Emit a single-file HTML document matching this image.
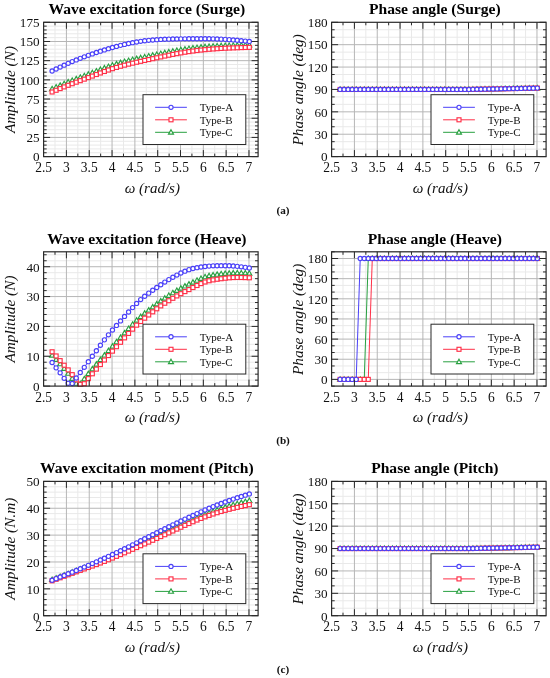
<!DOCTYPE html>
<html><head><meta charset="utf-8"><title>Wave excitation</title>
<style>html,body{margin:0;padding:0;background:#fff;}body{width:550px;height:678px;position:relative;overflow:hidden;}</style>
</head><body>
<svg width="550" height="678" viewBox="0 0 550 678" style="position:absolute;left:0;top:0">
<rect width="550" height="678" fill="#fff"/>
<line x1="55.01" y1="22.3" x2="55.01" y2="156.6" stroke="#e9e9e9" stroke-width="1"/>
<line x1="77.83" y1="22.3" x2="77.83" y2="156.6" stroke="#e9e9e9" stroke-width="1"/>
<line x1="100.65" y1="22.3" x2="100.65" y2="156.6" stroke="#e9e9e9" stroke-width="1"/>
<line x1="123.47" y1="22.3" x2="123.47" y2="156.6" stroke="#e9e9e9" stroke-width="1"/>
<line x1="146.29" y1="22.3" x2="146.29" y2="156.6" stroke="#e9e9e9" stroke-width="1"/>
<line x1="169.11" y1="22.3" x2="169.11" y2="156.6" stroke="#e9e9e9" stroke-width="1"/>
<line x1="191.92" y1="22.3" x2="191.92" y2="156.6" stroke="#e9e9e9" stroke-width="1"/>
<line x1="214.74" y1="22.3" x2="214.74" y2="156.6" stroke="#e9e9e9" stroke-width="1"/>
<line x1="237.56" y1="22.3" x2="237.56" y2="156.6" stroke="#e9e9e9" stroke-width="1"/>
<line x1="43.6" y1="152.76" x2="258.1" y2="152.76" stroke="#e9e9e9" stroke-width="1"/>
<line x1="43.6" y1="148.93" x2="258.1" y2="148.93" stroke="#e9e9e9" stroke-width="1"/>
<line x1="43.6" y1="145.09" x2="258.1" y2="145.09" stroke="#e9e9e9" stroke-width="1"/>
<line x1="43.6" y1="141.25" x2="258.1" y2="141.25" stroke="#e9e9e9" stroke-width="1"/>
<line x1="43.6" y1="133.58" x2="258.1" y2="133.58" stroke="#e9e9e9" stroke-width="1"/>
<line x1="43.6" y1="129.74" x2="258.1" y2="129.74" stroke="#e9e9e9" stroke-width="1"/>
<line x1="43.6" y1="125.9" x2="258.1" y2="125.9" stroke="#e9e9e9" stroke-width="1"/>
<line x1="43.6" y1="122.07" x2="258.1" y2="122.07" stroke="#e9e9e9" stroke-width="1"/>
<line x1="43.6" y1="114.39" x2="258.1" y2="114.39" stroke="#e9e9e9" stroke-width="1"/>
<line x1="43.6" y1="110.55" x2="258.1" y2="110.55" stroke="#e9e9e9" stroke-width="1"/>
<line x1="43.6" y1="106.72" x2="258.1" y2="106.72" stroke="#e9e9e9" stroke-width="1"/>
<line x1="43.6" y1="102.88" x2="258.1" y2="102.88" stroke="#e9e9e9" stroke-width="1"/>
<line x1="43.6" y1="95.21" x2="258.1" y2="95.21" stroke="#e9e9e9" stroke-width="1"/>
<line x1="43.6" y1="91.37" x2="258.1" y2="91.37" stroke="#e9e9e9" stroke-width="1"/>
<line x1="43.6" y1="87.53" x2="258.1" y2="87.53" stroke="#e9e9e9" stroke-width="1"/>
<line x1="43.6" y1="83.69" x2="258.1" y2="83.69" stroke="#e9e9e9" stroke-width="1"/>
<line x1="43.6" y1="76.02" x2="258.1" y2="76.02" stroke="#e9e9e9" stroke-width="1"/>
<line x1="43.6" y1="72.18" x2="258.1" y2="72.18" stroke="#e9e9e9" stroke-width="1"/>
<line x1="43.6" y1="68.35" x2="258.1" y2="68.35" stroke="#e9e9e9" stroke-width="1"/>
<line x1="43.6" y1="64.51" x2="258.1" y2="64.51" stroke="#e9e9e9" stroke-width="1"/>
<line x1="43.6" y1="56.83" x2="258.1" y2="56.83" stroke="#e9e9e9" stroke-width="1"/>
<line x1="43.6" y1="53" x2="258.1" y2="53" stroke="#e9e9e9" stroke-width="1"/>
<line x1="43.6" y1="49.16" x2="258.1" y2="49.16" stroke="#e9e9e9" stroke-width="1"/>
<line x1="43.6" y1="45.32" x2="258.1" y2="45.32" stroke="#e9e9e9" stroke-width="1"/>
<line x1="43.6" y1="37.65" x2="258.1" y2="37.65" stroke="#e9e9e9" stroke-width="1"/>
<line x1="43.6" y1="33.81" x2="258.1" y2="33.81" stroke="#e9e9e9" stroke-width="1"/>
<line x1="43.6" y1="29.97" x2="258.1" y2="29.97" stroke="#e9e9e9" stroke-width="1"/>
<line x1="43.6" y1="26.14" x2="258.1" y2="26.14" stroke="#e9e9e9" stroke-width="1"/>
<line x1="66.42" y1="22.3" x2="66.42" y2="156.6" stroke="#b6b6b6" stroke-width="1"/>
<line x1="89.24" y1="22.3" x2="89.24" y2="156.6" stroke="#b6b6b6" stroke-width="1"/>
<line x1="112.06" y1="22.3" x2="112.06" y2="156.6" stroke="#b6b6b6" stroke-width="1"/>
<line x1="134.88" y1="22.3" x2="134.88" y2="156.6" stroke="#b6b6b6" stroke-width="1"/>
<line x1="157.7" y1="22.3" x2="157.7" y2="156.6" stroke="#b6b6b6" stroke-width="1"/>
<line x1="180.51" y1="22.3" x2="180.51" y2="156.6" stroke="#b6b6b6" stroke-width="1"/>
<line x1="203.33" y1="22.3" x2="203.33" y2="156.6" stroke="#b6b6b6" stroke-width="1"/>
<line x1="226.15" y1="22.3" x2="226.15" y2="156.6" stroke="#b6b6b6" stroke-width="1"/>
<line x1="248.97" y1="22.3" x2="248.97" y2="156.6" stroke="#b6b6b6" stroke-width="1"/>
<line x1="43.6" y1="137.41" x2="258.1" y2="137.41" stroke="#b6b6b6" stroke-width="1"/>
<line x1="43.6" y1="118.23" x2="258.1" y2="118.23" stroke="#b6b6b6" stroke-width="1"/>
<line x1="43.6" y1="99.04" x2="258.1" y2="99.04" stroke="#b6b6b6" stroke-width="1"/>
<line x1="43.6" y1="79.86" x2="258.1" y2="79.86" stroke="#b6b6b6" stroke-width="1"/>
<line x1="43.6" y1="60.67" x2="258.1" y2="60.67" stroke="#b6b6b6" stroke-width="1"/>
<line x1="43.6" y1="41.49" x2="258.1" y2="41.49" stroke="#b6b6b6" stroke-width="1"/>
<polyline points="52.09,88.91 56.11,87.18 60.14,85.46 64.16,83.77 68.19,82.13 72.22,80.53 76.24,78.97 80.27,77.43 84.29,75.89 88.32,74.34 92.34,72.77 96.37,71.19 100.39,69.63 104.42,68.11 108.44,66.64 112.47,65.27 116.49,63.99 120.52,62.8 124.54,61.69 128.57,60.64 132.59,59.65 136.62,58.72 140.65,57.86 144.67,57.02 148.7,56.19 152.72,55.35 156.75,54.51 160.77,53.68 164.8,52.85 168.82,52.05 172.85,51.28 176.87,50.55 180.9,49.87 184.92,49.24 188.95,48.66 192.97,48.13 197,47.66 201.02,47.24 205.05,46.87 209.08,46.55 213.1,46.28 217.13,46.04 221.15,45.84 225.18,45.67 229.2,45.53 233.23,45.42 237.25,45.32 241.28,45.23 245.3,45.16 249.33,45.08" fill="none" stroke="#28a040" stroke-width="1"/>
<path d="M52.09 86.31L54.59 90.71L49.59 90.71Z" fill="#fff" stroke="#28a040" stroke-width="1.15" stroke-linejoin="miter"/>
<path d="M56.11 84.58L58.61 88.98L53.61 88.98Z" fill="#fff" stroke="#28a040" stroke-width="1.15" stroke-linejoin="miter"/>
<path d="M60.14 82.86L62.64 87.26L57.64 87.26Z" fill="#fff" stroke="#28a040" stroke-width="1.15" stroke-linejoin="miter"/>
<path d="M64.16 81.17L66.66 85.57L61.66 85.57Z" fill="#fff" stroke="#28a040" stroke-width="1.15" stroke-linejoin="miter"/>
<path d="M68.19 79.53L70.69 83.93L65.69 83.93Z" fill="#fff" stroke="#28a040" stroke-width="1.15" stroke-linejoin="miter"/>
<path d="M72.22 77.93L74.72 82.33L69.72 82.33Z" fill="#fff" stroke="#28a040" stroke-width="1.15" stroke-linejoin="miter"/>
<path d="M76.24 76.37L78.74 80.77L73.74 80.77Z" fill="#fff" stroke="#28a040" stroke-width="1.15" stroke-linejoin="miter"/>
<path d="M80.27 74.83L82.77 79.23L77.77 79.23Z" fill="#fff" stroke="#28a040" stroke-width="1.15" stroke-linejoin="miter"/>
<path d="M84.29 73.29L86.79 77.69L81.79 77.69Z" fill="#fff" stroke="#28a040" stroke-width="1.15" stroke-linejoin="miter"/>
<path d="M88.32 71.74L90.82 76.14L85.82 76.14Z" fill="#fff" stroke="#28a040" stroke-width="1.15" stroke-linejoin="miter"/>
<path d="M92.34 70.17L94.84 74.57L89.84 74.57Z" fill="#fff" stroke="#28a040" stroke-width="1.15" stroke-linejoin="miter"/>
<path d="M96.37 68.59L98.87 72.99L93.87 72.99Z" fill="#fff" stroke="#28a040" stroke-width="1.15" stroke-linejoin="miter"/>
<path d="M100.39 67.03L102.89 71.43L97.89 71.43Z" fill="#fff" stroke="#28a040" stroke-width="1.15" stroke-linejoin="miter"/>
<path d="M104.42 65.51L106.92 69.91L101.92 69.91Z" fill="#fff" stroke="#28a040" stroke-width="1.15" stroke-linejoin="miter"/>
<path d="M108.44 64.04L110.94 68.44L105.94 68.44Z" fill="#fff" stroke="#28a040" stroke-width="1.15" stroke-linejoin="miter"/>
<path d="M112.47 62.67L114.97 67.07L109.97 67.07Z" fill="#fff" stroke="#28a040" stroke-width="1.15" stroke-linejoin="miter"/>
<path d="M116.49 61.39L118.99 65.79L113.99 65.79Z" fill="#fff" stroke="#28a040" stroke-width="1.15" stroke-linejoin="miter"/>
<path d="M120.52 60.2L123.02 64.6L118.02 64.6Z" fill="#fff" stroke="#28a040" stroke-width="1.15" stroke-linejoin="miter"/>
<path d="M124.54 59.09L127.04 63.49L122.04 63.49Z" fill="#fff" stroke="#28a040" stroke-width="1.15" stroke-linejoin="miter"/>
<path d="M128.57 58.04L131.07 62.44L126.07 62.44Z" fill="#fff" stroke="#28a040" stroke-width="1.15" stroke-linejoin="miter"/>
<path d="M132.59 57.05L135.09 61.45L130.09 61.45Z" fill="#fff" stroke="#28a040" stroke-width="1.15" stroke-linejoin="miter"/>
<path d="M136.62 56.12L139.12 60.52L134.12 60.52Z" fill="#fff" stroke="#28a040" stroke-width="1.15" stroke-linejoin="miter"/>
<path d="M140.65 55.26L143.15 59.66L138.15 59.66Z" fill="#fff" stroke="#28a040" stroke-width="1.15" stroke-linejoin="miter"/>
<path d="M144.67 54.42L147.17 58.82L142.17 58.82Z" fill="#fff" stroke="#28a040" stroke-width="1.15" stroke-linejoin="miter"/>
<path d="M148.7 53.59L151.2 57.99L146.2 57.99Z" fill="#fff" stroke="#28a040" stroke-width="1.15" stroke-linejoin="miter"/>
<path d="M152.72 52.75L155.22 57.15L150.22 57.15Z" fill="#fff" stroke="#28a040" stroke-width="1.15" stroke-linejoin="miter"/>
<path d="M156.75 51.91L159.25 56.31L154.25 56.31Z" fill="#fff" stroke="#28a040" stroke-width="1.15" stroke-linejoin="miter"/>
<path d="M160.77 51.08L163.27 55.48L158.27 55.48Z" fill="#fff" stroke="#28a040" stroke-width="1.15" stroke-linejoin="miter"/>
<path d="M164.8 50.25L167.3 54.65L162.3 54.65Z" fill="#fff" stroke="#28a040" stroke-width="1.15" stroke-linejoin="miter"/>
<path d="M168.82 49.45L171.32 53.85L166.32 53.85Z" fill="#fff" stroke="#28a040" stroke-width="1.15" stroke-linejoin="miter"/>
<path d="M172.85 48.68L175.35 53.08L170.35 53.08Z" fill="#fff" stroke="#28a040" stroke-width="1.15" stroke-linejoin="miter"/>
<path d="M176.87 47.95L179.37 52.35L174.37 52.35Z" fill="#fff" stroke="#28a040" stroke-width="1.15" stroke-linejoin="miter"/>
<path d="M180.9 47.27L183.4 51.67L178.4 51.67Z" fill="#fff" stroke="#28a040" stroke-width="1.15" stroke-linejoin="miter"/>
<path d="M184.92 46.64L187.42 51.04L182.42 51.04Z" fill="#fff" stroke="#28a040" stroke-width="1.15" stroke-linejoin="miter"/>
<path d="M188.95 46.06L191.45 50.46L186.45 50.46Z" fill="#fff" stroke="#28a040" stroke-width="1.15" stroke-linejoin="miter"/>
<path d="M192.97 45.53L195.47 49.93L190.47 49.93Z" fill="#fff" stroke="#28a040" stroke-width="1.15" stroke-linejoin="miter"/>
<path d="M197 45.06L199.5 49.46L194.5 49.46Z" fill="#fff" stroke="#28a040" stroke-width="1.15" stroke-linejoin="miter"/>
<path d="M201.02 44.64L203.52 49.04L198.52 49.04Z" fill="#fff" stroke="#28a040" stroke-width="1.15" stroke-linejoin="miter"/>
<path d="M205.05 44.27L207.55 48.67L202.55 48.67Z" fill="#fff" stroke="#28a040" stroke-width="1.15" stroke-linejoin="miter"/>
<path d="M209.08 43.95L211.58 48.35L206.58 48.35Z" fill="#fff" stroke="#28a040" stroke-width="1.15" stroke-linejoin="miter"/>
<path d="M213.1 43.68L215.6 48.08L210.6 48.08Z" fill="#fff" stroke="#28a040" stroke-width="1.15" stroke-linejoin="miter"/>
<path d="M217.13 43.44L219.63 47.84L214.63 47.84Z" fill="#fff" stroke="#28a040" stroke-width="1.15" stroke-linejoin="miter"/>
<path d="M221.15 43.24L223.65 47.64L218.65 47.64Z" fill="#fff" stroke="#28a040" stroke-width="1.15" stroke-linejoin="miter"/>
<path d="M225.18 43.07L227.68 47.47L222.68 47.47Z" fill="#fff" stroke="#28a040" stroke-width="1.15" stroke-linejoin="miter"/>
<path d="M229.2 42.93L231.7 47.33L226.7 47.33Z" fill="#fff" stroke="#28a040" stroke-width="1.15" stroke-linejoin="miter"/>
<path d="M233.23 42.82L235.73 47.22L230.73 47.22Z" fill="#fff" stroke="#28a040" stroke-width="1.15" stroke-linejoin="miter"/>
<path d="M237.25 42.72L239.75 47.12L234.75 47.12Z" fill="#fff" stroke="#28a040" stroke-width="1.15" stroke-linejoin="miter"/>
<path d="M241.28 42.63L243.78 47.03L238.78 47.03Z" fill="#fff" stroke="#28a040" stroke-width="1.15" stroke-linejoin="miter"/>
<path d="M245.3 42.56L247.8 46.96L242.8 46.96Z" fill="#fff" stroke="#28a040" stroke-width="1.15" stroke-linejoin="miter"/>
<path d="M249.33 42.48L251.83 46.88L246.83 46.88Z" fill="#fff" stroke="#28a040" stroke-width="1.15" stroke-linejoin="miter"/>
<polyline points="52.09,91.98 56.11,90.27 60.14,88.58 64.16,86.91 68.19,85.29 72.22,83.72 76.24,82.17 80.27,80.65 84.29,79.13 88.32,77.61 92.34,76.06 96.37,74.51 100.39,72.97 104.42,71.47 108.44,70.03 112.47,68.67 116.49,67.42 120.52,66.25 124.54,65.16 128.57,64.14 132.59,63.16 136.62,62.23 140.65,61.33 144.67,60.44 148.7,59.57 152.72,58.69 156.75,57.81 160.77,56.93 164.8,56.06 168.82,55.21 172.85,54.4 176.87,53.63 180.9,52.9 184.92,52.23 188.95,51.61 192.97,51.04 197,50.52 201.02,50.06 205.05,49.65 209.08,49.29 213.1,48.97 217.13,48.69 221.15,48.44 225.18,48.23 229.2,48.05 233.23,47.89 237.25,47.75 241.28,47.62 245.3,47.5 249.33,47.38" fill="none" stroke="#ff3048" stroke-width="1"/>
<rect x="50.09" y="89.98" width="4" height="4" fill="#fff" stroke="#ff3048" stroke-width="1.15"/>
<rect x="54.11" y="88.27" width="4" height="4" fill="#fff" stroke="#ff3048" stroke-width="1.15"/>
<rect x="58.14" y="86.58" width="4" height="4" fill="#fff" stroke="#ff3048" stroke-width="1.15"/>
<rect x="62.16" y="84.91" width="4" height="4" fill="#fff" stroke="#ff3048" stroke-width="1.15"/>
<rect x="66.19" y="83.29" width="4" height="4" fill="#fff" stroke="#ff3048" stroke-width="1.15"/>
<rect x="70.22" y="81.72" width="4" height="4" fill="#fff" stroke="#ff3048" stroke-width="1.15"/>
<rect x="74.24" y="80.17" width="4" height="4" fill="#fff" stroke="#ff3048" stroke-width="1.15"/>
<rect x="78.27" y="78.65" width="4" height="4" fill="#fff" stroke="#ff3048" stroke-width="1.15"/>
<rect x="82.29" y="77.13" width="4" height="4" fill="#fff" stroke="#ff3048" stroke-width="1.15"/>
<rect x="86.32" y="75.61" width="4" height="4" fill="#fff" stroke="#ff3048" stroke-width="1.15"/>
<rect x="90.34" y="74.06" width="4" height="4" fill="#fff" stroke="#ff3048" stroke-width="1.15"/>
<rect x="94.37" y="72.51" width="4" height="4" fill="#fff" stroke="#ff3048" stroke-width="1.15"/>
<rect x="98.39" y="70.97" width="4" height="4" fill="#fff" stroke="#ff3048" stroke-width="1.15"/>
<rect x="102.42" y="69.47" width="4" height="4" fill="#fff" stroke="#ff3048" stroke-width="1.15"/>
<rect x="106.44" y="68.03" width="4" height="4" fill="#fff" stroke="#ff3048" stroke-width="1.15"/>
<rect x="110.47" y="66.67" width="4" height="4" fill="#fff" stroke="#ff3048" stroke-width="1.15"/>
<rect x="114.49" y="65.42" width="4" height="4" fill="#fff" stroke="#ff3048" stroke-width="1.15"/>
<rect x="118.52" y="64.25" width="4" height="4" fill="#fff" stroke="#ff3048" stroke-width="1.15"/>
<rect x="122.54" y="63.16" width="4" height="4" fill="#fff" stroke="#ff3048" stroke-width="1.15"/>
<rect x="126.57" y="62.14" width="4" height="4" fill="#fff" stroke="#ff3048" stroke-width="1.15"/>
<rect x="130.59" y="61.16" width="4" height="4" fill="#fff" stroke="#ff3048" stroke-width="1.15"/>
<rect x="134.62" y="60.23" width="4" height="4" fill="#fff" stroke="#ff3048" stroke-width="1.15"/>
<rect x="138.65" y="59.33" width="4" height="4" fill="#fff" stroke="#ff3048" stroke-width="1.15"/>
<rect x="142.67" y="58.44" width="4" height="4" fill="#fff" stroke="#ff3048" stroke-width="1.15"/>
<rect x="146.7" y="57.57" width="4" height="4" fill="#fff" stroke="#ff3048" stroke-width="1.15"/>
<rect x="150.72" y="56.69" width="4" height="4" fill="#fff" stroke="#ff3048" stroke-width="1.15"/>
<rect x="154.75" y="55.81" width="4" height="4" fill="#fff" stroke="#ff3048" stroke-width="1.15"/>
<rect x="158.77" y="54.93" width="4" height="4" fill="#fff" stroke="#ff3048" stroke-width="1.15"/>
<rect x="162.8" y="54.06" width="4" height="4" fill="#fff" stroke="#ff3048" stroke-width="1.15"/>
<rect x="166.82" y="53.21" width="4" height="4" fill="#fff" stroke="#ff3048" stroke-width="1.15"/>
<rect x="170.85" y="52.4" width="4" height="4" fill="#fff" stroke="#ff3048" stroke-width="1.15"/>
<rect x="174.87" y="51.63" width="4" height="4" fill="#fff" stroke="#ff3048" stroke-width="1.15"/>
<rect x="178.9" y="50.9" width="4" height="4" fill="#fff" stroke="#ff3048" stroke-width="1.15"/>
<rect x="182.92" y="50.23" width="4" height="4" fill="#fff" stroke="#ff3048" stroke-width="1.15"/>
<rect x="186.95" y="49.61" width="4" height="4" fill="#fff" stroke="#ff3048" stroke-width="1.15"/>
<rect x="190.97" y="49.04" width="4" height="4" fill="#fff" stroke="#ff3048" stroke-width="1.15"/>
<rect x="195" y="48.52" width="4" height="4" fill="#fff" stroke="#ff3048" stroke-width="1.15"/>
<rect x="199.02" y="48.06" width="4" height="4" fill="#fff" stroke="#ff3048" stroke-width="1.15"/>
<rect x="203.05" y="47.65" width="4" height="4" fill="#fff" stroke="#ff3048" stroke-width="1.15"/>
<rect x="207.08" y="47.29" width="4" height="4" fill="#fff" stroke="#ff3048" stroke-width="1.15"/>
<rect x="211.1" y="46.97" width="4" height="4" fill="#fff" stroke="#ff3048" stroke-width="1.15"/>
<rect x="215.13" y="46.69" width="4" height="4" fill="#fff" stroke="#ff3048" stroke-width="1.15"/>
<rect x="219.15" y="46.44" width="4" height="4" fill="#fff" stroke="#ff3048" stroke-width="1.15"/>
<rect x="223.18" y="46.23" width="4" height="4" fill="#fff" stroke="#ff3048" stroke-width="1.15"/>
<rect x="227.2" y="46.05" width="4" height="4" fill="#fff" stroke="#ff3048" stroke-width="1.15"/>
<rect x="231.23" y="45.89" width="4" height="4" fill="#fff" stroke="#ff3048" stroke-width="1.15"/>
<rect x="235.25" y="45.75" width="4" height="4" fill="#fff" stroke="#ff3048" stroke-width="1.15"/>
<rect x="239.28" y="45.62" width="4" height="4" fill="#fff" stroke="#ff3048" stroke-width="1.15"/>
<rect x="243.3" y="45.5" width="4" height="4" fill="#fff" stroke="#ff3048" stroke-width="1.15"/>
<rect x="247.33" y="45.38" width="4" height="4" fill="#fff" stroke="#ff3048" stroke-width="1.15"/>
<polyline points="52.09,71.03 56.11,69.04 60.14,67.08 64.16,65.16 68.19,63.33 72.22,61.58 76.24,59.92 80.27,58.33 84.29,56.8 88.32,55.32 92.34,53.9 96.37,52.52 100.39,51.19 104.42,49.91 108.44,48.68 112.47,47.51 116.49,46.4 120.52,45.35 124.54,44.38 128.57,43.48 132.59,42.67 136.62,41.95 140.65,41.33 144.67,40.79 148.7,40.34 152.72,39.97 156.75,39.68 160.77,39.44 164.8,39.26 168.82,39.13 172.85,39.02 176.87,38.94 180.9,38.87 184.92,38.81 188.95,38.77 192.97,38.74 197,38.73 201.02,38.72 205.05,38.74 209.08,38.78 213.1,38.86 217.13,38.97 221.15,39.14 225.18,39.36 229.2,39.63 233.23,39.94 237.25,40.29 241.28,40.66 245.3,41.05 249.33,41.44" fill="none" stroke="#4a40f8" stroke-width="1"/>
<circle cx="52.09" cy="71.03" r="2.1" fill="#fff" stroke="#4a40f8" stroke-width="1.15"/>
<circle cx="56.11" cy="69.04" r="2.1" fill="#fff" stroke="#4a40f8" stroke-width="1.15"/>
<circle cx="60.14" cy="67.08" r="2.1" fill="#fff" stroke="#4a40f8" stroke-width="1.15"/>
<circle cx="64.16" cy="65.16" r="2.1" fill="#fff" stroke="#4a40f8" stroke-width="1.15"/>
<circle cx="68.19" cy="63.33" r="2.1" fill="#fff" stroke="#4a40f8" stroke-width="1.15"/>
<circle cx="72.22" cy="61.58" r="2.1" fill="#fff" stroke="#4a40f8" stroke-width="1.15"/>
<circle cx="76.24" cy="59.92" r="2.1" fill="#fff" stroke="#4a40f8" stroke-width="1.15"/>
<circle cx="80.27" cy="58.33" r="2.1" fill="#fff" stroke="#4a40f8" stroke-width="1.15"/>
<circle cx="84.29" cy="56.8" r="2.1" fill="#fff" stroke="#4a40f8" stroke-width="1.15"/>
<circle cx="88.32" cy="55.32" r="2.1" fill="#fff" stroke="#4a40f8" stroke-width="1.15"/>
<circle cx="92.34" cy="53.9" r="2.1" fill="#fff" stroke="#4a40f8" stroke-width="1.15"/>
<circle cx="96.37" cy="52.52" r="2.1" fill="#fff" stroke="#4a40f8" stroke-width="1.15"/>
<circle cx="100.39" cy="51.19" r="2.1" fill="#fff" stroke="#4a40f8" stroke-width="1.15"/>
<circle cx="104.42" cy="49.91" r="2.1" fill="#fff" stroke="#4a40f8" stroke-width="1.15"/>
<circle cx="108.44" cy="48.68" r="2.1" fill="#fff" stroke="#4a40f8" stroke-width="1.15"/>
<circle cx="112.47" cy="47.51" r="2.1" fill="#fff" stroke="#4a40f8" stroke-width="1.15"/>
<circle cx="116.49" cy="46.4" r="2.1" fill="#fff" stroke="#4a40f8" stroke-width="1.15"/>
<circle cx="120.52" cy="45.35" r="2.1" fill="#fff" stroke="#4a40f8" stroke-width="1.15"/>
<circle cx="124.54" cy="44.38" r="2.1" fill="#fff" stroke="#4a40f8" stroke-width="1.15"/>
<circle cx="128.57" cy="43.48" r="2.1" fill="#fff" stroke="#4a40f8" stroke-width="1.15"/>
<circle cx="132.59" cy="42.67" r="2.1" fill="#fff" stroke="#4a40f8" stroke-width="1.15"/>
<circle cx="136.62" cy="41.95" r="2.1" fill="#fff" stroke="#4a40f8" stroke-width="1.15"/>
<circle cx="140.65" cy="41.33" r="2.1" fill="#fff" stroke="#4a40f8" stroke-width="1.15"/>
<circle cx="144.67" cy="40.79" r="2.1" fill="#fff" stroke="#4a40f8" stroke-width="1.15"/>
<circle cx="148.7" cy="40.34" r="2.1" fill="#fff" stroke="#4a40f8" stroke-width="1.15"/>
<circle cx="152.72" cy="39.97" r="2.1" fill="#fff" stroke="#4a40f8" stroke-width="1.15"/>
<circle cx="156.75" cy="39.68" r="2.1" fill="#fff" stroke="#4a40f8" stroke-width="1.15"/>
<circle cx="160.77" cy="39.44" r="2.1" fill="#fff" stroke="#4a40f8" stroke-width="1.15"/>
<circle cx="164.8" cy="39.26" r="2.1" fill="#fff" stroke="#4a40f8" stroke-width="1.15"/>
<circle cx="168.82" cy="39.13" r="2.1" fill="#fff" stroke="#4a40f8" stroke-width="1.15"/>
<circle cx="172.85" cy="39.02" r="2.1" fill="#fff" stroke="#4a40f8" stroke-width="1.15"/>
<circle cx="176.87" cy="38.94" r="2.1" fill="#fff" stroke="#4a40f8" stroke-width="1.15"/>
<circle cx="180.9" cy="38.87" r="2.1" fill="#fff" stroke="#4a40f8" stroke-width="1.15"/>
<circle cx="184.92" cy="38.81" r="2.1" fill="#fff" stroke="#4a40f8" stroke-width="1.15"/>
<circle cx="188.95" cy="38.77" r="2.1" fill="#fff" stroke="#4a40f8" stroke-width="1.15"/>
<circle cx="192.97" cy="38.74" r="2.1" fill="#fff" stroke="#4a40f8" stroke-width="1.15"/>
<circle cx="197" cy="38.73" r="2.1" fill="#fff" stroke="#4a40f8" stroke-width="1.15"/>
<circle cx="201.02" cy="38.72" r="2.1" fill="#fff" stroke="#4a40f8" stroke-width="1.15"/>
<circle cx="205.05" cy="38.74" r="2.1" fill="#fff" stroke="#4a40f8" stroke-width="1.15"/>
<circle cx="209.08" cy="38.78" r="2.1" fill="#fff" stroke="#4a40f8" stroke-width="1.15"/>
<circle cx="213.1" cy="38.86" r="2.1" fill="#fff" stroke="#4a40f8" stroke-width="1.15"/>
<circle cx="217.13" cy="38.97" r="2.1" fill="#fff" stroke="#4a40f8" stroke-width="1.15"/>
<circle cx="221.15" cy="39.14" r="2.1" fill="#fff" stroke="#4a40f8" stroke-width="1.15"/>
<circle cx="225.18" cy="39.36" r="2.1" fill="#fff" stroke="#4a40f8" stroke-width="1.15"/>
<circle cx="229.2" cy="39.63" r="2.1" fill="#fff" stroke="#4a40f8" stroke-width="1.15"/>
<circle cx="233.23" cy="39.94" r="2.1" fill="#fff" stroke="#4a40f8" stroke-width="1.15"/>
<circle cx="237.25" cy="40.29" r="2.1" fill="#fff" stroke="#4a40f8" stroke-width="1.15"/>
<circle cx="241.28" cy="40.66" r="2.1" fill="#fff" stroke="#4a40f8" stroke-width="1.15"/>
<circle cx="245.3" cy="41.05" r="2.1" fill="#fff" stroke="#4a40f8" stroke-width="1.15"/>
<circle cx="249.33" cy="41.44" r="2.1" fill="#fff" stroke="#4a40f8" stroke-width="1.15"/>
<rect x="143" y="94.7" width="102.8" height="49.8" fill="#fff" stroke="#2a2a2a" stroke-width="1"/>
<line x1="155.1" y1="107.3" x2="186.9" y2="107.3" stroke="#4a40f8" stroke-width="1"/>
<circle cx="171" cy="107.3" r="2.1" fill="#fff" stroke="#4a40f8" stroke-width="1.15"/>
<text x="199.7" y="111.3" font-family='"Liberation Serif", "Times New Roman", serif' font-size="11" fill="#111">Type-A</text>
<line x1="155.1" y1="119.8" x2="186.9" y2="119.8" stroke="#ff3048" stroke-width="1"/>
<rect x="169" y="117.8" width="4" height="4" fill="#fff" stroke="#ff3048" stroke-width="1.15"/>
<text x="199.7" y="123.8" font-family='"Liberation Serif", "Times New Roman", serif' font-size="11" fill="#111">Type-B</text>
<line x1="155.1" y1="132.3" x2="186.9" y2="132.3" stroke="#28a040" stroke-width="1"/>
<path d="M171 129.7L173.5 134.1L168.5 134.1Z" fill="#fff" stroke="#28a040" stroke-width="1.15" stroke-linejoin="miter"/>
<text x="199.7" y="136.3" font-family='"Liberation Serif", "Times New Roman", serif' font-size="11" fill="#111">Type-C</text>
<rect x="43.6" y="22.3" width="214.5" height="134.3" fill="none" stroke="#2a2a2a" stroke-width="1.2"/>
<path d="M55.01 156.6v-3.0M55.01 22.3v3.0M77.83 156.6v-3.0M77.83 22.3v3.0M100.65 156.6v-3.0M100.65 22.3v3.0M123.47 156.6v-3.0M123.47 22.3v3.0M146.29 156.6v-3.0M146.29 22.3v3.0M169.11 156.6v-3.0M169.11 22.3v3.0M191.92 156.6v-3.0M191.92 22.3v3.0M214.74 156.6v-3.0M214.74 22.3v3.0M237.56 156.6v-3.0M237.56 22.3v3.0M66.42 156.6v-6.5M66.42 22.3v6.5M89.24 156.6v-6.5M89.24 22.3v6.5M112.06 156.6v-6.5M112.06 22.3v6.5M134.88 156.6v-6.5M134.88 22.3v6.5M157.7 156.6v-6.5M157.7 22.3v6.5M180.51 156.6v-6.5M180.51 22.3v6.5M203.33 156.6v-6.5M203.33 22.3v6.5M226.15 156.6v-6.5M226.15 22.3v6.5M248.97 156.6v-6.5M248.97 22.3v6.5M43.6 152.76h3.1M258.1 152.76h-3.1M43.6 148.93h3.1M258.1 148.93h-3.1M43.6 145.09h3.1M258.1 145.09h-3.1M43.6 141.25h3.1M258.1 141.25h-3.1M43.6 133.58h3.1M258.1 133.58h-3.1M43.6 129.74h3.1M258.1 129.74h-3.1M43.6 125.9h3.1M258.1 125.9h-3.1M43.6 122.07h3.1M258.1 122.07h-3.1M43.6 114.39h3.1M258.1 114.39h-3.1M43.6 110.55h3.1M258.1 110.55h-3.1M43.6 106.72h3.1M258.1 106.72h-3.1M43.6 102.88h3.1M258.1 102.88h-3.1M43.6 95.21h3.1M258.1 95.21h-3.1M43.6 91.37h3.1M258.1 91.37h-3.1M43.6 87.53h3.1M258.1 87.53h-3.1M43.6 83.69h3.1M258.1 83.69h-3.1M43.6 76.02h3.1M258.1 76.02h-3.1M43.6 72.18h3.1M258.1 72.18h-3.1M43.6 68.35h3.1M258.1 68.35h-3.1M43.6 64.51h3.1M258.1 64.51h-3.1M43.6 56.83h3.1M258.1 56.83h-3.1M43.6 53h3.1M258.1 53h-3.1M43.6 49.16h3.1M258.1 49.16h-3.1M43.6 45.32h3.1M258.1 45.32h-3.1M43.6 37.65h3.1M258.1 37.65h-3.1M43.6 33.81h3.1M258.1 33.81h-3.1M43.6 29.97h3.1M258.1 29.97h-3.1M43.6 26.14h3.1M258.1 26.14h-3.1M43.6 156.6h6.5M258.1 156.6h-6.5M43.6 137.41h6.5M258.1 137.41h-6.5M43.6 118.23h6.5M258.1 118.23h-6.5M43.6 99.04h6.5M258.1 99.04h-6.5M43.6 79.86h6.5M258.1 79.86h-6.5M43.6 60.67h6.5M258.1 60.67h-6.5M43.6 41.49h6.5M258.1 41.49h-6.5M43.6 22.3h6.5M258.1 22.3h-6.5" stroke="#2a2a2a" stroke-width="1" fill="none"/>
<text transform="translate(43.6,172.3) scale(1,1.05)" text-anchor="middle" font-family='"Liberation Serif", "Times New Roman", serif' font-size="13.5" fill="#111">2.5</text>
<text transform="translate(66.42,172.3) scale(1,1.05)" text-anchor="middle" font-family='"Liberation Serif", "Times New Roman", serif' font-size="13.5" fill="#111">3</text>
<text transform="translate(89.24,172.3) scale(1,1.05)" text-anchor="middle" font-family='"Liberation Serif", "Times New Roman", serif' font-size="13.5" fill="#111">3.5</text>
<text transform="translate(112.06,172.3) scale(1,1.05)" text-anchor="middle" font-family='"Liberation Serif", "Times New Roman", serif' font-size="13.5" fill="#111">4</text>
<text transform="translate(134.88,172.3) scale(1,1.05)" text-anchor="middle" font-family='"Liberation Serif", "Times New Roman", serif' font-size="13.5" fill="#111">4.5</text>
<text transform="translate(157.7,172.3) scale(1,1.05)" text-anchor="middle" font-family='"Liberation Serif", "Times New Roman", serif' font-size="13.5" fill="#111">5</text>
<text transform="translate(180.51,172.3) scale(1,1.05)" text-anchor="middle" font-family='"Liberation Serif", "Times New Roman", serif' font-size="13.5" fill="#111">5.5</text>
<text transform="translate(203.33,172.3) scale(1,1.05)" text-anchor="middle" font-family='"Liberation Serif", "Times New Roman", serif' font-size="13.5" fill="#111">6</text>
<text transform="translate(226.15,172.3) scale(1,1.05)" text-anchor="middle" font-family='"Liberation Serif", "Times New Roman", serif' font-size="13.5" fill="#111">6.5</text>
<text transform="translate(248.97,172.3) scale(1,1.05)" text-anchor="middle" font-family='"Liberation Serif", "Times New Roman", serif' font-size="13.5" fill="#111">7</text>
<text transform="translate(39.6,161.4) scale(1,1.02)" text-anchor="end" font-family='"Liberation Serif", "Times New Roman", serif' font-size="13.2" fill="#111">0</text>
<text transform="translate(39.6,142.21) scale(1,1.02)" text-anchor="end" font-family='"Liberation Serif", "Times New Roman", serif' font-size="13.2" fill="#111">25</text>
<text transform="translate(39.6,123.03) scale(1,1.02)" text-anchor="end" font-family='"Liberation Serif", "Times New Roman", serif' font-size="13.2" fill="#111">50</text>
<text transform="translate(39.6,103.84) scale(1,1.02)" text-anchor="end" font-family='"Liberation Serif", "Times New Roman", serif' font-size="13.2" fill="#111">75</text>
<text transform="translate(39.6,84.66) scale(1,1.02)" text-anchor="end" font-family='"Liberation Serif", "Times New Roman", serif' font-size="13.2" fill="#111">100</text>
<text transform="translate(39.6,65.47) scale(1,1.02)" text-anchor="end" font-family='"Liberation Serif", "Times New Roman", serif' font-size="13.2" fill="#111">125</text>
<text transform="translate(39.6,46.29) scale(1,1.02)" text-anchor="end" font-family='"Liberation Serif", "Times New Roman", serif' font-size="13.2" fill="#111">150</text>
<text transform="translate(39.6,27.1) scale(1,1.02)" text-anchor="end" font-family='"Liberation Serif", "Times New Roman", serif' font-size="13.2" fill="#111">175</text>
<text x="146.85" y="14.1" text-anchor="middle" font-family='"Liberation Serif", "Times New Roman", serif' font-weight="bold" font-size="15.6" fill="#000">Wave excitation force (Surge)</text>
<text x="152.35" y="192.8" text-anchor="middle" font-family='"Liberation Serif", "Times New Roman", serif' font-style="italic" font-size="15" fill="#111">ω (rad/s)</text>
<text transform="translate(14.7,89.55) rotate(-90)" x="0" y="0" text-anchor="middle" font-family='"Liberation Serif", "Times New Roman", serif' font-style="italic" font-size="15.3" fill="#111">Amplitude (N)</text>
<line x1="343.01" y1="22.3" x2="343.01" y2="156.6" stroke="#e9e9e9" stroke-width="1"/>
<line x1="365.83" y1="22.3" x2="365.83" y2="156.6" stroke="#e9e9e9" stroke-width="1"/>
<line x1="388.65" y1="22.3" x2="388.65" y2="156.6" stroke="#e9e9e9" stroke-width="1"/>
<line x1="411.47" y1="22.3" x2="411.47" y2="156.6" stroke="#e9e9e9" stroke-width="1"/>
<line x1="434.29" y1="22.3" x2="434.29" y2="156.6" stroke="#e9e9e9" stroke-width="1"/>
<line x1="457.11" y1="22.3" x2="457.11" y2="156.6" stroke="#e9e9e9" stroke-width="1"/>
<line x1="479.92" y1="22.3" x2="479.92" y2="156.6" stroke="#e9e9e9" stroke-width="1"/>
<line x1="502.74" y1="22.3" x2="502.74" y2="156.6" stroke="#e9e9e9" stroke-width="1"/>
<line x1="525.56" y1="22.3" x2="525.56" y2="156.6" stroke="#e9e9e9" stroke-width="1"/>
<line x1="331.6" y1="149.14" x2="546.1" y2="149.14" stroke="#e9e9e9" stroke-width="1"/>
<line x1="331.6" y1="141.68" x2="546.1" y2="141.68" stroke="#e9e9e9" stroke-width="1"/>
<line x1="331.6" y1="126.76" x2="546.1" y2="126.76" stroke="#e9e9e9" stroke-width="1"/>
<line x1="331.6" y1="119.29" x2="546.1" y2="119.29" stroke="#e9e9e9" stroke-width="1"/>
<line x1="331.6" y1="104.37" x2="546.1" y2="104.37" stroke="#e9e9e9" stroke-width="1"/>
<line x1="331.6" y1="96.91" x2="546.1" y2="96.91" stroke="#e9e9e9" stroke-width="1"/>
<line x1="331.6" y1="81.99" x2="546.1" y2="81.99" stroke="#e9e9e9" stroke-width="1"/>
<line x1="331.6" y1="74.53" x2="546.1" y2="74.53" stroke="#e9e9e9" stroke-width="1"/>
<line x1="331.6" y1="59.61" x2="546.1" y2="59.61" stroke="#e9e9e9" stroke-width="1"/>
<line x1="331.6" y1="52.14" x2="546.1" y2="52.14" stroke="#e9e9e9" stroke-width="1"/>
<line x1="331.6" y1="37.22" x2="546.1" y2="37.22" stroke="#e9e9e9" stroke-width="1"/>
<line x1="331.6" y1="29.76" x2="546.1" y2="29.76" stroke="#e9e9e9" stroke-width="1"/>
<line x1="354.42" y1="22.3" x2="354.42" y2="156.6" stroke="#b6b6b6" stroke-width="1"/>
<line x1="377.24" y1="22.3" x2="377.24" y2="156.6" stroke="#b6b6b6" stroke-width="1"/>
<line x1="400.06" y1="22.3" x2="400.06" y2="156.6" stroke="#b6b6b6" stroke-width="1"/>
<line x1="422.88" y1="22.3" x2="422.88" y2="156.6" stroke="#b6b6b6" stroke-width="1"/>
<line x1="445.7" y1="22.3" x2="445.7" y2="156.6" stroke="#b6b6b6" stroke-width="1"/>
<line x1="468.51" y1="22.3" x2="468.51" y2="156.6" stroke="#b6b6b6" stroke-width="1"/>
<line x1="491.33" y1="22.3" x2="491.33" y2="156.6" stroke="#b6b6b6" stroke-width="1"/>
<line x1="514.15" y1="22.3" x2="514.15" y2="156.6" stroke="#b6b6b6" stroke-width="1"/>
<line x1="536.97" y1="22.3" x2="536.97" y2="156.6" stroke="#b6b6b6" stroke-width="1"/>
<line x1="331.6" y1="134.22" x2="546.1" y2="134.22" stroke="#b6b6b6" stroke-width="1"/>
<line x1="331.6" y1="111.83" x2="546.1" y2="111.83" stroke="#b6b6b6" stroke-width="1"/>
<line x1="331.6" y1="89.45" x2="546.1" y2="89.45" stroke="#b6b6b6" stroke-width="1"/>
<line x1="331.6" y1="67.07" x2="546.1" y2="67.07" stroke="#b6b6b6" stroke-width="1"/>
<line x1="331.6" y1="44.68" x2="546.1" y2="44.68" stroke="#b6b6b6" stroke-width="1"/>
<polyline points="340.09,89.45 344.11,89.45 348.14,89.45 352.16,89.45 356.19,89.45 360.22,89.45 364.24,89.45 368.27,89.45 372.29,89.45 376.32,89.45 380.34,89.45 384.37,89.45 388.39,89.45 392.42,89.45 396.44,89.45 400.47,89.45 404.49,89.45 408.52,89.45 412.54,89.45 416.57,89.45 420.59,89.45 424.62,89.45 428.65,89.45 432.67,89.45 436.7,89.45 440.72,89.45 444.75,89.45 448.77,89.45 452.8,89.45 456.82,89.45 460.85,89.45 464.87,89.45 468.9,89.44 472.92,89.36 476.95,89.28 480.97,89.21 485,89.13 489.02,89.05 493.05,88.97 497.08,88.89 501.1,88.81 505.13,88.73 509.15,88.65 513.18,88.57 517.2,88.49 521.23,88.42 525.25,88.34 529.28,88.26 533.3,88.18 537.33,88.1" fill="none" stroke="#28a040" stroke-width="1"/>
<path d="M340.09 86.85L342.59 91.25L337.59 91.25Z" fill="#fff" stroke="#28a040" stroke-width="1.15" stroke-linejoin="miter"/>
<path d="M344.11 86.85L346.61 91.25L341.61 91.25Z" fill="#fff" stroke="#28a040" stroke-width="1.15" stroke-linejoin="miter"/>
<path d="M348.14 86.85L350.64 91.25L345.64 91.25Z" fill="#fff" stroke="#28a040" stroke-width="1.15" stroke-linejoin="miter"/>
<path d="M352.16 86.85L354.66 91.25L349.66 91.25Z" fill="#fff" stroke="#28a040" stroke-width="1.15" stroke-linejoin="miter"/>
<path d="M356.19 86.85L358.69 91.25L353.69 91.25Z" fill="#fff" stroke="#28a040" stroke-width="1.15" stroke-linejoin="miter"/>
<path d="M360.22 86.85L362.72 91.25L357.72 91.25Z" fill="#fff" stroke="#28a040" stroke-width="1.15" stroke-linejoin="miter"/>
<path d="M364.24 86.85L366.74 91.25L361.74 91.25Z" fill="#fff" stroke="#28a040" stroke-width="1.15" stroke-linejoin="miter"/>
<path d="M368.27 86.85L370.77 91.25L365.77 91.25Z" fill="#fff" stroke="#28a040" stroke-width="1.15" stroke-linejoin="miter"/>
<path d="M372.29 86.85L374.79 91.25L369.79 91.25Z" fill="#fff" stroke="#28a040" stroke-width="1.15" stroke-linejoin="miter"/>
<path d="M376.32 86.85L378.82 91.25L373.82 91.25Z" fill="#fff" stroke="#28a040" stroke-width="1.15" stroke-linejoin="miter"/>
<path d="M380.34 86.85L382.84 91.25L377.84 91.25Z" fill="#fff" stroke="#28a040" stroke-width="1.15" stroke-linejoin="miter"/>
<path d="M384.37 86.85L386.87 91.25L381.87 91.25Z" fill="#fff" stroke="#28a040" stroke-width="1.15" stroke-linejoin="miter"/>
<path d="M388.39 86.85L390.89 91.25L385.89 91.25Z" fill="#fff" stroke="#28a040" stroke-width="1.15" stroke-linejoin="miter"/>
<path d="M392.42 86.85L394.92 91.25L389.92 91.25Z" fill="#fff" stroke="#28a040" stroke-width="1.15" stroke-linejoin="miter"/>
<path d="M396.44 86.85L398.94 91.25L393.94 91.25Z" fill="#fff" stroke="#28a040" stroke-width="1.15" stroke-linejoin="miter"/>
<path d="M400.47 86.85L402.97 91.25L397.97 91.25Z" fill="#fff" stroke="#28a040" stroke-width="1.15" stroke-linejoin="miter"/>
<path d="M404.49 86.85L406.99 91.25L401.99 91.25Z" fill="#fff" stroke="#28a040" stroke-width="1.15" stroke-linejoin="miter"/>
<path d="M408.52 86.85L411.02 91.25L406.02 91.25Z" fill="#fff" stroke="#28a040" stroke-width="1.15" stroke-linejoin="miter"/>
<path d="M412.54 86.85L415.04 91.25L410.04 91.25Z" fill="#fff" stroke="#28a040" stroke-width="1.15" stroke-linejoin="miter"/>
<path d="M416.57 86.85L419.07 91.25L414.07 91.25Z" fill="#fff" stroke="#28a040" stroke-width="1.15" stroke-linejoin="miter"/>
<path d="M420.59 86.85L423.09 91.25L418.09 91.25Z" fill="#fff" stroke="#28a040" stroke-width="1.15" stroke-linejoin="miter"/>
<path d="M424.62 86.85L427.12 91.25L422.12 91.25Z" fill="#fff" stroke="#28a040" stroke-width="1.15" stroke-linejoin="miter"/>
<path d="M428.65 86.85L431.15 91.25L426.15 91.25Z" fill="#fff" stroke="#28a040" stroke-width="1.15" stroke-linejoin="miter"/>
<path d="M432.67 86.85L435.17 91.25L430.17 91.25Z" fill="#fff" stroke="#28a040" stroke-width="1.15" stroke-linejoin="miter"/>
<path d="M436.7 86.85L439.2 91.25L434.2 91.25Z" fill="#fff" stroke="#28a040" stroke-width="1.15" stroke-linejoin="miter"/>
<path d="M440.72 86.85L443.22 91.25L438.22 91.25Z" fill="#fff" stroke="#28a040" stroke-width="1.15" stroke-linejoin="miter"/>
<path d="M444.75 86.85L447.25 91.25L442.25 91.25Z" fill="#fff" stroke="#28a040" stroke-width="1.15" stroke-linejoin="miter"/>
<path d="M448.77 86.85L451.27 91.25L446.27 91.25Z" fill="#fff" stroke="#28a040" stroke-width="1.15" stroke-linejoin="miter"/>
<path d="M452.8 86.85L455.3 91.25L450.3 91.25Z" fill="#fff" stroke="#28a040" stroke-width="1.15" stroke-linejoin="miter"/>
<path d="M456.82 86.85L459.32 91.25L454.32 91.25Z" fill="#fff" stroke="#28a040" stroke-width="1.15" stroke-linejoin="miter"/>
<path d="M460.85 86.85L463.35 91.25L458.35 91.25Z" fill="#fff" stroke="#28a040" stroke-width="1.15" stroke-linejoin="miter"/>
<path d="M464.87 86.85L467.37 91.25L462.37 91.25Z" fill="#fff" stroke="#28a040" stroke-width="1.15" stroke-linejoin="miter"/>
<path d="M468.9 86.84L471.4 91.24L466.4 91.24Z" fill="#fff" stroke="#28a040" stroke-width="1.15" stroke-linejoin="miter"/>
<path d="M472.92 86.76L475.42 91.16L470.42 91.16Z" fill="#fff" stroke="#28a040" stroke-width="1.15" stroke-linejoin="miter"/>
<path d="M476.95 86.68L479.45 91.08L474.45 91.08Z" fill="#fff" stroke="#28a040" stroke-width="1.15" stroke-linejoin="miter"/>
<path d="M480.97 86.61L483.47 91.01L478.47 91.01Z" fill="#fff" stroke="#28a040" stroke-width="1.15" stroke-linejoin="miter"/>
<path d="M485 86.53L487.5 90.93L482.5 90.93Z" fill="#fff" stroke="#28a040" stroke-width="1.15" stroke-linejoin="miter"/>
<path d="M489.02 86.45L491.52 90.85L486.52 90.85Z" fill="#fff" stroke="#28a040" stroke-width="1.15" stroke-linejoin="miter"/>
<path d="M493.05 86.37L495.55 90.77L490.55 90.77Z" fill="#fff" stroke="#28a040" stroke-width="1.15" stroke-linejoin="miter"/>
<path d="M497.08 86.29L499.58 90.69L494.58 90.69Z" fill="#fff" stroke="#28a040" stroke-width="1.15" stroke-linejoin="miter"/>
<path d="M501.1 86.21L503.6 90.61L498.6 90.61Z" fill="#fff" stroke="#28a040" stroke-width="1.15" stroke-linejoin="miter"/>
<path d="M505.13 86.13L507.63 90.53L502.63 90.53Z" fill="#fff" stroke="#28a040" stroke-width="1.15" stroke-linejoin="miter"/>
<path d="M509.15 86.05L511.65 90.45L506.65 90.45Z" fill="#fff" stroke="#28a040" stroke-width="1.15" stroke-linejoin="miter"/>
<path d="M513.18 85.97L515.68 90.37L510.68 90.37Z" fill="#fff" stroke="#28a040" stroke-width="1.15" stroke-linejoin="miter"/>
<path d="M517.2 85.89L519.7 90.29L514.7 90.29Z" fill="#fff" stroke="#28a040" stroke-width="1.15" stroke-linejoin="miter"/>
<path d="M521.23 85.82L523.73 90.22L518.73 90.22Z" fill="#fff" stroke="#28a040" stroke-width="1.15" stroke-linejoin="miter"/>
<path d="M525.25 85.74L527.75 90.14L522.75 90.14Z" fill="#fff" stroke="#28a040" stroke-width="1.15" stroke-linejoin="miter"/>
<path d="M529.28 85.66L531.78 90.06L526.78 90.06Z" fill="#fff" stroke="#28a040" stroke-width="1.15" stroke-linejoin="miter"/>
<path d="M533.3 85.58L535.8 89.98L530.8 89.98Z" fill="#fff" stroke="#28a040" stroke-width="1.15" stroke-linejoin="miter"/>
<path d="M537.33 85.5L539.83 89.9L534.83 89.9Z" fill="#fff" stroke="#28a040" stroke-width="1.15" stroke-linejoin="miter"/>
<polyline points="340.09,89.45 344.11,89.45 348.14,89.45 352.16,89.45 356.19,89.45 360.22,89.45 364.24,89.45 368.27,89.45 372.29,89.45 376.32,89.45 380.34,89.45 384.37,89.45 388.39,89.45 392.42,89.45 396.44,89.45 400.47,89.45 404.49,89.45 408.52,89.45 412.54,89.45 416.57,89.45 420.59,89.45 424.62,89.45 428.65,89.45 432.67,89.45 436.7,89.45 440.72,89.45 444.75,89.45 448.77,89.45 452.8,89.45 456.82,89.45 460.85,89.45 464.87,89.45 468.9,89.44 472.92,89.36 476.95,89.28 480.97,89.21 485,89.13 489.02,89.05 493.05,88.97 497.08,88.89 501.1,88.81 505.13,88.73 509.15,88.65 513.18,88.57 517.2,88.49 521.23,88.42 525.25,88.34 529.28,88.26 533.3,88.18 537.33,88.1" fill="none" stroke="#ff3048" stroke-width="1"/>
<rect x="338.09" y="87.45" width="4" height="4" fill="#fff" stroke="#ff3048" stroke-width="1.15"/>
<rect x="342.11" y="87.45" width="4" height="4" fill="#fff" stroke="#ff3048" stroke-width="1.15"/>
<rect x="346.14" y="87.45" width="4" height="4" fill="#fff" stroke="#ff3048" stroke-width="1.15"/>
<rect x="350.16" y="87.45" width="4" height="4" fill="#fff" stroke="#ff3048" stroke-width="1.15"/>
<rect x="354.19" y="87.45" width="4" height="4" fill="#fff" stroke="#ff3048" stroke-width="1.15"/>
<rect x="358.22" y="87.45" width="4" height="4" fill="#fff" stroke="#ff3048" stroke-width="1.15"/>
<rect x="362.24" y="87.45" width="4" height="4" fill="#fff" stroke="#ff3048" stroke-width="1.15"/>
<rect x="366.27" y="87.45" width="4" height="4" fill="#fff" stroke="#ff3048" stroke-width="1.15"/>
<rect x="370.29" y="87.45" width="4" height="4" fill="#fff" stroke="#ff3048" stroke-width="1.15"/>
<rect x="374.32" y="87.45" width="4" height="4" fill="#fff" stroke="#ff3048" stroke-width="1.15"/>
<rect x="378.34" y="87.45" width="4" height="4" fill="#fff" stroke="#ff3048" stroke-width="1.15"/>
<rect x="382.37" y="87.45" width="4" height="4" fill="#fff" stroke="#ff3048" stroke-width="1.15"/>
<rect x="386.39" y="87.45" width="4" height="4" fill="#fff" stroke="#ff3048" stroke-width="1.15"/>
<rect x="390.42" y="87.45" width="4" height="4" fill="#fff" stroke="#ff3048" stroke-width="1.15"/>
<rect x="394.44" y="87.45" width="4" height="4" fill="#fff" stroke="#ff3048" stroke-width="1.15"/>
<rect x="398.47" y="87.45" width="4" height="4" fill="#fff" stroke="#ff3048" stroke-width="1.15"/>
<rect x="402.49" y="87.45" width="4" height="4" fill="#fff" stroke="#ff3048" stroke-width="1.15"/>
<rect x="406.52" y="87.45" width="4" height="4" fill="#fff" stroke="#ff3048" stroke-width="1.15"/>
<rect x="410.54" y="87.45" width="4" height="4" fill="#fff" stroke="#ff3048" stroke-width="1.15"/>
<rect x="414.57" y="87.45" width="4" height="4" fill="#fff" stroke="#ff3048" stroke-width="1.15"/>
<rect x="418.59" y="87.45" width="4" height="4" fill="#fff" stroke="#ff3048" stroke-width="1.15"/>
<rect x="422.62" y="87.45" width="4" height="4" fill="#fff" stroke="#ff3048" stroke-width="1.15"/>
<rect x="426.65" y="87.45" width="4" height="4" fill="#fff" stroke="#ff3048" stroke-width="1.15"/>
<rect x="430.67" y="87.45" width="4" height="4" fill="#fff" stroke="#ff3048" stroke-width="1.15"/>
<rect x="434.7" y="87.45" width="4" height="4" fill="#fff" stroke="#ff3048" stroke-width="1.15"/>
<rect x="438.72" y="87.45" width="4" height="4" fill="#fff" stroke="#ff3048" stroke-width="1.15"/>
<rect x="442.75" y="87.45" width="4" height="4" fill="#fff" stroke="#ff3048" stroke-width="1.15"/>
<rect x="446.77" y="87.45" width="4" height="4" fill="#fff" stroke="#ff3048" stroke-width="1.15"/>
<rect x="450.8" y="87.45" width="4" height="4" fill="#fff" stroke="#ff3048" stroke-width="1.15"/>
<rect x="454.82" y="87.45" width="4" height="4" fill="#fff" stroke="#ff3048" stroke-width="1.15"/>
<rect x="458.85" y="87.45" width="4" height="4" fill="#fff" stroke="#ff3048" stroke-width="1.15"/>
<rect x="462.87" y="87.45" width="4" height="4" fill="#fff" stroke="#ff3048" stroke-width="1.15"/>
<rect x="466.9" y="87.44" width="4" height="4" fill="#fff" stroke="#ff3048" stroke-width="1.15"/>
<rect x="470.92" y="87.36" width="4" height="4" fill="#fff" stroke="#ff3048" stroke-width="1.15"/>
<rect x="474.95" y="87.28" width="4" height="4" fill="#fff" stroke="#ff3048" stroke-width="1.15"/>
<rect x="478.97" y="87.21" width="4" height="4" fill="#fff" stroke="#ff3048" stroke-width="1.15"/>
<rect x="483" y="87.13" width="4" height="4" fill="#fff" stroke="#ff3048" stroke-width="1.15"/>
<rect x="487.02" y="87.05" width="4" height="4" fill="#fff" stroke="#ff3048" stroke-width="1.15"/>
<rect x="491.05" y="86.97" width="4" height="4" fill="#fff" stroke="#ff3048" stroke-width="1.15"/>
<rect x="495.08" y="86.89" width="4" height="4" fill="#fff" stroke="#ff3048" stroke-width="1.15"/>
<rect x="499.1" y="86.81" width="4" height="4" fill="#fff" stroke="#ff3048" stroke-width="1.15"/>
<rect x="503.13" y="86.73" width="4" height="4" fill="#fff" stroke="#ff3048" stroke-width="1.15"/>
<rect x="507.15" y="86.65" width="4" height="4" fill="#fff" stroke="#ff3048" stroke-width="1.15"/>
<rect x="511.18" y="86.57" width="4" height="4" fill="#fff" stroke="#ff3048" stroke-width="1.15"/>
<rect x="515.2" y="86.49" width="4" height="4" fill="#fff" stroke="#ff3048" stroke-width="1.15"/>
<rect x="519.23" y="86.42" width="4" height="4" fill="#fff" stroke="#ff3048" stroke-width="1.15"/>
<rect x="523.25" y="86.34" width="4" height="4" fill="#fff" stroke="#ff3048" stroke-width="1.15"/>
<rect x="527.28" y="86.26" width="4" height="4" fill="#fff" stroke="#ff3048" stroke-width="1.15"/>
<rect x="531.3" y="86.18" width="4" height="4" fill="#fff" stroke="#ff3048" stroke-width="1.15"/>
<rect x="535.33" y="86.1" width="4" height="4" fill="#fff" stroke="#ff3048" stroke-width="1.15"/>
<polyline points="340.09,89.45 344.11,89.45 348.14,89.45 352.16,89.45 356.19,89.45 360.22,89.45 364.24,89.45 368.27,89.45 372.29,89.45 376.32,89.45 380.34,89.45 384.37,89.45 388.39,89.45 392.42,89.45 396.44,89.45 400.47,89.45 404.49,89.45 408.52,89.45 412.54,89.45 416.57,89.45 420.59,89.45 424.62,89.45 428.65,89.45 432.67,89.45 436.7,89.45 440.72,89.45 444.75,89.45 448.77,89.45 452.8,89.45 456.82,89.45 460.85,89.45 464.87,89.45 468.9,89.44 472.92,89.36 476.95,89.28 480.97,89.21 485,89.13 489.02,89.05 493.05,88.97 497.08,88.89 501.1,88.81 505.13,88.73 509.15,88.65 513.18,88.57 517.2,88.49 521.23,88.42 525.25,88.34 529.28,88.26 533.3,88.18 537.33,88.1" fill="none" stroke="#4a40f8" stroke-width="1"/>
<circle cx="340.09" cy="89.45" r="2.1" fill="#fff" stroke="#4a40f8" stroke-width="1.15"/>
<circle cx="344.11" cy="89.45" r="2.1" fill="#fff" stroke="#4a40f8" stroke-width="1.15"/>
<circle cx="348.14" cy="89.45" r="2.1" fill="#fff" stroke="#4a40f8" stroke-width="1.15"/>
<circle cx="352.16" cy="89.45" r="2.1" fill="#fff" stroke="#4a40f8" stroke-width="1.15"/>
<circle cx="356.19" cy="89.45" r="2.1" fill="#fff" stroke="#4a40f8" stroke-width="1.15"/>
<circle cx="360.22" cy="89.45" r="2.1" fill="#fff" stroke="#4a40f8" stroke-width="1.15"/>
<circle cx="364.24" cy="89.45" r="2.1" fill="#fff" stroke="#4a40f8" stroke-width="1.15"/>
<circle cx="368.27" cy="89.45" r="2.1" fill="#fff" stroke="#4a40f8" stroke-width="1.15"/>
<circle cx="372.29" cy="89.45" r="2.1" fill="#fff" stroke="#4a40f8" stroke-width="1.15"/>
<circle cx="376.32" cy="89.45" r="2.1" fill="#fff" stroke="#4a40f8" stroke-width="1.15"/>
<circle cx="380.34" cy="89.45" r="2.1" fill="#fff" stroke="#4a40f8" stroke-width="1.15"/>
<circle cx="384.37" cy="89.45" r="2.1" fill="#fff" stroke="#4a40f8" stroke-width="1.15"/>
<circle cx="388.39" cy="89.45" r="2.1" fill="#fff" stroke="#4a40f8" stroke-width="1.15"/>
<circle cx="392.42" cy="89.45" r="2.1" fill="#fff" stroke="#4a40f8" stroke-width="1.15"/>
<circle cx="396.44" cy="89.45" r="2.1" fill="#fff" stroke="#4a40f8" stroke-width="1.15"/>
<circle cx="400.47" cy="89.45" r="2.1" fill="#fff" stroke="#4a40f8" stroke-width="1.15"/>
<circle cx="404.49" cy="89.45" r="2.1" fill="#fff" stroke="#4a40f8" stroke-width="1.15"/>
<circle cx="408.52" cy="89.45" r="2.1" fill="#fff" stroke="#4a40f8" stroke-width="1.15"/>
<circle cx="412.54" cy="89.45" r="2.1" fill="#fff" stroke="#4a40f8" stroke-width="1.15"/>
<circle cx="416.57" cy="89.45" r="2.1" fill="#fff" stroke="#4a40f8" stroke-width="1.15"/>
<circle cx="420.59" cy="89.45" r="2.1" fill="#fff" stroke="#4a40f8" stroke-width="1.15"/>
<circle cx="424.62" cy="89.45" r="2.1" fill="#fff" stroke="#4a40f8" stroke-width="1.15"/>
<circle cx="428.65" cy="89.45" r="2.1" fill="#fff" stroke="#4a40f8" stroke-width="1.15"/>
<circle cx="432.67" cy="89.45" r="2.1" fill="#fff" stroke="#4a40f8" stroke-width="1.15"/>
<circle cx="436.7" cy="89.45" r="2.1" fill="#fff" stroke="#4a40f8" stroke-width="1.15"/>
<circle cx="440.72" cy="89.45" r="2.1" fill="#fff" stroke="#4a40f8" stroke-width="1.15"/>
<circle cx="444.75" cy="89.45" r="2.1" fill="#fff" stroke="#4a40f8" stroke-width="1.15"/>
<circle cx="448.77" cy="89.45" r="2.1" fill="#fff" stroke="#4a40f8" stroke-width="1.15"/>
<circle cx="452.8" cy="89.45" r="2.1" fill="#fff" stroke="#4a40f8" stroke-width="1.15"/>
<circle cx="456.82" cy="89.45" r="2.1" fill="#fff" stroke="#4a40f8" stroke-width="1.15"/>
<circle cx="460.85" cy="89.45" r="2.1" fill="#fff" stroke="#4a40f8" stroke-width="1.15"/>
<circle cx="464.87" cy="89.45" r="2.1" fill="#fff" stroke="#4a40f8" stroke-width="1.15"/>
<circle cx="468.9" cy="89.44" r="2.1" fill="#fff" stroke="#4a40f8" stroke-width="1.15"/>
<circle cx="472.92" cy="89.36" r="2.1" fill="#fff" stroke="#4a40f8" stroke-width="1.15"/>
<circle cx="476.95" cy="89.28" r="2.1" fill="#fff" stroke="#4a40f8" stroke-width="1.15"/>
<circle cx="480.97" cy="89.21" r="2.1" fill="#fff" stroke="#4a40f8" stroke-width="1.15"/>
<circle cx="485" cy="89.13" r="2.1" fill="#fff" stroke="#4a40f8" stroke-width="1.15"/>
<circle cx="489.02" cy="89.05" r="2.1" fill="#fff" stroke="#4a40f8" stroke-width="1.15"/>
<circle cx="493.05" cy="88.97" r="2.1" fill="#fff" stroke="#4a40f8" stroke-width="1.15"/>
<circle cx="497.08" cy="88.89" r="2.1" fill="#fff" stroke="#4a40f8" stroke-width="1.15"/>
<circle cx="501.1" cy="88.81" r="2.1" fill="#fff" stroke="#4a40f8" stroke-width="1.15"/>
<circle cx="505.13" cy="88.73" r="2.1" fill="#fff" stroke="#4a40f8" stroke-width="1.15"/>
<circle cx="509.15" cy="88.65" r="2.1" fill="#fff" stroke="#4a40f8" stroke-width="1.15"/>
<circle cx="513.18" cy="88.57" r="2.1" fill="#fff" stroke="#4a40f8" stroke-width="1.15"/>
<circle cx="517.2" cy="88.49" r="2.1" fill="#fff" stroke="#4a40f8" stroke-width="1.15"/>
<circle cx="521.23" cy="88.42" r="2.1" fill="#fff" stroke="#4a40f8" stroke-width="1.15"/>
<circle cx="525.25" cy="88.34" r="2.1" fill="#fff" stroke="#4a40f8" stroke-width="1.15"/>
<circle cx="529.28" cy="88.26" r="2.1" fill="#fff" stroke="#4a40f8" stroke-width="1.15"/>
<circle cx="533.3" cy="88.18" r="2.1" fill="#fff" stroke="#4a40f8" stroke-width="1.15"/>
<circle cx="537.33" cy="88.1" r="2.1" fill="#fff" stroke="#4a40f8" stroke-width="1.15"/>
<rect x="431" y="94.7" width="102.8" height="49.8" fill="#fff" stroke="#2a2a2a" stroke-width="1"/>
<line x1="443.1" y1="107.3" x2="474.9" y2="107.3" stroke="#4a40f8" stroke-width="1"/>
<circle cx="459" cy="107.3" r="2.1" fill="#fff" stroke="#4a40f8" stroke-width="1.15"/>
<text x="487.7" y="111.3" font-family='"Liberation Serif", "Times New Roman", serif' font-size="11" fill="#111">Type-A</text>
<line x1="443.1" y1="119.8" x2="474.9" y2="119.8" stroke="#ff3048" stroke-width="1"/>
<rect x="457" y="117.8" width="4" height="4" fill="#fff" stroke="#ff3048" stroke-width="1.15"/>
<text x="487.7" y="123.8" font-family='"Liberation Serif", "Times New Roman", serif' font-size="11" fill="#111">Type-B</text>
<line x1="443.1" y1="132.3" x2="474.9" y2="132.3" stroke="#28a040" stroke-width="1"/>
<path d="M459 129.7L461.5 134.1L456.5 134.1Z" fill="#fff" stroke="#28a040" stroke-width="1.15" stroke-linejoin="miter"/>
<text x="487.7" y="136.3" font-family='"Liberation Serif", "Times New Roman", serif' font-size="11" fill="#111">Type-C</text>
<rect x="331.6" y="22.3" width="214.5" height="134.3" fill="none" stroke="#2a2a2a" stroke-width="1.2"/>
<path d="M343.01 156.6v-3.0M343.01 22.3v3.0M365.83 156.6v-3.0M365.83 22.3v3.0M388.65 156.6v-3.0M388.65 22.3v3.0M411.47 156.6v-3.0M411.47 22.3v3.0M434.29 156.6v-3.0M434.29 22.3v3.0M457.11 156.6v-3.0M457.11 22.3v3.0M479.92 156.6v-3.0M479.92 22.3v3.0M502.74 156.6v-3.0M502.74 22.3v3.0M525.56 156.6v-3.0M525.56 22.3v3.0M354.42 156.6v-6.5M354.42 22.3v6.5M377.24 156.6v-6.5M377.24 22.3v6.5M400.06 156.6v-6.5M400.06 22.3v6.5M422.88 156.6v-6.5M422.88 22.3v6.5M445.7 156.6v-6.5M445.7 22.3v6.5M468.51 156.6v-6.5M468.51 22.3v6.5M491.33 156.6v-6.5M491.33 22.3v6.5M514.15 156.6v-6.5M514.15 22.3v6.5M536.97 156.6v-6.5M536.97 22.3v6.5M331.6 149.14h3.1M546.1 149.14h-3.1M331.6 141.68h3.1M546.1 141.68h-3.1M331.6 126.76h3.1M546.1 126.76h-3.1M331.6 119.29h3.1M546.1 119.29h-3.1M331.6 104.37h3.1M546.1 104.37h-3.1M331.6 96.91h3.1M546.1 96.91h-3.1M331.6 81.99h3.1M546.1 81.99h-3.1M331.6 74.53h3.1M546.1 74.53h-3.1M331.6 59.61h3.1M546.1 59.61h-3.1M331.6 52.14h3.1M546.1 52.14h-3.1M331.6 37.22h3.1M546.1 37.22h-3.1M331.6 29.76h3.1M546.1 29.76h-3.1M331.6 156.6h6.5M546.1 156.6h-6.5M331.6 134.22h6.5M546.1 134.22h-6.5M331.6 111.83h6.5M546.1 111.83h-6.5M331.6 89.45h6.5M546.1 89.45h-6.5M331.6 67.07h6.5M546.1 67.07h-6.5M331.6 44.68h6.5M546.1 44.68h-6.5M331.6 22.3h6.5M546.1 22.3h-6.5" stroke="#2a2a2a" stroke-width="1" fill="none"/>
<text transform="translate(331.6,172.3) scale(1,1.05)" text-anchor="middle" font-family='"Liberation Serif", "Times New Roman", serif' font-size="13.5" fill="#111">2.5</text>
<text transform="translate(354.42,172.3) scale(1,1.05)" text-anchor="middle" font-family='"Liberation Serif", "Times New Roman", serif' font-size="13.5" fill="#111">3</text>
<text transform="translate(377.24,172.3) scale(1,1.05)" text-anchor="middle" font-family='"Liberation Serif", "Times New Roman", serif' font-size="13.5" fill="#111">3.5</text>
<text transform="translate(400.06,172.3) scale(1,1.05)" text-anchor="middle" font-family='"Liberation Serif", "Times New Roman", serif' font-size="13.5" fill="#111">4</text>
<text transform="translate(422.88,172.3) scale(1,1.05)" text-anchor="middle" font-family='"Liberation Serif", "Times New Roman", serif' font-size="13.5" fill="#111">4.5</text>
<text transform="translate(445.7,172.3) scale(1,1.05)" text-anchor="middle" font-family='"Liberation Serif", "Times New Roman", serif' font-size="13.5" fill="#111">5</text>
<text transform="translate(468.51,172.3) scale(1,1.05)" text-anchor="middle" font-family='"Liberation Serif", "Times New Roman", serif' font-size="13.5" fill="#111">5.5</text>
<text transform="translate(491.33,172.3) scale(1,1.05)" text-anchor="middle" font-family='"Liberation Serif", "Times New Roman", serif' font-size="13.5" fill="#111">6</text>
<text transform="translate(514.15,172.3) scale(1,1.05)" text-anchor="middle" font-family='"Liberation Serif", "Times New Roman", serif' font-size="13.5" fill="#111">6.5</text>
<text transform="translate(536.97,172.3) scale(1,1.05)" text-anchor="middle" font-family='"Liberation Serif", "Times New Roman", serif' font-size="13.5" fill="#111">7</text>
<text transform="translate(327.6,161.4) scale(1,1.02)" text-anchor="end" font-family='"Liberation Serif", "Times New Roman", serif' font-size="13.2" fill="#111">0</text>
<text transform="translate(327.6,139.02) scale(1,1.02)" text-anchor="end" font-family='"Liberation Serif", "Times New Roman", serif' font-size="13.2" fill="#111">30</text>
<text transform="translate(327.6,116.63) scale(1,1.02)" text-anchor="end" font-family='"Liberation Serif", "Times New Roman", serif' font-size="13.2" fill="#111">60</text>
<text transform="translate(327.6,94.25) scale(1,1.02)" text-anchor="end" font-family='"Liberation Serif", "Times New Roman", serif' font-size="13.2" fill="#111">90</text>
<text transform="translate(327.6,71.87) scale(1,1.02)" text-anchor="end" font-family='"Liberation Serif", "Times New Roman", serif' font-size="13.2" fill="#111">120</text>
<text transform="translate(327.6,49.48) scale(1,1.02)" text-anchor="end" font-family='"Liberation Serif", "Times New Roman", serif' font-size="13.2" fill="#111">150</text>
<text transform="translate(327.6,27.1) scale(1,1.02)" text-anchor="end" font-family='"Liberation Serif", "Times New Roman", serif' font-size="13.2" fill="#111">180</text>
<text x="434.85" y="14.1" text-anchor="middle" font-family='"Liberation Serif", "Times New Roman", serif' font-weight="bold" font-size="15.6" fill="#000">Phase angle (Surge)</text>
<text x="440.35" y="192.8" text-anchor="middle" font-family='"Liberation Serif", "Times New Roman", serif' font-style="italic" font-size="15" fill="#111">ω (rad/s)</text>
<text transform="translate(302.7,89.85) rotate(-90)" x="0" y="0" text-anchor="middle" font-family='"Liberation Serif", "Times New Roman", serif' font-style="italic" font-size="15.3" fill="#111">Phase angle (deg)</text>
<line x1="55.01" y1="251.8" x2="55.01" y2="386.1" stroke="#e9e9e9" stroke-width="1"/>
<line x1="77.83" y1="251.8" x2="77.83" y2="386.1" stroke="#e9e9e9" stroke-width="1"/>
<line x1="100.65" y1="251.8" x2="100.65" y2="386.1" stroke="#e9e9e9" stroke-width="1"/>
<line x1="123.47" y1="251.8" x2="123.47" y2="386.1" stroke="#e9e9e9" stroke-width="1"/>
<line x1="146.29" y1="251.8" x2="146.29" y2="386.1" stroke="#e9e9e9" stroke-width="1"/>
<line x1="169.11" y1="251.8" x2="169.11" y2="386.1" stroke="#e9e9e9" stroke-width="1"/>
<line x1="191.92" y1="251.8" x2="191.92" y2="386.1" stroke="#e9e9e9" stroke-width="1"/>
<line x1="214.74" y1="251.8" x2="214.74" y2="386.1" stroke="#e9e9e9" stroke-width="1"/>
<line x1="237.56" y1="251.8" x2="237.56" y2="386.1" stroke="#e9e9e9" stroke-width="1"/>
<line x1="43.6" y1="380.13" x2="258.1" y2="380.13" stroke="#e9e9e9" stroke-width="1"/>
<line x1="43.6" y1="374.16" x2="258.1" y2="374.16" stroke="#e9e9e9" stroke-width="1"/>
<line x1="43.6" y1="368.19" x2="258.1" y2="368.19" stroke="#e9e9e9" stroke-width="1"/>
<line x1="43.6" y1="362.22" x2="258.1" y2="362.22" stroke="#e9e9e9" stroke-width="1"/>
<line x1="43.6" y1="350.29" x2="258.1" y2="350.29" stroke="#e9e9e9" stroke-width="1"/>
<line x1="43.6" y1="344.32" x2="258.1" y2="344.32" stroke="#e9e9e9" stroke-width="1"/>
<line x1="43.6" y1="338.35" x2="258.1" y2="338.35" stroke="#e9e9e9" stroke-width="1"/>
<line x1="43.6" y1="332.38" x2="258.1" y2="332.38" stroke="#e9e9e9" stroke-width="1"/>
<line x1="43.6" y1="320.44" x2="258.1" y2="320.44" stroke="#e9e9e9" stroke-width="1"/>
<line x1="43.6" y1="314.47" x2="258.1" y2="314.47" stroke="#e9e9e9" stroke-width="1"/>
<line x1="43.6" y1="308.5" x2="258.1" y2="308.5" stroke="#e9e9e9" stroke-width="1"/>
<line x1="43.6" y1="302.54" x2="258.1" y2="302.54" stroke="#e9e9e9" stroke-width="1"/>
<line x1="43.6" y1="290.6" x2="258.1" y2="290.6" stroke="#e9e9e9" stroke-width="1"/>
<line x1="43.6" y1="284.63" x2="258.1" y2="284.63" stroke="#e9e9e9" stroke-width="1"/>
<line x1="43.6" y1="278.66" x2="258.1" y2="278.66" stroke="#e9e9e9" stroke-width="1"/>
<line x1="43.6" y1="272.69" x2="258.1" y2="272.69" stroke="#e9e9e9" stroke-width="1"/>
<line x1="43.6" y1="260.75" x2="258.1" y2="260.75" stroke="#e9e9e9" stroke-width="1"/>
<line x1="43.6" y1="254.78" x2="258.1" y2="254.78" stroke="#e9e9e9" stroke-width="1"/>
<line x1="66.42" y1="251.8" x2="66.42" y2="386.1" stroke="#b6b6b6" stroke-width="1"/>
<line x1="89.24" y1="251.8" x2="89.24" y2="386.1" stroke="#b6b6b6" stroke-width="1"/>
<line x1="112.06" y1="251.8" x2="112.06" y2="386.1" stroke="#b6b6b6" stroke-width="1"/>
<line x1="134.88" y1="251.8" x2="134.88" y2="386.1" stroke="#b6b6b6" stroke-width="1"/>
<line x1="157.7" y1="251.8" x2="157.7" y2="386.1" stroke="#b6b6b6" stroke-width="1"/>
<line x1="180.51" y1="251.8" x2="180.51" y2="386.1" stroke="#b6b6b6" stroke-width="1"/>
<line x1="203.33" y1="251.8" x2="203.33" y2="386.1" stroke="#b6b6b6" stroke-width="1"/>
<line x1="226.15" y1="251.8" x2="226.15" y2="386.1" stroke="#b6b6b6" stroke-width="1"/>
<line x1="248.97" y1="251.8" x2="248.97" y2="386.1" stroke="#b6b6b6" stroke-width="1"/>
<line x1="43.6" y1="356.26" x2="258.1" y2="356.26" stroke="#b6b6b6" stroke-width="1"/>
<line x1="43.6" y1="326.41" x2="258.1" y2="326.41" stroke="#b6b6b6" stroke-width="1"/>
<line x1="43.6" y1="296.57" x2="258.1" y2="296.57" stroke="#b6b6b6" stroke-width="1"/>
<line x1="43.6" y1="266.72" x2="258.1" y2="266.72" stroke="#b6b6b6" stroke-width="1"/>
<polyline points="52.09,355.36 56.11,359.56 60.14,363.93 64.16,368.5 68.19,373.45 72.22,378.54 76.24,383.44 80.27,383.78 84.29,378.94 88.32,373.86 92.34,369 96.37,364.32 100.39,359.73 104.42,355.21 108.44,350.75 112.47,346.32 116.49,341.91 120.52,337.51 124.54,333.09 128.57,328.68 132.59,324.4 136.62,320.38 140.65,316.74 144.67,313.38 148.7,310.2 152.72,307.1 156.75,304.08 160.77,301.13 164.8,298.26 168.82,295.52 172.85,292.93 176.87,290.53 180.9,288.3 184.92,286.21 188.95,284.23 192.97,282.32 197,280.42 201.02,278.52 205.05,276.91 209.08,275.84 213.1,275.12 217.13,274.48 221.15,273.93 225.18,273.56 229.2,273.32 233.23,273.12 237.25,273 241.28,273.01 245.3,273.13 249.33,273.3" fill="none" stroke="#28a040" stroke-width="1"/>
<path d="M52.09 352.76L54.59 357.16L49.59 357.16Z" fill="#fff" stroke="#28a040" stroke-width="1.15" stroke-linejoin="miter"/>
<path d="M56.11 356.96L58.61 361.36L53.61 361.36Z" fill="#fff" stroke="#28a040" stroke-width="1.15" stroke-linejoin="miter"/>
<path d="M60.14 361.33L62.64 365.73L57.64 365.73Z" fill="#fff" stroke="#28a040" stroke-width="1.15" stroke-linejoin="miter"/>
<path d="M64.16 365.9L66.66 370.3L61.66 370.3Z" fill="#fff" stroke="#28a040" stroke-width="1.15" stroke-linejoin="miter"/>
<path d="M68.19 370.85L70.69 375.25L65.69 375.25Z" fill="#fff" stroke="#28a040" stroke-width="1.15" stroke-linejoin="miter"/>
<path d="M72.22 375.94L74.72 380.34L69.72 380.34Z" fill="#fff" stroke="#28a040" stroke-width="1.15" stroke-linejoin="miter"/>
<path d="M76.24 380.84L78.74 385.24L73.74 385.24Z" fill="#fff" stroke="#28a040" stroke-width="1.15" stroke-linejoin="miter"/>
<path d="M80.27 381.18L82.77 385.58L77.77 385.58Z" fill="#fff" stroke="#28a040" stroke-width="1.15" stroke-linejoin="miter"/>
<path d="M84.29 376.34L86.79 380.74L81.79 380.74Z" fill="#fff" stroke="#28a040" stroke-width="1.15" stroke-linejoin="miter"/>
<path d="M88.32 371.26L90.82 375.66L85.82 375.66Z" fill="#fff" stroke="#28a040" stroke-width="1.15" stroke-linejoin="miter"/>
<path d="M92.34 366.4L94.84 370.8L89.84 370.8Z" fill="#fff" stroke="#28a040" stroke-width="1.15" stroke-linejoin="miter"/>
<path d="M96.37 361.72L98.87 366.12L93.87 366.12Z" fill="#fff" stroke="#28a040" stroke-width="1.15" stroke-linejoin="miter"/>
<path d="M100.39 357.13L102.89 361.53L97.89 361.53Z" fill="#fff" stroke="#28a040" stroke-width="1.15" stroke-linejoin="miter"/>
<path d="M104.42 352.61L106.92 357.01L101.92 357.01Z" fill="#fff" stroke="#28a040" stroke-width="1.15" stroke-linejoin="miter"/>
<path d="M108.44 348.15L110.94 352.55L105.94 352.55Z" fill="#fff" stroke="#28a040" stroke-width="1.15" stroke-linejoin="miter"/>
<path d="M112.47 343.72L114.97 348.12L109.97 348.12Z" fill="#fff" stroke="#28a040" stroke-width="1.15" stroke-linejoin="miter"/>
<path d="M116.49 339.31L118.99 343.71L113.99 343.71Z" fill="#fff" stroke="#28a040" stroke-width="1.15" stroke-linejoin="miter"/>
<path d="M120.52 334.91L123.02 339.31L118.02 339.31Z" fill="#fff" stroke="#28a040" stroke-width="1.15" stroke-linejoin="miter"/>
<path d="M124.54 330.49L127.04 334.89L122.04 334.89Z" fill="#fff" stroke="#28a040" stroke-width="1.15" stroke-linejoin="miter"/>
<path d="M128.57 326.08L131.07 330.48L126.07 330.48Z" fill="#fff" stroke="#28a040" stroke-width="1.15" stroke-linejoin="miter"/>
<path d="M132.59 321.8L135.09 326.2L130.09 326.2Z" fill="#fff" stroke="#28a040" stroke-width="1.15" stroke-linejoin="miter"/>
<path d="M136.62 317.78L139.12 322.18L134.12 322.18Z" fill="#fff" stroke="#28a040" stroke-width="1.15" stroke-linejoin="miter"/>
<path d="M140.65 314.14L143.15 318.54L138.15 318.54Z" fill="#fff" stroke="#28a040" stroke-width="1.15" stroke-linejoin="miter"/>
<path d="M144.67 310.78L147.17 315.18L142.17 315.18Z" fill="#fff" stroke="#28a040" stroke-width="1.15" stroke-linejoin="miter"/>
<path d="M148.7 307.6L151.2 312L146.2 312Z" fill="#fff" stroke="#28a040" stroke-width="1.15" stroke-linejoin="miter"/>
<path d="M152.72 304.5L155.22 308.9L150.22 308.9Z" fill="#fff" stroke="#28a040" stroke-width="1.15" stroke-linejoin="miter"/>
<path d="M156.75 301.48L159.25 305.88L154.25 305.88Z" fill="#fff" stroke="#28a040" stroke-width="1.15" stroke-linejoin="miter"/>
<path d="M160.77 298.53L163.27 302.93L158.27 302.93Z" fill="#fff" stroke="#28a040" stroke-width="1.15" stroke-linejoin="miter"/>
<path d="M164.8 295.66L167.3 300.06L162.3 300.06Z" fill="#fff" stroke="#28a040" stroke-width="1.15" stroke-linejoin="miter"/>
<path d="M168.82 292.92L171.32 297.32L166.32 297.32Z" fill="#fff" stroke="#28a040" stroke-width="1.15" stroke-linejoin="miter"/>
<path d="M172.85 290.33L175.35 294.73L170.35 294.73Z" fill="#fff" stroke="#28a040" stroke-width="1.15" stroke-linejoin="miter"/>
<path d="M176.87 287.93L179.37 292.33L174.37 292.33Z" fill="#fff" stroke="#28a040" stroke-width="1.15" stroke-linejoin="miter"/>
<path d="M180.9 285.7L183.4 290.1L178.4 290.1Z" fill="#fff" stroke="#28a040" stroke-width="1.15" stroke-linejoin="miter"/>
<path d="M184.92 283.61L187.42 288.01L182.42 288.01Z" fill="#fff" stroke="#28a040" stroke-width="1.15" stroke-linejoin="miter"/>
<path d="M188.95 281.63L191.45 286.03L186.45 286.03Z" fill="#fff" stroke="#28a040" stroke-width="1.15" stroke-linejoin="miter"/>
<path d="M192.97 279.72L195.47 284.12L190.47 284.12Z" fill="#fff" stroke="#28a040" stroke-width="1.15" stroke-linejoin="miter"/>
<path d="M197 277.82L199.5 282.22L194.5 282.22Z" fill="#fff" stroke="#28a040" stroke-width="1.15" stroke-linejoin="miter"/>
<path d="M201.02 275.92L203.52 280.32L198.52 280.32Z" fill="#fff" stroke="#28a040" stroke-width="1.15" stroke-linejoin="miter"/>
<path d="M205.05 274.31L207.55 278.71L202.55 278.71Z" fill="#fff" stroke="#28a040" stroke-width="1.15" stroke-linejoin="miter"/>
<path d="M209.08 273.24L211.58 277.64L206.58 277.64Z" fill="#fff" stroke="#28a040" stroke-width="1.15" stroke-linejoin="miter"/>
<path d="M213.1 272.52L215.6 276.92L210.6 276.92Z" fill="#fff" stroke="#28a040" stroke-width="1.15" stroke-linejoin="miter"/>
<path d="M217.13 271.88L219.63 276.28L214.63 276.28Z" fill="#fff" stroke="#28a040" stroke-width="1.15" stroke-linejoin="miter"/>
<path d="M221.15 271.33L223.65 275.73L218.65 275.73Z" fill="#fff" stroke="#28a040" stroke-width="1.15" stroke-linejoin="miter"/>
<path d="M225.18 270.96L227.68 275.36L222.68 275.36Z" fill="#fff" stroke="#28a040" stroke-width="1.15" stroke-linejoin="miter"/>
<path d="M229.2 270.72L231.7 275.12L226.7 275.12Z" fill="#fff" stroke="#28a040" stroke-width="1.15" stroke-linejoin="miter"/>
<path d="M233.23 270.52L235.73 274.92L230.73 274.92Z" fill="#fff" stroke="#28a040" stroke-width="1.15" stroke-linejoin="miter"/>
<path d="M237.25 270.4L239.75 274.8L234.75 274.8Z" fill="#fff" stroke="#28a040" stroke-width="1.15" stroke-linejoin="miter"/>
<path d="M241.28 270.41L243.78 274.81L238.78 274.81Z" fill="#fff" stroke="#28a040" stroke-width="1.15" stroke-linejoin="miter"/>
<path d="M245.3 270.53L247.8 274.93L242.8 274.93Z" fill="#fff" stroke="#28a040" stroke-width="1.15" stroke-linejoin="miter"/>
<path d="M249.33 270.7L251.83 275.1L246.83 275.1Z" fill="#fff" stroke="#28a040" stroke-width="1.15" stroke-linejoin="miter"/>
<polyline points="52.09,351.78 56.11,355.96 60.14,360.63 64.16,365.23 68.19,369.9 72.22,374.66 76.24,379.86 80.27,384.3 84.29,383.7 88.32,378.64 92.34,373.78 96.37,369.13 100.39,364.55 104.42,360.03 108.44,355.56 112.47,351.13 116.49,346.71 120.52,342.29 124.54,337.87 128.57,333.45 132.59,329.16 136.62,325.16 140.65,321.53 144.67,318.17 148.7,314.97 152.72,311.83 156.75,308.78 160.77,305.9 164.8,303.23 168.82,300.72 172.85,298.3 176.87,295.93 180.9,293.67 184.92,291.6 188.95,289.59 192.97,287.53 197,285.5 201.02,283.6 205.05,281.98 209.08,280.77 213.1,279.9 217.13,279.25 221.15,278.72 225.18,278.22 229.2,277.81 233.23,277.56 237.25,277.47 241.28,277.5 245.3,277.62 249.33,277.78" fill="none" stroke="#ff3048" stroke-width="1"/>
<rect x="50.09" y="349.78" width="4" height="4" fill="#fff" stroke="#ff3048" stroke-width="1.15"/>
<rect x="54.11" y="353.96" width="4" height="4" fill="#fff" stroke="#ff3048" stroke-width="1.15"/>
<rect x="58.14" y="358.63" width="4" height="4" fill="#fff" stroke="#ff3048" stroke-width="1.15"/>
<rect x="62.16" y="363.23" width="4" height="4" fill="#fff" stroke="#ff3048" stroke-width="1.15"/>
<rect x="66.19" y="367.9" width="4" height="4" fill="#fff" stroke="#ff3048" stroke-width="1.15"/>
<rect x="70.22" y="372.66" width="4" height="4" fill="#fff" stroke="#ff3048" stroke-width="1.15"/>
<rect x="74.24" y="377.86" width="4" height="4" fill="#fff" stroke="#ff3048" stroke-width="1.15"/>
<rect x="78.27" y="382.3" width="4" height="4" fill="#fff" stroke="#ff3048" stroke-width="1.15"/>
<rect x="82.29" y="381.7" width="4" height="4" fill="#fff" stroke="#ff3048" stroke-width="1.15"/>
<rect x="86.32" y="376.64" width="4" height="4" fill="#fff" stroke="#ff3048" stroke-width="1.15"/>
<rect x="90.34" y="371.78" width="4" height="4" fill="#fff" stroke="#ff3048" stroke-width="1.15"/>
<rect x="94.37" y="367.13" width="4" height="4" fill="#fff" stroke="#ff3048" stroke-width="1.15"/>
<rect x="98.39" y="362.55" width="4" height="4" fill="#fff" stroke="#ff3048" stroke-width="1.15"/>
<rect x="102.42" y="358.03" width="4" height="4" fill="#fff" stroke="#ff3048" stroke-width="1.15"/>
<rect x="106.44" y="353.56" width="4" height="4" fill="#fff" stroke="#ff3048" stroke-width="1.15"/>
<rect x="110.47" y="349.13" width="4" height="4" fill="#fff" stroke="#ff3048" stroke-width="1.15"/>
<rect x="114.49" y="344.71" width="4" height="4" fill="#fff" stroke="#ff3048" stroke-width="1.15"/>
<rect x="118.52" y="340.29" width="4" height="4" fill="#fff" stroke="#ff3048" stroke-width="1.15"/>
<rect x="122.54" y="335.87" width="4" height="4" fill="#fff" stroke="#ff3048" stroke-width="1.15"/>
<rect x="126.57" y="331.45" width="4" height="4" fill="#fff" stroke="#ff3048" stroke-width="1.15"/>
<rect x="130.59" y="327.16" width="4" height="4" fill="#fff" stroke="#ff3048" stroke-width="1.15"/>
<rect x="134.62" y="323.16" width="4" height="4" fill="#fff" stroke="#ff3048" stroke-width="1.15"/>
<rect x="138.65" y="319.53" width="4" height="4" fill="#fff" stroke="#ff3048" stroke-width="1.15"/>
<rect x="142.67" y="316.17" width="4" height="4" fill="#fff" stroke="#ff3048" stroke-width="1.15"/>
<rect x="146.7" y="312.97" width="4" height="4" fill="#fff" stroke="#ff3048" stroke-width="1.15"/>
<rect x="150.72" y="309.83" width="4" height="4" fill="#fff" stroke="#ff3048" stroke-width="1.15"/>
<rect x="154.75" y="306.78" width="4" height="4" fill="#fff" stroke="#ff3048" stroke-width="1.15"/>
<rect x="158.77" y="303.9" width="4" height="4" fill="#fff" stroke="#ff3048" stroke-width="1.15"/>
<rect x="162.8" y="301.23" width="4" height="4" fill="#fff" stroke="#ff3048" stroke-width="1.15"/>
<rect x="166.82" y="298.72" width="4" height="4" fill="#fff" stroke="#ff3048" stroke-width="1.15"/>
<rect x="170.85" y="296.3" width="4" height="4" fill="#fff" stroke="#ff3048" stroke-width="1.15"/>
<rect x="174.87" y="293.93" width="4" height="4" fill="#fff" stroke="#ff3048" stroke-width="1.15"/>
<rect x="178.9" y="291.67" width="4" height="4" fill="#fff" stroke="#ff3048" stroke-width="1.15"/>
<rect x="182.92" y="289.6" width="4" height="4" fill="#fff" stroke="#ff3048" stroke-width="1.15"/>
<rect x="186.95" y="287.59" width="4" height="4" fill="#fff" stroke="#ff3048" stroke-width="1.15"/>
<rect x="190.97" y="285.53" width="4" height="4" fill="#fff" stroke="#ff3048" stroke-width="1.15"/>
<rect x="195" y="283.5" width="4" height="4" fill="#fff" stroke="#ff3048" stroke-width="1.15"/>
<rect x="199.02" y="281.6" width="4" height="4" fill="#fff" stroke="#ff3048" stroke-width="1.15"/>
<rect x="203.05" y="279.98" width="4" height="4" fill="#fff" stroke="#ff3048" stroke-width="1.15"/>
<rect x="207.08" y="278.77" width="4" height="4" fill="#fff" stroke="#ff3048" stroke-width="1.15"/>
<rect x="211.1" y="277.9" width="4" height="4" fill="#fff" stroke="#ff3048" stroke-width="1.15"/>
<rect x="215.13" y="277.25" width="4" height="4" fill="#fff" stroke="#ff3048" stroke-width="1.15"/>
<rect x="219.15" y="276.72" width="4" height="4" fill="#fff" stroke="#ff3048" stroke-width="1.15"/>
<rect x="223.18" y="276.22" width="4" height="4" fill="#fff" stroke="#ff3048" stroke-width="1.15"/>
<rect x="227.2" y="275.81" width="4" height="4" fill="#fff" stroke="#ff3048" stroke-width="1.15"/>
<rect x="231.23" y="275.56" width="4" height="4" fill="#fff" stroke="#ff3048" stroke-width="1.15"/>
<rect x="235.25" y="275.47" width="4" height="4" fill="#fff" stroke="#ff3048" stroke-width="1.15"/>
<rect x="239.28" y="275.5" width="4" height="4" fill="#fff" stroke="#ff3048" stroke-width="1.15"/>
<rect x="243.3" y="275.62" width="4" height="4" fill="#fff" stroke="#ff3048" stroke-width="1.15"/>
<rect x="247.33" y="275.78" width="4" height="4" fill="#fff" stroke="#ff3048" stroke-width="1.15"/>
<polyline points="52.09,362.52 56.11,367.86 60.14,372.82 64.16,378.31 68.19,383.3 72.22,383.55 76.24,378.05 80.27,372.47 84.29,367.33 88.32,361.66 92.34,356.2 96.37,350.73 100.39,345.21 104.42,339.86 108.44,334.83 112.47,330.05 116.49,325.44 120.52,320.91 124.54,316.43 128.57,312 132.59,307.61 136.62,303.42 140.65,299.59 144.67,296.2 148.7,293.14 152.72,290.27 156.75,287.45 160.77,284.7 164.8,282.07 168.82,279.6 172.85,277.27 176.87,275.07 180.9,273.01 184.92,271.16 188.95,269.63 192.97,268.49 197,267.66 201.02,267.02 205.05,266.51 209.08,266.11 213.1,265.84 217.13,265.71 221.15,265.68 225.18,265.7 229.2,265.8 233.23,266.01 237.25,266.35 241.28,266.81 245.3,267.37 249.33,267.97" fill="none" stroke="#4a40f8" stroke-width="1"/>
<circle cx="52.09" cy="362.52" r="2.1" fill="#fff" stroke="#4a40f8" stroke-width="1.15"/>
<circle cx="56.11" cy="367.86" r="2.1" fill="#fff" stroke="#4a40f8" stroke-width="1.15"/>
<circle cx="60.14" cy="372.82" r="2.1" fill="#fff" stroke="#4a40f8" stroke-width="1.15"/>
<circle cx="64.16" cy="378.31" r="2.1" fill="#fff" stroke="#4a40f8" stroke-width="1.15"/>
<circle cx="68.19" cy="383.3" r="2.1" fill="#fff" stroke="#4a40f8" stroke-width="1.15"/>
<circle cx="72.22" cy="383.55" r="2.1" fill="#fff" stroke="#4a40f8" stroke-width="1.15"/>
<circle cx="76.24" cy="378.05" r="2.1" fill="#fff" stroke="#4a40f8" stroke-width="1.15"/>
<circle cx="80.27" cy="372.47" r="2.1" fill="#fff" stroke="#4a40f8" stroke-width="1.15"/>
<circle cx="84.29" cy="367.33" r="2.1" fill="#fff" stroke="#4a40f8" stroke-width="1.15"/>
<circle cx="88.32" cy="361.66" r="2.1" fill="#fff" stroke="#4a40f8" stroke-width="1.15"/>
<circle cx="92.34" cy="356.2" r="2.1" fill="#fff" stroke="#4a40f8" stroke-width="1.15"/>
<circle cx="96.37" cy="350.73" r="2.1" fill="#fff" stroke="#4a40f8" stroke-width="1.15"/>
<circle cx="100.39" cy="345.21" r="2.1" fill="#fff" stroke="#4a40f8" stroke-width="1.15"/>
<circle cx="104.42" cy="339.86" r="2.1" fill="#fff" stroke="#4a40f8" stroke-width="1.15"/>
<circle cx="108.44" cy="334.83" r="2.1" fill="#fff" stroke="#4a40f8" stroke-width="1.15"/>
<circle cx="112.47" cy="330.05" r="2.1" fill="#fff" stroke="#4a40f8" stroke-width="1.15"/>
<circle cx="116.49" cy="325.44" r="2.1" fill="#fff" stroke="#4a40f8" stroke-width="1.15"/>
<circle cx="120.52" cy="320.91" r="2.1" fill="#fff" stroke="#4a40f8" stroke-width="1.15"/>
<circle cx="124.54" cy="316.43" r="2.1" fill="#fff" stroke="#4a40f8" stroke-width="1.15"/>
<circle cx="128.57" cy="312" r="2.1" fill="#fff" stroke="#4a40f8" stroke-width="1.15"/>
<circle cx="132.59" cy="307.61" r="2.1" fill="#fff" stroke="#4a40f8" stroke-width="1.15"/>
<circle cx="136.62" cy="303.42" r="2.1" fill="#fff" stroke="#4a40f8" stroke-width="1.15"/>
<circle cx="140.65" cy="299.59" r="2.1" fill="#fff" stroke="#4a40f8" stroke-width="1.15"/>
<circle cx="144.67" cy="296.2" r="2.1" fill="#fff" stroke="#4a40f8" stroke-width="1.15"/>
<circle cx="148.7" cy="293.14" r="2.1" fill="#fff" stroke="#4a40f8" stroke-width="1.15"/>
<circle cx="152.72" cy="290.27" r="2.1" fill="#fff" stroke="#4a40f8" stroke-width="1.15"/>
<circle cx="156.75" cy="287.45" r="2.1" fill="#fff" stroke="#4a40f8" stroke-width="1.15"/>
<circle cx="160.77" cy="284.7" r="2.1" fill="#fff" stroke="#4a40f8" stroke-width="1.15"/>
<circle cx="164.8" cy="282.07" r="2.1" fill="#fff" stroke="#4a40f8" stroke-width="1.15"/>
<circle cx="168.82" cy="279.6" r="2.1" fill="#fff" stroke="#4a40f8" stroke-width="1.15"/>
<circle cx="172.85" cy="277.27" r="2.1" fill="#fff" stroke="#4a40f8" stroke-width="1.15"/>
<circle cx="176.87" cy="275.07" r="2.1" fill="#fff" stroke="#4a40f8" stroke-width="1.15"/>
<circle cx="180.9" cy="273.01" r="2.1" fill="#fff" stroke="#4a40f8" stroke-width="1.15"/>
<circle cx="184.92" cy="271.16" r="2.1" fill="#fff" stroke="#4a40f8" stroke-width="1.15"/>
<circle cx="188.95" cy="269.63" r="2.1" fill="#fff" stroke="#4a40f8" stroke-width="1.15"/>
<circle cx="192.97" cy="268.49" r="2.1" fill="#fff" stroke="#4a40f8" stroke-width="1.15"/>
<circle cx="197" cy="267.66" r="2.1" fill="#fff" stroke="#4a40f8" stroke-width="1.15"/>
<circle cx="201.02" cy="267.02" r="2.1" fill="#fff" stroke="#4a40f8" stroke-width="1.15"/>
<circle cx="205.05" cy="266.51" r="2.1" fill="#fff" stroke="#4a40f8" stroke-width="1.15"/>
<circle cx="209.08" cy="266.11" r="2.1" fill="#fff" stroke="#4a40f8" stroke-width="1.15"/>
<circle cx="213.1" cy="265.84" r="2.1" fill="#fff" stroke="#4a40f8" stroke-width="1.15"/>
<circle cx="217.13" cy="265.71" r="2.1" fill="#fff" stroke="#4a40f8" stroke-width="1.15"/>
<circle cx="221.15" cy="265.68" r="2.1" fill="#fff" stroke="#4a40f8" stroke-width="1.15"/>
<circle cx="225.18" cy="265.7" r="2.1" fill="#fff" stroke="#4a40f8" stroke-width="1.15"/>
<circle cx="229.2" cy="265.8" r="2.1" fill="#fff" stroke="#4a40f8" stroke-width="1.15"/>
<circle cx="233.23" cy="266.01" r="2.1" fill="#fff" stroke="#4a40f8" stroke-width="1.15"/>
<circle cx="237.25" cy="266.35" r="2.1" fill="#fff" stroke="#4a40f8" stroke-width="1.15"/>
<circle cx="241.28" cy="266.81" r="2.1" fill="#fff" stroke="#4a40f8" stroke-width="1.15"/>
<circle cx="245.3" cy="267.37" r="2.1" fill="#fff" stroke="#4a40f8" stroke-width="1.15"/>
<circle cx="249.33" cy="267.97" r="2.1" fill="#fff" stroke="#4a40f8" stroke-width="1.15"/>
<rect x="143" y="324.2" width="102.8" height="49.8" fill="#fff" stroke="#2a2a2a" stroke-width="1"/>
<line x1="155.1" y1="336.8" x2="186.9" y2="336.8" stroke="#4a40f8" stroke-width="1"/>
<circle cx="171" cy="336.8" r="2.1" fill="#fff" stroke="#4a40f8" stroke-width="1.15"/>
<text x="199.7" y="340.8" font-family='"Liberation Serif", "Times New Roman", serif' font-size="11" fill="#111">Type-A</text>
<line x1="155.1" y1="349.3" x2="186.9" y2="349.3" stroke="#ff3048" stroke-width="1"/>
<rect x="169" y="347.3" width="4" height="4" fill="#fff" stroke="#ff3048" stroke-width="1.15"/>
<text x="199.7" y="353.3" font-family='"Liberation Serif", "Times New Roman", serif' font-size="11" fill="#111">Type-B</text>
<line x1="155.1" y1="361.8" x2="186.9" y2="361.8" stroke="#28a040" stroke-width="1"/>
<path d="M171 359.2L173.5 363.6L168.5 363.6Z" fill="#fff" stroke="#28a040" stroke-width="1.15" stroke-linejoin="miter"/>
<text x="199.7" y="365.8" font-family='"Liberation Serif", "Times New Roman", serif' font-size="11" fill="#111">Type-C</text>
<rect x="43.6" y="251.8" width="214.5" height="134.3" fill="none" stroke="#2a2a2a" stroke-width="1.2"/>
<path d="M55.01 386.1v-3.0M55.01 251.8v3.0M77.83 386.1v-3.0M77.83 251.8v3.0M100.65 386.1v-3.0M100.65 251.8v3.0M123.47 386.1v-3.0M123.47 251.8v3.0M146.29 386.1v-3.0M146.29 251.8v3.0M169.11 386.1v-3.0M169.11 251.8v3.0M191.92 386.1v-3.0M191.92 251.8v3.0M214.74 386.1v-3.0M214.74 251.8v3.0M237.56 386.1v-3.0M237.56 251.8v3.0M66.42 386.1v-6.5M66.42 251.8v6.5M89.24 386.1v-6.5M89.24 251.8v6.5M112.06 386.1v-6.5M112.06 251.8v6.5M134.88 386.1v-6.5M134.88 251.8v6.5M157.7 386.1v-6.5M157.7 251.8v6.5M180.51 386.1v-6.5M180.51 251.8v6.5M203.33 386.1v-6.5M203.33 251.8v6.5M226.15 386.1v-6.5M226.15 251.8v6.5M248.97 386.1v-6.5M248.97 251.8v6.5M43.6 380.13h3.1M258.1 380.13h-3.1M43.6 374.16h3.1M258.1 374.16h-3.1M43.6 368.19h3.1M258.1 368.19h-3.1M43.6 362.22h3.1M258.1 362.22h-3.1M43.6 350.29h3.1M258.1 350.29h-3.1M43.6 344.32h3.1M258.1 344.32h-3.1M43.6 338.35h3.1M258.1 338.35h-3.1M43.6 332.38h3.1M258.1 332.38h-3.1M43.6 320.44h3.1M258.1 320.44h-3.1M43.6 314.47h3.1M258.1 314.47h-3.1M43.6 308.5h3.1M258.1 308.5h-3.1M43.6 302.54h3.1M258.1 302.54h-3.1M43.6 290.6h3.1M258.1 290.6h-3.1M43.6 284.63h3.1M258.1 284.63h-3.1M43.6 278.66h3.1M258.1 278.66h-3.1M43.6 272.69h3.1M258.1 272.69h-3.1M43.6 260.75h3.1M258.1 260.75h-3.1M43.6 254.78h3.1M258.1 254.78h-3.1M43.6 386.1h6.5M258.1 386.1h-6.5M43.6 356.26h6.5M258.1 356.26h-6.5M43.6 326.41h6.5M258.1 326.41h-6.5M43.6 296.57h6.5M258.1 296.57h-6.5M43.6 266.72h6.5M258.1 266.72h-6.5" stroke="#2a2a2a" stroke-width="1" fill="none"/>
<text transform="translate(43.6,401.8) scale(1,1.05)" text-anchor="middle" font-family='"Liberation Serif", "Times New Roman", serif' font-size="13.5" fill="#111">2.5</text>
<text transform="translate(66.42,401.8) scale(1,1.05)" text-anchor="middle" font-family='"Liberation Serif", "Times New Roman", serif' font-size="13.5" fill="#111">3</text>
<text transform="translate(89.24,401.8) scale(1,1.05)" text-anchor="middle" font-family='"Liberation Serif", "Times New Roman", serif' font-size="13.5" fill="#111">3.5</text>
<text transform="translate(112.06,401.8) scale(1,1.05)" text-anchor="middle" font-family='"Liberation Serif", "Times New Roman", serif' font-size="13.5" fill="#111">4</text>
<text transform="translate(134.88,401.8) scale(1,1.05)" text-anchor="middle" font-family='"Liberation Serif", "Times New Roman", serif' font-size="13.5" fill="#111">4.5</text>
<text transform="translate(157.7,401.8) scale(1,1.05)" text-anchor="middle" font-family='"Liberation Serif", "Times New Roman", serif' font-size="13.5" fill="#111">5</text>
<text transform="translate(180.51,401.8) scale(1,1.05)" text-anchor="middle" font-family='"Liberation Serif", "Times New Roman", serif' font-size="13.5" fill="#111">5.5</text>
<text transform="translate(203.33,401.8) scale(1,1.05)" text-anchor="middle" font-family='"Liberation Serif", "Times New Roman", serif' font-size="13.5" fill="#111">6</text>
<text transform="translate(226.15,401.8) scale(1,1.05)" text-anchor="middle" font-family='"Liberation Serif", "Times New Roman", serif' font-size="13.5" fill="#111">6.5</text>
<text transform="translate(248.97,401.8) scale(1,1.05)" text-anchor="middle" font-family='"Liberation Serif", "Times New Roman", serif' font-size="13.5" fill="#111">7</text>
<text transform="translate(39.6,390.9) scale(1,1.02)" text-anchor="end" font-family='"Liberation Serif", "Times New Roman", serif' font-size="13.2" fill="#111">0</text>
<text transform="translate(39.6,361.06) scale(1,1.02)" text-anchor="end" font-family='"Liberation Serif", "Times New Roman", serif' font-size="13.2" fill="#111">10</text>
<text transform="translate(39.6,331.21) scale(1,1.02)" text-anchor="end" font-family='"Liberation Serif", "Times New Roman", serif' font-size="13.2" fill="#111">20</text>
<text transform="translate(39.6,301.37) scale(1,1.02)" text-anchor="end" font-family='"Liberation Serif", "Times New Roman", serif' font-size="13.2" fill="#111">30</text>
<text transform="translate(39.6,271.52) scale(1,1.02)" text-anchor="end" font-family='"Liberation Serif", "Times New Roman", serif' font-size="13.2" fill="#111">40</text>
<text x="146.85" y="243.6" text-anchor="middle" font-family='"Liberation Serif", "Times New Roman", serif' font-weight="bold" font-size="15.6" fill="#000">Wave excitation force (Heave)</text>
<text x="152.35" y="422.3" text-anchor="middle" font-family='"Liberation Serif", "Times New Roman", serif' font-style="italic" font-size="15" fill="#111">ω (rad/s)</text>
<text transform="translate(14.7,319.05) rotate(-90)" x="0" y="0" text-anchor="middle" font-family='"Liberation Serif", "Times New Roman", serif' font-style="italic" font-size="15.3" fill="#111">Amplitude (N)</text>
<line x1="343.01" y1="251.8" x2="343.01" y2="386.1" stroke="#e9e9e9" stroke-width="1"/>
<line x1="365.83" y1="251.8" x2="365.83" y2="386.1" stroke="#e9e9e9" stroke-width="1"/>
<line x1="388.65" y1="251.8" x2="388.65" y2="386.1" stroke="#e9e9e9" stroke-width="1"/>
<line x1="411.47" y1="251.8" x2="411.47" y2="386.1" stroke="#e9e9e9" stroke-width="1"/>
<line x1="434.29" y1="251.8" x2="434.29" y2="386.1" stroke="#e9e9e9" stroke-width="1"/>
<line x1="457.11" y1="251.8" x2="457.11" y2="386.1" stroke="#e9e9e9" stroke-width="1"/>
<line x1="479.92" y1="251.8" x2="479.92" y2="386.1" stroke="#e9e9e9" stroke-width="1"/>
<line x1="502.74" y1="251.8" x2="502.74" y2="386.1" stroke="#e9e9e9" stroke-width="1"/>
<line x1="525.56" y1="251.8" x2="525.56" y2="386.1" stroke="#e9e9e9" stroke-width="1"/>
<line x1="331.6" y1="386.1" x2="546.1" y2="386.1" stroke="#e9e9e9" stroke-width="1"/>
<line x1="331.6" y1="372.67" x2="546.1" y2="372.67" stroke="#e9e9e9" stroke-width="1"/>
<line x1="331.6" y1="365.96" x2="546.1" y2="365.96" stroke="#e9e9e9" stroke-width="1"/>
<line x1="331.6" y1="352.53" x2="546.1" y2="352.53" stroke="#e9e9e9" stroke-width="1"/>
<line x1="331.6" y1="345.81" x2="546.1" y2="345.81" stroke="#e9e9e9" stroke-width="1"/>
<line x1="331.6" y1="332.38" x2="546.1" y2="332.38" stroke="#e9e9e9" stroke-width="1"/>
<line x1="331.6" y1="325.67" x2="546.1" y2="325.67" stroke="#e9e9e9" stroke-width="1"/>
<line x1="331.6" y1="312.24" x2="546.1" y2="312.24" stroke="#e9e9e9" stroke-width="1"/>
<line x1="331.6" y1="305.52" x2="546.1" y2="305.52" stroke="#e9e9e9" stroke-width="1"/>
<line x1="331.6" y1="292.09" x2="546.1" y2="292.09" stroke="#e9e9e9" stroke-width="1"/>
<line x1="331.6" y1="285.38" x2="546.1" y2="285.38" stroke="#e9e9e9" stroke-width="1"/>
<line x1="331.6" y1="271.95" x2="546.1" y2="271.95" stroke="#e9e9e9" stroke-width="1"/>
<line x1="331.6" y1="265.23" x2="546.1" y2="265.23" stroke="#e9e9e9" stroke-width="1"/>
<line x1="331.6" y1="251.8" x2="546.1" y2="251.8" stroke="#e9e9e9" stroke-width="1"/>
<line x1="354.42" y1="251.8" x2="354.42" y2="386.1" stroke="#b6b6b6" stroke-width="1"/>
<line x1="377.24" y1="251.8" x2="377.24" y2="386.1" stroke="#b6b6b6" stroke-width="1"/>
<line x1="400.06" y1="251.8" x2="400.06" y2="386.1" stroke="#b6b6b6" stroke-width="1"/>
<line x1="422.88" y1="251.8" x2="422.88" y2="386.1" stroke="#b6b6b6" stroke-width="1"/>
<line x1="445.7" y1="251.8" x2="445.7" y2="386.1" stroke="#b6b6b6" stroke-width="1"/>
<line x1="468.51" y1="251.8" x2="468.51" y2="386.1" stroke="#b6b6b6" stroke-width="1"/>
<line x1="491.33" y1="251.8" x2="491.33" y2="386.1" stroke="#b6b6b6" stroke-width="1"/>
<line x1="514.15" y1="251.8" x2="514.15" y2="386.1" stroke="#b6b6b6" stroke-width="1"/>
<line x1="536.97" y1="251.8" x2="536.97" y2="386.1" stroke="#b6b6b6" stroke-width="1"/>
<line x1="331.6" y1="379.39" x2="546.1" y2="379.39" stroke="#b6b6b6" stroke-width="1"/>
<line x1="331.6" y1="359.24" x2="546.1" y2="359.24" stroke="#b6b6b6" stroke-width="1"/>
<line x1="331.6" y1="339.1" x2="546.1" y2="339.1" stroke="#b6b6b6" stroke-width="1"/>
<line x1="331.6" y1="318.95" x2="546.1" y2="318.95" stroke="#b6b6b6" stroke-width="1"/>
<line x1="331.6" y1="298.81" x2="546.1" y2="298.81" stroke="#b6b6b6" stroke-width="1"/>
<line x1="331.6" y1="278.66" x2="546.1" y2="278.66" stroke="#b6b6b6" stroke-width="1"/>
<line x1="331.6" y1="258.51" x2="546.1" y2="258.51" stroke="#b6b6b6" stroke-width="1"/>
<polyline points="340.09,379.39 344.11,379.39 348.14,379.39 352.16,379.39 356.19,379.39 360.22,379.39 364.24,379.39 368.27,258.51 372.29,258.51 376.32,258.51 380.34,258.51 384.37,258.51 388.39,258.51 392.42,258.51 396.44,258.51 400.47,258.51 404.49,258.51 408.52,258.51 412.54,258.51 416.57,258.51 420.59,258.51 424.62,258.51 428.65,258.51 432.67,258.51 436.7,258.51 440.72,258.51 444.75,258.51 448.77,258.51 452.8,258.51 456.82,258.51 460.85,258.51 464.87,258.51 468.9,258.51 472.92,258.51 476.95,258.51 480.97,258.51 485,258.51 489.02,258.51 493.05,258.51 497.08,258.51 501.1,258.51 505.13,258.51 509.15,258.51 513.18,258.51 517.2,258.51 521.23,258.51 525.25,258.51 529.28,258.51 533.3,258.51 537.33,258.51" fill="none" stroke="#28a040" stroke-width="1"/>
<path d="M340.09 376.79L342.59 381.19L337.59 381.19Z" fill="#fff" stroke="#28a040" stroke-width="1.15" stroke-linejoin="miter"/>
<path d="M344.11 376.79L346.61 381.19L341.61 381.19Z" fill="#fff" stroke="#28a040" stroke-width="1.15" stroke-linejoin="miter"/>
<path d="M348.14 376.79L350.64 381.19L345.64 381.19Z" fill="#fff" stroke="#28a040" stroke-width="1.15" stroke-linejoin="miter"/>
<path d="M352.16 376.79L354.66 381.19L349.66 381.19Z" fill="#fff" stroke="#28a040" stroke-width="1.15" stroke-linejoin="miter"/>
<path d="M356.19 376.79L358.69 381.19L353.69 381.19Z" fill="#fff" stroke="#28a040" stroke-width="1.15" stroke-linejoin="miter"/>
<path d="M360.22 376.79L362.72 381.19L357.72 381.19Z" fill="#fff" stroke="#28a040" stroke-width="1.15" stroke-linejoin="miter"/>
<path d="M364.24 376.79L366.74 381.19L361.74 381.19Z" fill="#fff" stroke="#28a040" stroke-width="1.15" stroke-linejoin="miter"/>
<path d="M368.27 255.91L370.77 260.31L365.77 260.31Z" fill="#fff" stroke="#28a040" stroke-width="1.15" stroke-linejoin="miter"/>
<path d="M372.29 255.91L374.79 260.31L369.79 260.31Z" fill="#fff" stroke="#28a040" stroke-width="1.15" stroke-linejoin="miter"/>
<path d="M376.32 255.91L378.82 260.31L373.82 260.31Z" fill="#fff" stroke="#28a040" stroke-width="1.15" stroke-linejoin="miter"/>
<path d="M380.34 255.91L382.84 260.31L377.84 260.31Z" fill="#fff" stroke="#28a040" stroke-width="1.15" stroke-linejoin="miter"/>
<path d="M384.37 255.91L386.87 260.31L381.87 260.31Z" fill="#fff" stroke="#28a040" stroke-width="1.15" stroke-linejoin="miter"/>
<path d="M388.39 255.91L390.89 260.31L385.89 260.31Z" fill="#fff" stroke="#28a040" stroke-width="1.15" stroke-linejoin="miter"/>
<path d="M392.42 255.91L394.92 260.31L389.92 260.31Z" fill="#fff" stroke="#28a040" stroke-width="1.15" stroke-linejoin="miter"/>
<path d="M396.44 255.91L398.94 260.31L393.94 260.31Z" fill="#fff" stroke="#28a040" stroke-width="1.15" stroke-linejoin="miter"/>
<path d="M400.47 255.91L402.97 260.31L397.97 260.31Z" fill="#fff" stroke="#28a040" stroke-width="1.15" stroke-linejoin="miter"/>
<path d="M404.49 255.91L406.99 260.31L401.99 260.31Z" fill="#fff" stroke="#28a040" stroke-width="1.15" stroke-linejoin="miter"/>
<path d="M408.52 255.91L411.02 260.31L406.02 260.31Z" fill="#fff" stroke="#28a040" stroke-width="1.15" stroke-linejoin="miter"/>
<path d="M412.54 255.91L415.04 260.31L410.04 260.31Z" fill="#fff" stroke="#28a040" stroke-width="1.15" stroke-linejoin="miter"/>
<path d="M416.57 255.91L419.07 260.31L414.07 260.31Z" fill="#fff" stroke="#28a040" stroke-width="1.15" stroke-linejoin="miter"/>
<path d="M420.59 255.91L423.09 260.31L418.09 260.31Z" fill="#fff" stroke="#28a040" stroke-width="1.15" stroke-linejoin="miter"/>
<path d="M424.62 255.91L427.12 260.31L422.12 260.31Z" fill="#fff" stroke="#28a040" stroke-width="1.15" stroke-linejoin="miter"/>
<path d="M428.65 255.91L431.15 260.31L426.15 260.31Z" fill="#fff" stroke="#28a040" stroke-width="1.15" stroke-linejoin="miter"/>
<path d="M432.67 255.91L435.17 260.31L430.17 260.31Z" fill="#fff" stroke="#28a040" stroke-width="1.15" stroke-linejoin="miter"/>
<path d="M436.7 255.91L439.2 260.31L434.2 260.31Z" fill="#fff" stroke="#28a040" stroke-width="1.15" stroke-linejoin="miter"/>
<path d="M440.72 255.91L443.22 260.31L438.22 260.31Z" fill="#fff" stroke="#28a040" stroke-width="1.15" stroke-linejoin="miter"/>
<path d="M444.75 255.91L447.25 260.31L442.25 260.31Z" fill="#fff" stroke="#28a040" stroke-width="1.15" stroke-linejoin="miter"/>
<path d="M448.77 255.91L451.27 260.31L446.27 260.31Z" fill="#fff" stroke="#28a040" stroke-width="1.15" stroke-linejoin="miter"/>
<path d="M452.8 255.91L455.3 260.31L450.3 260.31Z" fill="#fff" stroke="#28a040" stroke-width="1.15" stroke-linejoin="miter"/>
<path d="M456.82 255.91L459.32 260.31L454.32 260.31Z" fill="#fff" stroke="#28a040" stroke-width="1.15" stroke-linejoin="miter"/>
<path d="M460.85 255.91L463.35 260.31L458.35 260.31Z" fill="#fff" stroke="#28a040" stroke-width="1.15" stroke-linejoin="miter"/>
<path d="M464.87 255.91L467.37 260.31L462.37 260.31Z" fill="#fff" stroke="#28a040" stroke-width="1.15" stroke-linejoin="miter"/>
<path d="M468.9 255.91L471.4 260.31L466.4 260.31Z" fill="#fff" stroke="#28a040" stroke-width="1.15" stroke-linejoin="miter"/>
<path d="M472.92 255.91L475.42 260.31L470.42 260.31Z" fill="#fff" stroke="#28a040" stroke-width="1.15" stroke-linejoin="miter"/>
<path d="M476.95 255.91L479.45 260.31L474.45 260.31Z" fill="#fff" stroke="#28a040" stroke-width="1.15" stroke-linejoin="miter"/>
<path d="M480.97 255.91L483.47 260.31L478.47 260.31Z" fill="#fff" stroke="#28a040" stroke-width="1.15" stroke-linejoin="miter"/>
<path d="M485 255.91L487.5 260.31L482.5 260.31Z" fill="#fff" stroke="#28a040" stroke-width="1.15" stroke-linejoin="miter"/>
<path d="M489.02 255.91L491.52 260.31L486.52 260.31Z" fill="#fff" stroke="#28a040" stroke-width="1.15" stroke-linejoin="miter"/>
<path d="M493.05 255.91L495.55 260.31L490.55 260.31Z" fill="#fff" stroke="#28a040" stroke-width="1.15" stroke-linejoin="miter"/>
<path d="M497.08 255.91L499.58 260.31L494.58 260.31Z" fill="#fff" stroke="#28a040" stroke-width="1.15" stroke-linejoin="miter"/>
<path d="M501.1 255.91L503.6 260.31L498.6 260.31Z" fill="#fff" stroke="#28a040" stroke-width="1.15" stroke-linejoin="miter"/>
<path d="M505.13 255.91L507.63 260.31L502.63 260.31Z" fill="#fff" stroke="#28a040" stroke-width="1.15" stroke-linejoin="miter"/>
<path d="M509.15 255.91L511.65 260.31L506.65 260.31Z" fill="#fff" stroke="#28a040" stroke-width="1.15" stroke-linejoin="miter"/>
<path d="M513.18 255.91L515.68 260.31L510.68 260.31Z" fill="#fff" stroke="#28a040" stroke-width="1.15" stroke-linejoin="miter"/>
<path d="M517.2 255.91L519.7 260.31L514.7 260.31Z" fill="#fff" stroke="#28a040" stroke-width="1.15" stroke-linejoin="miter"/>
<path d="M521.23 255.91L523.73 260.31L518.73 260.31Z" fill="#fff" stroke="#28a040" stroke-width="1.15" stroke-linejoin="miter"/>
<path d="M525.25 255.91L527.75 260.31L522.75 260.31Z" fill="#fff" stroke="#28a040" stroke-width="1.15" stroke-linejoin="miter"/>
<path d="M529.28 255.91L531.78 260.31L526.78 260.31Z" fill="#fff" stroke="#28a040" stroke-width="1.15" stroke-linejoin="miter"/>
<path d="M533.3 255.91L535.8 260.31L530.8 260.31Z" fill="#fff" stroke="#28a040" stroke-width="1.15" stroke-linejoin="miter"/>
<path d="M537.33 255.91L539.83 260.31L534.83 260.31Z" fill="#fff" stroke="#28a040" stroke-width="1.15" stroke-linejoin="miter"/>
<polyline points="340.09,379.39 344.11,379.39 348.14,379.39 352.16,379.39 356.19,379.39 360.22,379.39 364.24,379.39 368.27,379.39 372.29,258.51 376.32,258.51 380.34,258.51 384.37,258.51 388.39,258.51 392.42,258.51 396.44,258.51 400.47,258.51 404.49,258.51 408.52,258.51 412.54,258.51 416.57,258.51 420.59,258.51 424.62,258.51 428.65,258.51 432.67,258.51 436.7,258.51 440.72,258.51 444.75,258.51 448.77,258.51 452.8,258.51 456.82,258.51 460.85,258.51 464.87,258.51 468.9,258.51 472.92,258.51 476.95,258.51 480.97,258.51 485,258.51 489.02,258.51 493.05,258.51 497.08,258.51 501.1,258.51 505.13,258.51 509.15,258.51 513.18,258.51 517.2,258.51 521.23,258.51 525.25,258.51 529.28,258.51 533.3,258.51 537.33,258.51" fill="none" stroke="#ff3048" stroke-width="1"/>
<rect x="338.09" y="377.39" width="4" height="4" fill="#fff" stroke="#ff3048" stroke-width="1.15"/>
<rect x="342.11" y="377.39" width="4" height="4" fill="#fff" stroke="#ff3048" stroke-width="1.15"/>
<rect x="346.14" y="377.39" width="4" height="4" fill="#fff" stroke="#ff3048" stroke-width="1.15"/>
<rect x="350.16" y="377.39" width="4" height="4" fill="#fff" stroke="#ff3048" stroke-width="1.15"/>
<rect x="354.19" y="377.39" width="4" height="4" fill="#fff" stroke="#ff3048" stroke-width="1.15"/>
<rect x="358.22" y="377.39" width="4" height="4" fill="#fff" stroke="#ff3048" stroke-width="1.15"/>
<rect x="362.24" y="377.39" width="4" height="4" fill="#fff" stroke="#ff3048" stroke-width="1.15"/>
<rect x="366.27" y="377.39" width="4" height="4" fill="#fff" stroke="#ff3048" stroke-width="1.15"/>
<rect x="370.29" y="256.51" width="4" height="4" fill="#fff" stroke="#ff3048" stroke-width="1.15"/>
<rect x="374.32" y="256.51" width="4" height="4" fill="#fff" stroke="#ff3048" stroke-width="1.15"/>
<rect x="378.34" y="256.51" width="4" height="4" fill="#fff" stroke="#ff3048" stroke-width="1.15"/>
<rect x="382.37" y="256.51" width="4" height="4" fill="#fff" stroke="#ff3048" stroke-width="1.15"/>
<rect x="386.39" y="256.51" width="4" height="4" fill="#fff" stroke="#ff3048" stroke-width="1.15"/>
<rect x="390.42" y="256.51" width="4" height="4" fill="#fff" stroke="#ff3048" stroke-width="1.15"/>
<rect x="394.44" y="256.51" width="4" height="4" fill="#fff" stroke="#ff3048" stroke-width="1.15"/>
<rect x="398.47" y="256.51" width="4" height="4" fill="#fff" stroke="#ff3048" stroke-width="1.15"/>
<rect x="402.49" y="256.51" width="4" height="4" fill="#fff" stroke="#ff3048" stroke-width="1.15"/>
<rect x="406.52" y="256.51" width="4" height="4" fill="#fff" stroke="#ff3048" stroke-width="1.15"/>
<rect x="410.54" y="256.51" width="4" height="4" fill="#fff" stroke="#ff3048" stroke-width="1.15"/>
<rect x="414.57" y="256.51" width="4" height="4" fill="#fff" stroke="#ff3048" stroke-width="1.15"/>
<rect x="418.59" y="256.51" width="4" height="4" fill="#fff" stroke="#ff3048" stroke-width="1.15"/>
<rect x="422.62" y="256.51" width="4" height="4" fill="#fff" stroke="#ff3048" stroke-width="1.15"/>
<rect x="426.65" y="256.51" width="4" height="4" fill="#fff" stroke="#ff3048" stroke-width="1.15"/>
<rect x="430.67" y="256.51" width="4" height="4" fill="#fff" stroke="#ff3048" stroke-width="1.15"/>
<rect x="434.7" y="256.51" width="4" height="4" fill="#fff" stroke="#ff3048" stroke-width="1.15"/>
<rect x="438.72" y="256.51" width="4" height="4" fill="#fff" stroke="#ff3048" stroke-width="1.15"/>
<rect x="442.75" y="256.51" width="4" height="4" fill="#fff" stroke="#ff3048" stroke-width="1.15"/>
<rect x="446.77" y="256.51" width="4" height="4" fill="#fff" stroke="#ff3048" stroke-width="1.15"/>
<rect x="450.8" y="256.51" width="4" height="4" fill="#fff" stroke="#ff3048" stroke-width="1.15"/>
<rect x="454.82" y="256.51" width="4" height="4" fill="#fff" stroke="#ff3048" stroke-width="1.15"/>
<rect x="458.85" y="256.51" width="4" height="4" fill="#fff" stroke="#ff3048" stroke-width="1.15"/>
<rect x="462.87" y="256.51" width="4" height="4" fill="#fff" stroke="#ff3048" stroke-width="1.15"/>
<rect x="466.9" y="256.51" width="4" height="4" fill="#fff" stroke="#ff3048" stroke-width="1.15"/>
<rect x="470.92" y="256.51" width="4" height="4" fill="#fff" stroke="#ff3048" stroke-width="1.15"/>
<rect x="474.95" y="256.51" width="4" height="4" fill="#fff" stroke="#ff3048" stroke-width="1.15"/>
<rect x="478.97" y="256.51" width="4" height="4" fill="#fff" stroke="#ff3048" stroke-width="1.15"/>
<rect x="483" y="256.51" width="4" height="4" fill="#fff" stroke="#ff3048" stroke-width="1.15"/>
<rect x="487.02" y="256.51" width="4" height="4" fill="#fff" stroke="#ff3048" stroke-width="1.15"/>
<rect x="491.05" y="256.51" width="4" height="4" fill="#fff" stroke="#ff3048" stroke-width="1.15"/>
<rect x="495.08" y="256.51" width="4" height="4" fill="#fff" stroke="#ff3048" stroke-width="1.15"/>
<rect x="499.1" y="256.51" width="4" height="4" fill="#fff" stroke="#ff3048" stroke-width="1.15"/>
<rect x="503.13" y="256.51" width="4" height="4" fill="#fff" stroke="#ff3048" stroke-width="1.15"/>
<rect x="507.15" y="256.51" width="4" height="4" fill="#fff" stroke="#ff3048" stroke-width="1.15"/>
<rect x="511.18" y="256.51" width="4" height="4" fill="#fff" stroke="#ff3048" stroke-width="1.15"/>
<rect x="515.2" y="256.51" width="4" height="4" fill="#fff" stroke="#ff3048" stroke-width="1.15"/>
<rect x="519.23" y="256.51" width="4" height="4" fill="#fff" stroke="#ff3048" stroke-width="1.15"/>
<rect x="523.25" y="256.51" width="4" height="4" fill="#fff" stroke="#ff3048" stroke-width="1.15"/>
<rect x="527.28" y="256.51" width="4" height="4" fill="#fff" stroke="#ff3048" stroke-width="1.15"/>
<rect x="531.3" y="256.51" width="4" height="4" fill="#fff" stroke="#ff3048" stroke-width="1.15"/>
<rect x="535.33" y="256.51" width="4" height="4" fill="#fff" stroke="#ff3048" stroke-width="1.15"/>
<polyline points="340.09,379.39 344.11,379.39 348.14,379.39 352.16,379.39 356.19,379.39 360.22,258.51 364.24,258.51 368.27,258.51 372.29,258.51 376.32,258.51 380.34,258.51 384.37,258.51 388.39,258.51 392.42,258.51 396.44,258.51 400.47,258.51 404.49,258.51 408.52,258.51 412.54,258.51 416.57,258.51 420.59,258.51 424.62,258.51 428.65,258.51 432.67,258.51 436.7,258.51 440.72,258.51 444.75,258.51 448.77,258.51 452.8,258.51 456.82,258.51 460.85,258.51 464.87,258.51 468.9,258.51 472.92,258.51 476.95,258.51 480.97,258.51 485,258.51 489.02,258.51 493.05,258.51 497.08,258.51 501.1,258.51 505.13,258.51 509.15,258.51 513.18,258.51 517.2,258.51 521.23,258.51 525.25,258.51 529.28,258.51 533.3,258.51 537.33,258.51" fill="none" stroke="#4a40f8" stroke-width="1"/>
<circle cx="340.09" cy="379.39" r="2.1" fill="#fff" stroke="#4a40f8" stroke-width="1.15"/>
<circle cx="344.11" cy="379.39" r="2.1" fill="#fff" stroke="#4a40f8" stroke-width="1.15"/>
<circle cx="348.14" cy="379.39" r="2.1" fill="#fff" stroke="#4a40f8" stroke-width="1.15"/>
<circle cx="352.16" cy="379.39" r="2.1" fill="#fff" stroke="#4a40f8" stroke-width="1.15"/>
<circle cx="356.19" cy="379.39" r="2.1" fill="#fff" stroke="#4a40f8" stroke-width="1.15"/>
<circle cx="360.22" cy="258.51" r="2.1" fill="#fff" stroke="#4a40f8" stroke-width="1.15"/>
<circle cx="364.24" cy="258.51" r="2.1" fill="#fff" stroke="#4a40f8" stroke-width="1.15"/>
<circle cx="368.27" cy="258.51" r="2.1" fill="#fff" stroke="#4a40f8" stroke-width="1.15"/>
<circle cx="372.29" cy="258.51" r="2.1" fill="#fff" stroke="#4a40f8" stroke-width="1.15"/>
<circle cx="376.32" cy="258.51" r="2.1" fill="#fff" stroke="#4a40f8" stroke-width="1.15"/>
<circle cx="380.34" cy="258.51" r="2.1" fill="#fff" stroke="#4a40f8" stroke-width="1.15"/>
<circle cx="384.37" cy="258.51" r="2.1" fill="#fff" stroke="#4a40f8" stroke-width="1.15"/>
<circle cx="388.39" cy="258.51" r="2.1" fill="#fff" stroke="#4a40f8" stroke-width="1.15"/>
<circle cx="392.42" cy="258.51" r="2.1" fill="#fff" stroke="#4a40f8" stroke-width="1.15"/>
<circle cx="396.44" cy="258.51" r="2.1" fill="#fff" stroke="#4a40f8" stroke-width="1.15"/>
<circle cx="400.47" cy="258.51" r="2.1" fill="#fff" stroke="#4a40f8" stroke-width="1.15"/>
<circle cx="404.49" cy="258.51" r="2.1" fill="#fff" stroke="#4a40f8" stroke-width="1.15"/>
<circle cx="408.52" cy="258.51" r="2.1" fill="#fff" stroke="#4a40f8" stroke-width="1.15"/>
<circle cx="412.54" cy="258.51" r="2.1" fill="#fff" stroke="#4a40f8" stroke-width="1.15"/>
<circle cx="416.57" cy="258.51" r="2.1" fill="#fff" stroke="#4a40f8" stroke-width="1.15"/>
<circle cx="420.59" cy="258.51" r="2.1" fill="#fff" stroke="#4a40f8" stroke-width="1.15"/>
<circle cx="424.62" cy="258.51" r="2.1" fill="#fff" stroke="#4a40f8" stroke-width="1.15"/>
<circle cx="428.65" cy="258.51" r="2.1" fill="#fff" stroke="#4a40f8" stroke-width="1.15"/>
<circle cx="432.67" cy="258.51" r="2.1" fill="#fff" stroke="#4a40f8" stroke-width="1.15"/>
<circle cx="436.7" cy="258.51" r="2.1" fill="#fff" stroke="#4a40f8" stroke-width="1.15"/>
<circle cx="440.72" cy="258.51" r="2.1" fill="#fff" stroke="#4a40f8" stroke-width="1.15"/>
<circle cx="444.75" cy="258.51" r="2.1" fill="#fff" stroke="#4a40f8" stroke-width="1.15"/>
<circle cx="448.77" cy="258.51" r="2.1" fill="#fff" stroke="#4a40f8" stroke-width="1.15"/>
<circle cx="452.8" cy="258.51" r="2.1" fill="#fff" stroke="#4a40f8" stroke-width="1.15"/>
<circle cx="456.82" cy="258.51" r="2.1" fill="#fff" stroke="#4a40f8" stroke-width="1.15"/>
<circle cx="460.85" cy="258.51" r="2.1" fill="#fff" stroke="#4a40f8" stroke-width="1.15"/>
<circle cx="464.87" cy="258.51" r="2.1" fill="#fff" stroke="#4a40f8" stroke-width="1.15"/>
<circle cx="468.9" cy="258.51" r="2.1" fill="#fff" stroke="#4a40f8" stroke-width="1.15"/>
<circle cx="472.92" cy="258.51" r="2.1" fill="#fff" stroke="#4a40f8" stroke-width="1.15"/>
<circle cx="476.95" cy="258.51" r="2.1" fill="#fff" stroke="#4a40f8" stroke-width="1.15"/>
<circle cx="480.97" cy="258.51" r="2.1" fill="#fff" stroke="#4a40f8" stroke-width="1.15"/>
<circle cx="485" cy="258.51" r="2.1" fill="#fff" stroke="#4a40f8" stroke-width="1.15"/>
<circle cx="489.02" cy="258.51" r="2.1" fill="#fff" stroke="#4a40f8" stroke-width="1.15"/>
<circle cx="493.05" cy="258.51" r="2.1" fill="#fff" stroke="#4a40f8" stroke-width="1.15"/>
<circle cx="497.08" cy="258.51" r="2.1" fill="#fff" stroke="#4a40f8" stroke-width="1.15"/>
<circle cx="501.1" cy="258.51" r="2.1" fill="#fff" stroke="#4a40f8" stroke-width="1.15"/>
<circle cx="505.13" cy="258.51" r="2.1" fill="#fff" stroke="#4a40f8" stroke-width="1.15"/>
<circle cx="509.15" cy="258.51" r="2.1" fill="#fff" stroke="#4a40f8" stroke-width="1.15"/>
<circle cx="513.18" cy="258.51" r="2.1" fill="#fff" stroke="#4a40f8" stroke-width="1.15"/>
<circle cx="517.2" cy="258.51" r="2.1" fill="#fff" stroke="#4a40f8" stroke-width="1.15"/>
<circle cx="521.23" cy="258.51" r="2.1" fill="#fff" stroke="#4a40f8" stroke-width="1.15"/>
<circle cx="525.25" cy="258.51" r="2.1" fill="#fff" stroke="#4a40f8" stroke-width="1.15"/>
<circle cx="529.28" cy="258.51" r="2.1" fill="#fff" stroke="#4a40f8" stroke-width="1.15"/>
<circle cx="533.3" cy="258.51" r="2.1" fill="#fff" stroke="#4a40f8" stroke-width="1.15"/>
<circle cx="537.33" cy="258.51" r="2.1" fill="#fff" stroke="#4a40f8" stroke-width="1.15"/>
<rect x="431" y="324.2" width="102.8" height="49.8" fill="#fff" stroke="#2a2a2a" stroke-width="1"/>
<line x1="443.1" y1="336.8" x2="474.9" y2="336.8" stroke="#4a40f8" stroke-width="1"/>
<circle cx="459" cy="336.8" r="2.1" fill="#fff" stroke="#4a40f8" stroke-width="1.15"/>
<text x="487.7" y="340.8" font-family='"Liberation Serif", "Times New Roman", serif' font-size="11" fill="#111">Type-A</text>
<line x1="443.1" y1="349.3" x2="474.9" y2="349.3" stroke="#ff3048" stroke-width="1"/>
<rect x="457" y="347.3" width="4" height="4" fill="#fff" stroke="#ff3048" stroke-width="1.15"/>
<text x="487.7" y="353.3" font-family='"Liberation Serif", "Times New Roman", serif' font-size="11" fill="#111">Type-B</text>
<line x1="443.1" y1="361.8" x2="474.9" y2="361.8" stroke="#28a040" stroke-width="1"/>
<path d="M459 359.2L461.5 363.6L456.5 363.6Z" fill="#fff" stroke="#28a040" stroke-width="1.15" stroke-linejoin="miter"/>
<text x="487.7" y="365.8" font-family='"Liberation Serif", "Times New Roman", serif' font-size="11" fill="#111">Type-C</text>
<rect x="331.6" y="251.8" width="214.5" height="134.3" fill="none" stroke="#2a2a2a" stroke-width="1.2"/>
<path d="M343.01 386.1v-3.0M343.01 251.8v3.0M365.83 386.1v-3.0M365.83 251.8v3.0M388.65 386.1v-3.0M388.65 251.8v3.0M411.47 386.1v-3.0M411.47 251.8v3.0M434.29 386.1v-3.0M434.29 251.8v3.0M457.11 386.1v-3.0M457.11 251.8v3.0M479.92 386.1v-3.0M479.92 251.8v3.0M502.74 386.1v-3.0M502.74 251.8v3.0M525.56 386.1v-3.0M525.56 251.8v3.0M354.42 386.1v-6.5M354.42 251.8v6.5M377.24 386.1v-6.5M377.24 251.8v6.5M400.06 386.1v-6.5M400.06 251.8v6.5M422.88 386.1v-6.5M422.88 251.8v6.5M445.7 386.1v-6.5M445.7 251.8v6.5M468.51 386.1v-6.5M468.51 251.8v6.5M491.33 386.1v-6.5M491.33 251.8v6.5M514.15 386.1v-6.5M514.15 251.8v6.5M536.97 386.1v-6.5M536.97 251.8v6.5M331.6 386.1h3.1M546.1 386.1h-3.1M331.6 372.67h3.1M546.1 372.67h-3.1M331.6 365.96h3.1M546.1 365.96h-3.1M331.6 352.53h3.1M546.1 352.53h-3.1M331.6 345.81h3.1M546.1 345.81h-3.1M331.6 332.38h3.1M546.1 332.38h-3.1M331.6 325.67h3.1M546.1 325.67h-3.1M331.6 312.24h3.1M546.1 312.24h-3.1M331.6 305.52h3.1M546.1 305.52h-3.1M331.6 292.09h3.1M546.1 292.09h-3.1M331.6 285.38h3.1M546.1 285.38h-3.1M331.6 271.95h3.1M546.1 271.95h-3.1M331.6 265.23h3.1M546.1 265.23h-3.1M331.6 251.8h3.1M546.1 251.8h-3.1M331.6 379.39h6.5M546.1 379.39h-6.5M331.6 359.24h6.5M546.1 359.24h-6.5M331.6 339.1h6.5M546.1 339.1h-6.5M331.6 318.95h6.5M546.1 318.95h-6.5M331.6 298.81h6.5M546.1 298.81h-6.5M331.6 278.66h6.5M546.1 278.66h-6.5M331.6 258.51h6.5M546.1 258.51h-6.5" stroke="#2a2a2a" stroke-width="1" fill="none"/>
<text transform="translate(331.6,401.8) scale(1,1.05)" text-anchor="middle" font-family='"Liberation Serif", "Times New Roman", serif' font-size="13.5" fill="#111">2.5</text>
<text transform="translate(354.42,401.8) scale(1,1.05)" text-anchor="middle" font-family='"Liberation Serif", "Times New Roman", serif' font-size="13.5" fill="#111">3</text>
<text transform="translate(377.24,401.8) scale(1,1.05)" text-anchor="middle" font-family='"Liberation Serif", "Times New Roman", serif' font-size="13.5" fill="#111">3.5</text>
<text transform="translate(400.06,401.8) scale(1,1.05)" text-anchor="middle" font-family='"Liberation Serif", "Times New Roman", serif' font-size="13.5" fill="#111">4</text>
<text transform="translate(422.88,401.8) scale(1,1.05)" text-anchor="middle" font-family='"Liberation Serif", "Times New Roman", serif' font-size="13.5" fill="#111">4.5</text>
<text transform="translate(445.7,401.8) scale(1,1.05)" text-anchor="middle" font-family='"Liberation Serif", "Times New Roman", serif' font-size="13.5" fill="#111">5</text>
<text transform="translate(468.51,401.8) scale(1,1.05)" text-anchor="middle" font-family='"Liberation Serif", "Times New Roman", serif' font-size="13.5" fill="#111">5.5</text>
<text transform="translate(491.33,401.8) scale(1,1.05)" text-anchor="middle" font-family='"Liberation Serif", "Times New Roman", serif' font-size="13.5" fill="#111">6</text>
<text transform="translate(514.15,401.8) scale(1,1.05)" text-anchor="middle" font-family='"Liberation Serif", "Times New Roman", serif' font-size="13.5" fill="#111">6.5</text>
<text transform="translate(536.97,401.8) scale(1,1.05)" text-anchor="middle" font-family='"Liberation Serif", "Times New Roman", serif' font-size="13.5" fill="#111">7</text>
<text transform="translate(327.6,384.19) scale(1,1.02)" text-anchor="end" font-family='"Liberation Serif", "Times New Roman", serif' font-size="13.2" fill="#111">0</text>
<text transform="translate(327.6,364.04) scale(1,1.02)" text-anchor="end" font-family='"Liberation Serif", "Times New Roman", serif' font-size="13.2" fill="#111">30</text>
<text transform="translate(327.6,343.9) scale(1,1.02)" text-anchor="end" font-family='"Liberation Serif", "Times New Roman", serif' font-size="13.2" fill="#111">60</text>
<text transform="translate(327.6,323.75) scale(1,1.02)" text-anchor="end" font-family='"Liberation Serif", "Times New Roman", serif' font-size="13.2" fill="#111">90</text>
<text transform="translate(327.6,303.61) scale(1,1.02)" text-anchor="end" font-family='"Liberation Serif", "Times New Roman", serif' font-size="13.2" fill="#111">120</text>
<text transform="translate(327.6,283.46) scale(1,1.02)" text-anchor="end" font-family='"Liberation Serif", "Times New Roman", serif' font-size="13.2" fill="#111">150</text>
<text transform="translate(327.6,263.31) scale(1,1.02)" text-anchor="end" font-family='"Liberation Serif", "Times New Roman", serif' font-size="13.2" fill="#111">180</text>
<text x="434.85" y="243.6" text-anchor="middle" font-family='"Liberation Serif", "Times New Roman", serif' font-weight="bold" font-size="15.6" fill="#000">Phase angle (Heave)</text>
<text x="440.35" y="422.3" text-anchor="middle" font-family='"Liberation Serif", "Times New Roman", serif' font-style="italic" font-size="15" fill="#111">ω (rad/s)</text>
<text transform="translate(302.7,319.35) rotate(-90)" x="0" y="0" text-anchor="middle" font-family='"Liberation Serif", "Times New Roman", serif' font-style="italic" font-size="15.3" fill="#111">Phase angle (deg)</text>
<line x1="55.01" y1="481.4" x2="55.01" y2="615.7" stroke="#e9e9e9" stroke-width="1"/>
<line x1="77.83" y1="481.4" x2="77.83" y2="615.7" stroke="#e9e9e9" stroke-width="1"/>
<line x1="100.65" y1="481.4" x2="100.65" y2="615.7" stroke="#e9e9e9" stroke-width="1"/>
<line x1="123.47" y1="481.4" x2="123.47" y2="615.7" stroke="#e9e9e9" stroke-width="1"/>
<line x1="146.29" y1="481.4" x2="146.29" y2="615.7" stroke="#e9e9e9" stroke-width="1"/>
<line x1="169.11" y1="481.4" x2="169.11" y2="615.7" stroke="#e9e9e9" stroke-width="1"/>
<line x1="191.92" y1="481.4" x2="191.92" y2="615.7" stroke="#e9e9e9" stroke-width="1"/>
<line x1="214.74" y1="481.4" x2="214.74" y2="615.7" stroke="#e9e9e9" stroke-width="1"/>
<line x1="237.56" y1="481.4" x2="237.56" y2="615.7" stroke="#e9e9e9" stroke-width="1"/>
<line x1="43.6" y1="610.33" x2="258.1" y2="610.33" stroke="#e9e9e9" stroke-width="1"/>
<line x1="43.6" y1="604.96" x2="258.1" y2="604.96" stroke="#e9e9e9" stroke-width="1"/>
<line x1="43.6" y1="599.58" x2="258.1" y2="599.58" stroke="#e9e9e9" stroke-width="1"/>
<line x1="43.6" y1="594.21" x2="258.1" y2="594.21" stroke="#e9e9e9" stroke-width="1"/>
<line x1="43.6" y1="583.47" x2="258.1" y2="583.47" stroke="#e9e9e9" stroke-width="1"/>
<line x1="43.6" y1="578.1" x2="258.1" y2="578.1" stroke="#e9e9e9" stroke-width="1"/>
<line x1="43.6" y1="572.72" x2="258.1" y2="572.72" stroke="#e9e9e9" stroke-width="1"/>
<line x1="43.6" y1="567.35" x2="258.1" y2="567.35" stroke="#e9e9e9" stroke-width="1"/>
<line x1="43.6" y1="556.61" x2="258.1" y2="556.61" stroke="#e9e9e9" stroke-width="1"/>
<line x1="43.6" y1="551.24" x2="258.1" y2="551.24" stroke="#e9e9e9" stroke-width="1"/>
<line x1="43.6" y1="545.86" x2="258.1" y2="545.86" stroke="#e9e9e9" stroke-width="1"/>
<line x1="43.6" y1="540.49" x2="258.1" y2="540.49" stroke="#e9e9e9" stroke-width="1"/>
<line x1="43.6" y1="529.75" x2="258.1" y2="529.75" stroke="#e9e9e9" stroke-width="1"/>
<line x1="43.6" y1="524.38" x2="258.1" y2="524.38" stroke="#e9e9e9" stroke-width="1"/>
<line x1="43.6" y1="519" x2="258.1" y2="519" stroke="#e9e9e9" stroke-width="1"/>
<line x1="43.6" y1="513.63" x2="258.1" y2="513.63" stroke="#e9e9e9" stroke-width="1"/>
<line x1="43.6" y1="502.89" x2="258.1" y2="502.89" stroke="#e9e9e9" stroke-width="1"/>
<line x1="43.6" y1="497.52" x2="258.1" y2="497.52" stroke="#e9e9e9" stroke-width="1"/>
<line x1="43.6" y1="492.14" x2="258.1" y2="492.14" stroke="#e9e9e9" stroke-width="1"/>
<line x1="43.6" y1="486.77" x2="258.1" y2="486.77" stroke="#e9e9e9" stroke-width="1"/>
<line x1="66.42" y1="481.4" x2="66.42" y2="615.7" stroke="#b6b6b6" stroke-width="1"/>
<line x1="89.24" y1="481.4" x2="89.24" y2="615.7" stroke="#b6b6b6" stroke-width="1"/>
<line x1="112.06" y1="481.4" x2="112.06" y2="615.7" stroke="#b6b6b6" stroke-width="1"/>
<line x1="134.88" y1="481.4" x2="134.88" y2="615.7" stroke="#b6b6b6" stroke-width="1"/>
<line x1="157.7" y1="481.4" x2="157.7" y2="615.7" stroke="#b6b6b6" stroke-width="1"/>
<line x1="180.51" y1="481.4" x2="180.51" y2="615.7" stroke="#b6b6b6" stroke-width="1"/>
<line x1="203.33" y1="481.4" x2="203.33" y2="615.7" stroke="#b6b6b6" stroke-width="1"/>
<line x1="226.15" y1="481.4" x2="226.15" y2="615.7" stroke="#b6b6b6" stroke-width="1"/>
<line x1="248.97" y1="481.4" x2="248.97" y2="615.7" stroke="#b6b6b6" stroke-width="1"/>
<line x1="43.6" y1="588.84" x2="258.1" y2="588.84" stroke="#b6b6b6" stroke-width="1"/>
<line x1="43.6" y1="561.98" x2="258.1" y2="561.98" stroke="#b6b6b6" stroke-width="1"/>
<line x1="43.6" y1="535.12" x2="258.1" y2="535.12" stroke="#b6b6b6" stroke-width="1"/>
<line x1="43.6" y1="508.26" x2="258.1" y2="508.26" stroke="#b6b6b6" stroke-width="1"/>
<polyline points="52.09,579.71 56.11,578.22 60.14,576.74 64.16,575.25 68.19,573.76 72.22,572.26 76.24,570.75 80.27,569.24 84.29,567.71 88.32,566.17 92.34,564.6 96.37,563 100.39,561.36 104.42,559.69 108.44,557.98 112.47,556.25 116.49,554.5 120.52,552.73 124.54,550.96 128.57,549.19 132.59,547.41 136.62,545.63 140.65,543.84 144.67,542.04 148.7,540.23 152.72,538.41 156.75,536.58 160.77,534.73 164.8,532.87 168.82,531 172.85,529.11 176.87,527.21 180.9,525.31 184.92,523.42 188.95,521.54 192.97,519.7 197,517.91 201.02,516.17 205.05,514.49 209.08,512.88 213.1,511.35 217.13,509.9 221.15,508.52 225.18,507.24 229.2,506.02 233.23,504.87 237.25,503.77 241.28,502.71 245.3,501.67 249.33,500.65" fill="none" stroke="#28a040" stroke-width="1"/>
<path d="M52.09 577.11L54.59 581.51L49.59 581.51Z" fill="#fff" stroke="#28a040" stroke-width="1.15" stroke-linejoin="miter"/>
<path d="M56.11 575.62L58.61 580.02L53.61 580.02Z" fill="#fff" stroke="#28a040" stroke-width="1.15" stroke-linejoin="miter"/>
<path d="M60.14 574.14L62.64 578.54L57.64 578.54Z" fill="#fff" stroke="#28a040" stroke-width="1.15" stroke-linejoin="miter"/>
<path d="M64.16 572.65L66.66 577.05L61.66 577.05Z" fill="#fff" stroke="#28a040" stroke-width="1.15" stroke-linejoin="miter"/>
<path d="M68.19 571.16L70.69 575.56L65.69 575.56Z" fill="#fff" stroke="#28a040" stroke-width="1.15" stroke-linejoin="miter"/>
<path d="M72.22 569.66L74.72 574.06L69.72 574.06Z" fill="#fff" stroke="#28a040" stroke-width="1.15" stroke-linejoin="miter"/>
<path d="M76.24 568.15L78.74 572.55L73.74 572.55Z" fill="#fff" stroke="#28a040" stroke-width="1.15" stroke-linejoin="miter"/>
<path d="M80.27 566.64L82.77 571.04L77.77 571.04Z" fill="#fff" stroke="#28a040" stroke-width="1.15" stroke-linejoin="miter"/>
<path d="M84.29 565.11L86.79 569.51L81.79 569.51Z" fill="#fff" stroke="#28a040" stroke-width="1.15" stroke-linejoin="miter"/>
<path d="M88.32 563.57L90.82 567.97L85.82 567.97Z" fill="#fff" stroke="#28a040" stroke-width="1.15" stroke-linejoin="miter"/>
<path d="M92.34 562L94.84 566.4L89.84 566.4Z" fill="#fff" stroke="#28a040" stroke-width="1.15" stroke-linejoin="miter"/>
<path d="M96.37 560.4L98.87 564.8L93.87 564.8Z" fill="#fff" stroke="#28a040" stroke-width="1.15" stroke-linejoin="miter"/>
<path d="M100.39 558.76L102.89 563.16L97.89 563.16Z" fill="#fff" stroke="#28a040" stroke-width="1.15" stroke-linejoin="miter"/>
<path d="M104.42 557.09L106.92 561.49L101.92 561.49Z" fill="#fff" stroke="#28a040" stroke-width="1.15" stroke-linejoin="miter"/>
<path d="M108.44 555.38L110.94 559.78L105.94 559.78Z" fill="#fff" stroke="#28a040" stroke-width="1.15" stroke-linejoin="miter"/>
<path d="M112.47 553.65L114.97 558.05L109.97 558.05Z" fill="#fff" stroke="#28a040" stroke-width="1.15" stroke-linejoin="miter"/>
<path d="M116.49 551.9L118.99 556.3L113.99 556.3Z" fill="#fff" stroke="#28a040" stroke-width="1.15" stroke-linejoin="miter"/>
<path d="M120.52 550.13L123.02 554.53L118.02 554.53Z" fill="#fff" stroke="#28a040" stroke-width="1.15" stroke-linejoin="miter"/>
<path d="M124.54 548.36L127.04 552.76L122.04 552.76Z" fill="#fff" stroke="#28a040" stroke-width="1.15" stroke-linejoin="miter"/>
<path d="M128.57 546.59L131.07 550.99L126.07 550.99Z" fill="#fff" stroke="#28a040" stroke-width="1.15" stroke-linejoin="miter"/>
<path d="M132.59 544.81L135.09 549.21L130.09 549.21Z" fill="#fff" stroke="#28a040" stroke-width="1.15" stroke-linejoin="miter"/>
<path d="M136.62 543.03L139.12 547.43L134.12 547.43Z" fill="#fff" stroke="#28a040" stroke-width="1.15" stroke-linejoin="miter"/>
<path d="M140.65 541.24L143.15 545.64L138.15 545.64Z" fill="#fff" stroke="#28a040" stroke-width="1.15" stroke-linejoin="miter"/>
<path d="M144.67 539.44L147.17 543.84L142.17 543.84Z" fill="#fff" stroke="#28a040" stroke-width="1.15" stroke-linejoin="miter"/>
<path d="M148.7 537.63L151.2 542.03L146.2 542.03Z" fill="#fff" stroke="#28a040" stroke-width="1.15" stroke-linejoin="miter"/>
<path d="M152.72 535.81L155.22 540.21L150.22 540.21Z" fill="#fff" stroke="#28a040" stroke-width="1.15" stroke-linejoin="miter"/>
<path d="M156.75 533.98L159.25 538.38L154.25 538.38Z" fill="#fff" stroke="#28a040" stroke-width="1.15" stroke-linejoin="miter"/>
<path d="M160.77 532.13L163.27 536.53L158.27 536.53Z" fill="#fff" stroke="#28a040" stroke-width="1.15" stroke-linejoin="miter"/>
<path d="M164.8 530.27L167.3 534.67L162.3 534.67Z" fill="#fff" stroke="#28a040" stroke-width="1.15" stroke-linejoin="miter"/>
<path d="M168.82 528.4L171.32 532.8L166.32 532.8Z" fill="#fff" stroke="#28a040" stroke-width="1.15" stroke-linejoin="miter"/>
<path d="M172.85 526.51L175.35 530.91L170.35 530.91Z" fill="#fff" stroke="#28a040" stroke-width="1.15" stroke-linejoin="miter"/>
<path d="M176.87 524.61L179.37 529.01L174.37 529.01Z" fill="#fff" stroke="#28a040" stroke-width="1.15" stroke-linejoin="miter"/>
<path d="M180.9 522.71L183.4 527.11L178.4 527.11Z" fill="#fff" stroke="#28a040" stroke-width="1.15" stroke-linejoin="miter"/>
<path d="M184.92 520.82L187.42 525.22L182.42 525.22Z" fill="#fff" stroke="#28a040" stroke-width="1.15" stroke-linejoin="miter"/>
<path d="M188.95 518.94L191.45 523.34L186.45 523.34Z" fill="#fff" stroke="#28a040" stroke-width="1.15" stroke-linejoin="miter"/>
<path d="M192.97 517.1L195.47 521.5L190.47 521.5Z" fill="#fff" stroke="#28a040" stroke-width="1.15" stroke-linejoin="miter"/>
<path d="M197 515.31L199.5 519.71L194.5 519.71Z" fill="#fff" stroke="#28a040" stroke-width="1.15" stroke-linejoin="miter"/>
<path d="M201.02 513.57L203.52 517.97L198.52 517.97Z" fill="#fff" stroke="#28a040" stroke-width="1.15" stroke-linejoin="miter"/>
<path d="M205.05 511.89L207.55 516.29L202.55 516.29Z" fill="#fff" stroke="#28a040" stroke-width="1.15" stroke-linejoin="miter"/>
<path d="M209.08 510.28L211.58 514.68L206.58 514.68Z" fill="#fff" stroke="#28a040" stroke-width="1.15" stroke-linejoin="miter"/>
<path d="M213.1 508.75L215.6 513.15L210.6 513.15Z" fill="#fff" stroke="#28a040" stroke-width="1.15" stroke-linejoin="miter"/>
<path d="M217.13 507.3L219.63 511.7L214.63 511.7Z" fill="#fff" stroke="#28a040" stroke-width="1.15" stroke-linejoin="miter"/>
<path d="M221.15 505.92L223.65 510.32L218.65 510.32Z" fill="#fff" stroke="#28a040" stroke-width="1.15" stroke-linejoin="miter"/>
<path d="M225.18 504.64L227.68 509.04L222.68 509.04Z" fill="#fff" stroke="#28a040" stroke-width="1.15" stroke-linejoin="miter"/>
<path d="M229.2 503.42L231.7 507.82L226.7 507.82Z" fill="#fff" stroke="#28a040" stroke-width="1.15" stroke-linejoin="miter"/>
<path d="M233.23 502.27L235.73 506.67L230.73 506.67Z" fill="#fff" stroke="#28a040" stroke-width="1.15" stroke-linejoin="miter"/>
<path d="M237.25 501.17L239.75 505.57L234.75 505.57Z" fill="#fff" stroke="#28a040" stroke-width="1.15" stroke-linejoin="miter"/>
<path d="M241.28 500.11L243.78 504.51L238.78 504.51Z" fill="#fff" stroke="#28a040" stroke-width="1.15" stroke-linejoin="miter"/>
<path d="M245.3 499.07L247.8 503.47L242.8 503.47Z" fill="#fff" stroke="#28a040" stroke-width="1.15" stroke-linejoin="miter"/>
<path d="M249.33 498.05L251.83 502.45L246.83 502.45Z" fill="#fff" stroke="#28a040" stroke-width="1.15" stroke-linejoin="miter"/>
<polyline points="52.09,580.78 56.11,579.27 60.14,577.77 64.16,576.27 68.19,574.77 72.22,573.3 76.24,571.83 80.27,570.38 84.29,568.94 88.32,567.49 92.34,566.02 96.37,564.52 100.39,562.98 104.42,561.38 108.44,559.74 112.47,558.05 116.49,556.34 120.52,554.6 124.54,552.84 128.57,551.08 132.59,549.31 136.62,547.52 140.65,545.73 144.67,543.92 148.7,542.11 152.72,540.28 156.75,538.44 160.77,536.6 164.8,534.74 168.82,532.87 172.85,530.99 176.87,529.11 180.9,527.23 184.92,525.37 188.95,523.54 192.97,521.77 197,520.06 201.02,518.42 205.05,516.86 209.08,515.39 213.1,514 217.13,512.7 221.15,511.48 225.18,510.35 229.2,509.29 233.23,508.3 237.25,507.35 241.28,506.44 245.3,505.56 249.33,504.69" fill="none" stroke="#ff3048" stroke-width="1"/>
<rect x="50.09" y="578.78" width="4" height="4" fill="#fff" stroke="#ff3048" stroke-width="1.15"/>
<rect x="54.11" y="577.27" width="4" height="4" fill="#fff" stroke="#ff3048" stroke-width="1.15"/>
<rect x="58.14" y="575.77" width="4" height="4" fill="#fff" stroke="#ff3048" stroke-width="1.15"/>
<rect x="62.16" y="574.27" width="4" height="4" fill="#fff" stroke="#ff3048" stroke-width="1.15"/>
<rect x="66.19" y="572.77" width="4" height="4" fill="#fff" stroke="#ff3048" stroke-width="1.15"/>
<rect x="70.22" y="571.3" width="4" height="4" fill="#fff" stroke="#ff3048" stroke-width="1.15"/>
<rect x="74.24" y="569.83" width="4" height="4" fill="#fff" stroke="#ff3048" stroke-width="1.15"/>
<rect x="78.27" y="568.38" width="4" height="4" fill="#fff" stroke="#ff3048" stroke-width="1.15"/>
<rect x="82.29" y="566.94" width="4" height="4" fill="#fff" stroke="#ff3048" stroke-width="1.15"/>
<rect x="86.32" y="565.49" width="4" height="4" fill="#fff" stroke="#ff3048" stroke-width="1.15"/>
<rect x="90.34" y="564.02" width="4" height="4" fill="#fff" stroke="#ff3048" stroke-width="1.15"/>
<rect x="94.37" y="562.52" width="4" height="4" fill="#fff" stroke="#ff3048" stroke-width="1.15"/>
<rect x="98.39" y="560.98" width="4" height="4" fill="#fff" stroke="#ff3048" stroke-width="1.15"/>
<rect x="102.42" y="559.38" width="4" height="4" fill="#fff" stroke="#ff3048" stroke-width="1.15"/>
<rect x="106.44" y="557.74" width="4" height="4" fill="#fff" stroke="#ff3048" stroke-width="1.15"/>
<rect x="110.47" y="556.05" width="4" height="4" fill="#fff" stroke="#ff3048" stroke-width="1.15"/>
<rect x="114.49" y="554.34" width="4" height="4" fill="#fff" stroke="#ff3048" stroke-width="1.15"/>
<rect x="118.52" y="552.6" width="4" height="4" fill="#fff" stroke="#ff3048" stroke-width="1.15"/>
<rect x="122.54" y="550.84" width="4" height="4" fill="#fff" stroke="#ff3048" stroke-width="1.15"/>
<rect x="126.57" y="549.08" width="4" height="4" fill="#fff" stroke="#ff3048" stroke-width="1.15"/>
<rect x="130.59" y="547.31" width="4" height="4" fill="#fff" stroke="#ff3048" stroke-width="1.15"/>
<rect x="134.62" y="545.52" width="4" height="4" fill="#fff" stroke="#ff3048" stroke-width="1.15"/>
<rect x="138.65" y="543.73" width="4" height="4" fill="#fff" stroke="#ff3048" stroke-width="1.15"/>
<rect x="142.67" y="541.92" width="4" height="4" fill="#fff" stroke="#ff3048" stroke-width="1.15"/>
<rect x="146.7" y="540.11" width="4" height="4" fill="#fff" stroke="#ff3048" stroke-width="1.15"/>
<rect x="150.72" y="538.28" width="4" height="4" fill="#fff" stroke="#ff3048" stroke-width="1.15"/>
<rect x="154.75" y="536.44" width="4" height="4" fill="#fff" stroke="#ff3048" stroke-width="1.15"/>
<rect x="158.77" y="534.6" width="4" height="4" fill="#fff" stroke="#ff3048" stroke-width="1.15"/>
<rect x="162.8" y="532.74" width="4" height="4" fill="#fff" stroke="#ff3048" stroke-width="1.15"/>
<rect x="166.82" y="530.87" width="4" height="4" fill="#fff" stroke="#ff3048" stroke-width="1.15"/>
<rect x="170.85" y="528.99" width="4" height="4" fill="#fff" stroke="#ff3048" stroke-width="1.15"/>
<rect x="174.87" y="527.11" width="4" height="4" fill="#fff" stroke="#ff3048" stroke-width="1.15"/>
<rect x="178.9" y="525.23" width="4" height="4" fill="#fff" stroke="#ff3048" stroke-width="1.15"/>
<rect x="182.92" y="523.37" width="4" height="4" fill="#fff" stroke="#ff3048" stroke-width="1.15"/>
<rect x="186.95" y="521.54" width="4" height="4" fill="#fff" stroke="#ff3048" stroke-width="1.15"/>
<rect x="190.97" y="519.77" width="4" height="4" fill="#fff" stroke="#ff3048" stroke-width="1.15"/>
<rect x="195" y="518.06" width="4" height="4" fill="#fff" stroke="#ff3048" stroke-width="1.15"/>
<rect x="199.02" y="516.42" width="4" height="4" fill="#fff" stroke="#ff3048" stroke-width="1.15"/>
<rect x="203.05" y="514.86" width="4" height="4" fill="#fff" stroke="#ff3048" stroke-width="1.15"/>
<rect x="207.08" y="513.39" width="4" height="4" fill="#fff" stroke="#ff3048" stroke-width="1.15"/>
<rect x="211.1" y="512" width="4" height="4" fill="#fff" stroke="#ff3048" stroke-width="1.15"/>
<rect x="215.13" y="510.7" width="4" height="4" fill="#fff" stroke="#ff3048" stroke-width="1.15"/>
<rect x="219.15" y="509.48" width="4" height="4" fill="#fff" stroke="#ff3048" stroke-width="1.15"/>
<rect x="223.18" y="508.35" width="4" height="4" fill="#fff" stroke="#ff3048" stroke-width="1.15"/>
<rect x="227.2" y="507.29" width="4" height="4" fill="#fff" stroke="#ff3048" stroke-width="1.15"/>
<rect x="231.23" y="506.3" width="4" height="4" fill="#fff" stroke="#ff3048" stroke-width="1.15"/>
<rect x="235.25" y="505.35" width="4" height="4" fill="#fff" stroke="#ff3048" stroke-width="1.15"/>
<rect x="239.28" y="504.44" width="4" height="4" fill="#fff" stroke="#ff3048" stroke-width="1.15"/>
<rect x="243.3" y="503.56" width="4" height="4" fill="#fff" stroke="#ff3048" stroke-width="1.15"/>
<rect x="247.33" y="502.69" width="4" height="4" fill="#fff" stroke="#ff3048" stroke-width="1.15"/>
<polyline points="52.09,580.24 56.11,578.64 60.14,577.03 64.16,575.42 68.19,573.79 72.22,572.14 76.24,570.48 80.27,568.79 84.29,567.07 88.32,565.34 92.34,563.58 96.37,561.8 100.39,560.01 104.42,558.2 108.44,556.37 112.47,554.51 116.49,552.64 120.52,550.73 124.54,548.79 128.57,546.81 132.59,544.81 136.62,542.8 140.65,540.77 144.67,538.73 148.7,536.71 152.72,534.69 156.75,532.68 160.77,530.69 164.8,528.72 168.82,526.76 172.85,524.82 176.87,522.9 180.9,521 184.92,519.12 188.95,517.27 192.97,515.43 197,513.61 201.02,511.81 205.05,510.04 209.08,508.3 213.1,506.62 217.13,504.98 221.15,503.42 225.18,501.92 229.2,500.49 233.23,499.11 237.25,497.78 241.28,496.47 245.3,495.19 249.33,493.91" fill="none" stroke="#4a40f8" stroke-width="1"/>
<circle cx="52.09" cy="580.24" r="2.1" fill="#fff" stroke="#4a40f8" stroke-width="1.15"/>
<circle cx="56.11" cy="578.64" r="2.1" fill="#fff" stroke="#4a40f8" stroke-width="1.15"/>
<circle cx="60.14" cy="577.03" r="2.1" fill="#fff" stroke="#4a40f8" stroke-width="1.15"/>
<circle cx="64.16" cy="575.42" r="2.1" fill="#fff" stroke="#4a40f8" stroke-width="1.15"/>
<circle cx="68.19" cy="573.79" r="2.1" fill="#fff" stroke="#4a40f8" stroke-width="1.15"/>
<circle cx="72.22" cy="572.14" r="2.1" fill="#fff" stroke="#4a40f8" stroke-width="1.15"/>
<circle cx="76.24" cy="570.48" r="2.1" fill="#fff" stroke="#4a40f8" stroke-width="1.15"/>
<circle cx="80.27" cy="568.79" r="2.1" fill="#fff" stroke="#4a40f8" stroke-width="1.15"/>
<circle cx="84.29" cy="567.07" r="2.1" fill="#fff" stroke="#4a40f8" stroke-width="1.15"/>
<circle cx="88.32" cy="565.34" r="2.1" fill="#fff" stroke="#4a40f8" stroke-width="1.15"/>
<circle cx="92.34" cy="563.58" r="2.1" fill="#fff" stroke="#4a40f8" stroke-width="1.15"/>
<circle cx="96.37" cy="561.8" r="2.1" fill="#fff" stroke="#4a40f8" stroke-width="1.15"/>
<circle cx="100.39" cy="560.01" r="2.1" fill="#fff" stroke="#4a40f8" stroke-width="1.15"/>
<circle cx="104.42" cy="558.2" r="2.1" fill="#fff" stroke="#4a40f8" stroke-width="1.15"/>
<circle cx="108.44" cy="556.37" r="2.1" fill="#fff" stroke="#4a40f8" stroke-width="1.15"/>
<circle cx="112.47" cy="554.51" r="2.1" fill="#fff" stroke="#4a40f8" stroke-width="1.15"/>
<circle cx="116.49" cy="552.64" r="2.1" fill="#fff" stroke="#4a40f8" stroke-width="1.15"/>
<circle cx="120.52" cy="550.73" r="2.1" fill="#fff" stroke="#4a40f8" stroke-width="1.15"/>
<circle cx="124.54" cy="548.79" r="2.1" fill="#fff" stroke="#4a40f8" stroke-width="1.15"/>
<circle cx="128.57" cy="546.81" r="2.1" fill="#fff" stroke="#4a40f8" stroke-width="1.15"/>
<circle cx="132.59" cy="544.81" r="2.1" fill="#fff" stroke="#4a40f8" stroke-width="1.15"/>
<circle cx="136.62" cy="542.8" r="2.1" fill="#fff" stroke="#4a40f8" stroke-width="1.15"/>
<circle cx="140.65" cy="540.77" r="2.1" fill="#fff" stroke="#4a40f8" stroke-width="1.15"/>
<circle cx="144.67" cy="538.73" r="2.1" fill="#fff" stroke="#4a40f8" stroke-width="1.15"/>
<circle cx="148.7" cy="536.71" r="2.1" fill="#fff" stroke="#4a40f8" stroke-width="1.15"/>
<circle cx="152.72" cy="534.69" r="2.1" fill="#fff" stroke="#4a40f8" stroke-width="1.15"/>
<circle cx="156.75" cy="532.68" r="2.1" fill="#fff" stroke="#4a40f8" stroke-width="1.15"/>
<circle cx="160.77" cy="530.69" r="2.1" fill="#fff" stroke="#4a40f8" stroke-width="1.15"/>
<circle cx="164.8" cy="528.72" r="2.1" fill="#fff" stroke="#4a40f8" stroke-width="1.15"/>
<circle cx="168.82" cy="526.76" r="2.1" fill="#fff" stroke="#4a40f8" stroke-width="1.15"/>
<circle cx="172.85" cy="524.82" r="2.1" fill="#fff" stroke="#4a40f8" stroke-width="1.15"/>
<circle cx="176.87" cy="522.9" r="2.1" fill="#fff" stroke="#4a40f8" stroke-width="1.15"/>
<circle cx="180.9" cy="521" r="2.1" fill="#fff" stroke="#4a40f8" stroke-width="1.15"/>
<circle cx="184.92" cy="519.12" r="2.1" fill="#fff" stroke="#4a40f8" stroke-width="1.15"/>
<circle cx="188.95" cy="517.27" r="2.1" fill="#fff" stroke="#4a40f8" stroke-width="1.15"/>
<circle cx="192.97" cy="515.43" r="2.1" fill="#fff" stroke="#4a40f8" stroke-width="1.15"/>
<circle cx="197" cy="513.61" r="2.1" fill="#fff" stroke="#4a40f8" stroke-width="1.15"/>
<circle cx="201.02" cy="511.81" r="2.1" fill="#fff" stroke="#4a40f8" stroke-width="1.15"/>
<circle cx="205.05" cy="510.04" r="2.1" fill="#fff" stroke="#4a40f8" stroke-width="1.15"/>
<circle cx="209.08" cy="508.3" r="2.1" fill="#fff" stroke="#4a40f8" stroke-width="1.15"/>
<circle cx="213.1" cy="506.62" r="2.1" fill="#fff" stroke="#4a40f8" stroke-width="1.15"/>
<circle cx="217.13" cy="504.98" r="2.1" fill="#fff" stroke="#4a40f8" stroke-width="1.15"/>
<circle cx="221.15" cy="503.42" r="2.1" fill="#fff" stroke="#4a40f8" stroke-width="1.15"/>
<circle cx="225.18" cy="501.92" r="2.1" fill="#fff" stroke="#4a40f8" stroke-width="1.15"/>
<circle cx="229.2" cy="500.49" r="2.1" fill="#fff" stroke="#4a40f8" stroke-width="1.15"/>
<circle cx="233.23" cy="499.11" r="2.1" fill="#fff" stroke="#4a40f8" stroke-width="1.15"/>
<circle cx="237.25" cy="497.78" r="2.1" fill="#fff" stroke="#4a40f8" stroke-width="1.15"/>
<circle cx="241.28" cy="496.47" r="2.1" fill="#fff" stroke="#4a40f8" stroke-width="1.15"/>
<circle cx="245.3" cy="495.19" r="2.1" fill="#fff" stroke="#4a40f8" stroke-width="1.15"/>
<circle cx="249.33" cy="493.91" r="2.1" fill="#fff" stroke="#4a40f8" stroke-width="1.15"/>
<rect x="143" y="553.8" width="102.8" height="49.8" fill="#fff" stroke="#2a2a2a" stroke-width="1"/>
<line x1="155.1" y1="566.4" x2="186.9" y2="566.4" stroke="#4a40f8" stroke-width="1"/>
<circle cx="171" cy="566.4" r="2.1" fill="#fff" stroke="#4a40f8" stroke-width="1.15"/>
<text x="199.7" y="570.4" font-family='"Liberation Serif", "Times New Roman", serif' font-size="11" fill="#111">Type-A</text>
<line x1="155.1" y1="578.9" x2="186.9" y2="578.9" stroke="#ff3048" stroke-width="1"/>
<rect x="169" y="576.9" width="4" height="4" fill="#fff" stroke="#ff3048" stroke-width="1.15"/>
<text x="199.7" y="582.9" font-family='"Liberation Serif", "Times New Roman", serif' font-size="11" fill="#111">Type-B</text>
<line x1="155.1" y1="591.4" x2="186.9" y2="591.4" stroke="#28a040" stroke-width="1"/>
<path d="M171 588.8L173.5 593.2L168.5 593.2Z" fill="#fff" stroke="#28a040" stroke-width="1.15" stroke-linejoin="miter"/>
<text x="199.7" y="595.4" font-family='"Liberation Serif", "Times New Roman", serif' font-size="11" fill="#111">Type-C</text>
<rect x="43.6" y="481.4" width="214.5" height="134.3" fill="none" stroke="#2a2a2a" stroke-width="1.2"/>
<path d="M55.01 615.7v-3.0M55.01 481.4v3.0M77.83 615.7v-3.0M77.83 481.4v3.0M100.65 615.7v-3.0M100.65 481.4v3.0M123.47 615.7v-3.0M123.47 481.4v3.0M146.29 615.7v-3.0M146.29 481.4v3.0M169.11 615.7v-3.0M169.11 481.4v3.0M191.92 615.7v-3.0M191.92 481.4v3.0M214.74 615.7v-3.0M214.74 481.4v3.0M237.56 615.7v-3.0M237.56 481.4v3.0M66.42 615.7v-6.5M66.42 481.4v6.5M89.24 615.7v-6.5M89.24 481.4v6.5M112.06 615.7v-6.5M112.06 481.4v6.5M134.88 615.7v-6.5M134.88 481.4v6.5M157.7 615.7v-6.5M157.7 481.4v6.5M180.51 615.7v-6.5M180.51 481.4v6.5M203.33 615.7v-6.5M203.33 481.4v6.5M226.15 615.7v-6.5M226.15 481.4v6.5M248.97 615.7v-6.5M248.97 481.4v6.5M43.6 610.33h3.1M258.1 610.33h-3.1M43.6 604.96h3.1M258.1 604.96h-3.1M43.6 599.58h3.1M258.1 599.58h-3.1M43.6 594.21h3.1M258.1 594.21h-3.1M43.6 583.47h3.1M258.1 583.47h-3.1M43.6 578.1h3.1M258.1 578.1h-3.1M43.6 572.72h3.1M258.1 572.72h-3.1M43.6 567.35h3.1M258.1 567.35h-3.1M43.6 556.61h3.1M258.1 556.61h-3.1M43.6 551.24h3.1M258.1 551.24h-3.1M43.6 545.86h3.1M258.1 545.86h-3.1M43.6 540.49h3.1M258.1 540.49h-3.1M43.6 529.75h3.1M258.1 529.75h-3.1M43.6 524.38h3.1M258.1 524.38h-3.1M43.6 519h3.1M258.1 519h-3.1M43.6 513.63h3.1M258.1 513.63h-3.1M43.6 502.89h3.1M258.1 502.89h-3.1M43.6 497.52h3.1M258.1 497.52h-3.1M43.6 492.14h3.1M258.1 492.14h-3.1M43.6 486.77h3.1M258.1 486.77h-3.1M43.6 615.7h6.5M258.1 615.7h-6.5M43.6 588.84h6.5M258.1 588.84h-6.5M43.6 561.98h6.5M258.1 561.98h-6.5M43.6 535.12h6.5M258.1 535.12h-6.5M43.6 508.26h6.5M258.1 508.26h-6.5M43.6 481.4h6.5M258.1 481.4h-6.5" stroke="#2a2a2a" stroke-width="1" fill="none"/>
<text transform="translate(43.6,631.4) scale(1,1.05)" text-anchor="middle" font-family='"Liberation Serif", "Times New Roman", serif' font-size="13.5" fill="#111">2.5</text>
<text transform="translate(66.42,631.4) scale(1,1.05)" text-anchor="middle" font-family='"Liberation Serif", "Times New Roman", serif' font-size="13.5" fill="#111">3</text>
<text transform="translate(89.24,631.4) scale(1,1.05)" text-anchor="middle" font-family='"Liberation Serif", "Times New Roman", serif' font-size="13.5" fill="#111">3.5</text>
<text transform="translate(112.06,631.4) scale(1,1.05)" text-anchor="middle" font-family='"Liberation Serif", "Times New Roman", serif' font-size="13.5" fill="#111">4</text>
<text transform="translate(134.88,631.4) scale(1,1.05)" text-anchor="middle" font-family='"Liberation Serif", "Times New Roman", serif' font-size="13.5" fill="#111">4.5</text>
<text transform="translate(157.7,631.4) scale(1,1.05)" text-anchor="middle" font-family='"Liberation Serif", "Times New Roman", serif' font-size="13.5" fill="#111">5</text>
<text transform="translate(180.51,631.4) scale(1,1.05)" text-anchor="middle" font-family='"Liberation Serif", "Times New Roman", serif' font-size="13.5" fill="#111">5.5</text>
<text transform="translate(203.33,631.4) scale(1,1.05)" text-anchor="middle" font-family='"Liberation Serif", "Times New Roman", serif' font-size="13.5" fill="#111">6</text>
<text transform="translate(226.15,631.4) scale(1,1.05)" text-anchor="middle" font-family='"Liberation Serif", "Times New Roman", serif' font-size="13.5" fill="#111">6.5</text>
<text transform="translate(248.97,631.4) scale(1,1.05)" text-anchor="middle" font-family='"Liberation Serif", "Times New Roman", serif' font-size="13.5" fill="#111">7</text>
<text transform="translate(39.6,620.5) scale(1,1.02)" text-anchor="end" font-family='"Liberation Serif", "Times New Roman", serif' font-size="13.2" fill="#111">0</text>
<text transform="translate(39.6,593.64) scale(1,1.02)" text-anchor="end" font-family='"Liberation Serif", "Times New Roman", serif' font-size="13.2" fill="#111">10</text>
<text transform="translate(39.6,566.78) scale(1,1.02)" text-anchor="end" font-family='"Liberation Serif", "Times New Roman", serif' font-size="13.2" fill="#111">20</text>
<text transform="translate(39.6,539.92) scale(1,1.02)" text-anchor="end" font-family='"Liberation Serif", "Times New Roman", serif' font-size="13.2" fill="#111">30</text>
<text transform="translate(39.6,513.06) scale(1,1.02)" text-anchor="end" font-family='"Liberation Serif", "Times New Roman", serif' font-size="13.2" fill="#111">40</text>
<text transform="translate(39.6,486.2) scale(1,1.02)" text-anchor="end" font-family='"Liberation Serif", "Times New Roman", serif' font-size="13.2" fill="#111">50</text>
<text x="146.85" y="473.2" text-anchor="middle" font-family='"Liberation Serif", "Times New Roman", serif' font-weight="bold" font-size="15.6" fill="#000">Wave excitation moment (Pitch)</text>
<text x="152.35" y="651.9" text-anchor="middle" font-family='"Liberation Serif", "Times New Roman", serif' font-style="italic" font-size="15" fill="#111">ω (rad/s)</text>
<text transform="translate(14.7,548.65) rotate(-90)" x="0" y="0" text-anchor="middle" font-family='"Liberation Serif", "Times New Roman", serif' font-style="italic" font-size="15.3" fill="#111">Amplitude (N.m)</text>
<line x1="343.01" y1="481.4" x2="343.01" y2="615.7" stroke="#e9e9e9" stroke-width="1"/>
<line x1="365.83" y1="481.4" x2="365.83" y2="615.7" stroke="#e9e9e9" stroke-width="1"/>
<line x1="388.65" y1="481.4" x2="388.65" y2="615.7" stroke="#e9e9e9" stroke-width="1"/>
<line x1="411.47" y1="481.4" x2="411.47" y2="615.7" stroke="#e9e9e9" stroke-width="1"/>
<line x1="434.29" y1="481.4" x2="434.29" y2="615.7" stroke="#e9e9e9" stroke-width="1"/>
<line x1="457.11" y1="481.4" x2="457.11" y2="615.7" stroke="#e9e9e9" stroke-width="1"/>
<line x1="479.92" y1="481.4" x2="479.92" y2="615.7" stroke="#e9e9e9" stroke-width="1"/>
<line x1="502.74" y1="481.4" x2="502.74" y2="615.7" stroke="#e9e9e9" stroke-width="1"/>
<line x1="525.56" y1="481.4" x2="525.56" y2="615.7" stroke="#e9e9e9" stroke-width="1"/>
<line x1="331.6" y1="608.24" x2="546.1" y2="608.24" stroke="#e9e9e9" stroke-width="1"/>
<line x1="331.6" y1="600.78" x2="546.1" y2="600.78" stroke="#e9e9e9" stroke-width="1"/>
<line x1="331.6" y1="585.86" x2="546.1" y2="585.86" stroke="#e9e9e9" stroke-width="1"/>
<line x1="331.6" y1="578.39" x2="546.1" y2="578.39" stroke="#e9e9e9" stroke-width="1"/>
<line x1="331.6" y1="563.47" x2="546.1" y2="563.47" stroke="#e9e9e9" stroke-width="1"/>
<line x1="331.6" y1="556.01" x2="546.1" y2="556.01" stroke="#e9e9e9" stroke-width="1"/>
<line x1="331.6" y1="541.09" x2="546.1" y2="541.09" stroke="#e9e9e9" stroke-width="1"/>
<line x1="331.6" y1="533.63" x2="546.1" y2="533.63" stroke="#e9e9e9" stroke-width="1"/>
<line x1="331.6" y1="518.71" x2="546.1" y2="518.71" stroke="#e9e9e9" stroke-width="1"/>
<line x1="331.6" y1="511.24" x2="546.1" y2="511.24" stroke="#e9e9e9" stroke-width="1"/>
<line x1="331.6" y1="496.32" x2="546.1" y2="496.32" stroke="#e9e9e9" stroke-width="1"/>
<line x1="331.6" y1="488.86" x2="546.1" y2="488.86" stroke="#e9e9e9" stroke-width="1"/>
<line x1="354.42" y1="481.4" x2="354.42" y2="615.7" stroke="#b6b6b6" stroke-width="1"/>
<line x1="377.24" y1="481.4" x2="377.24" y2="615.7" stroke="#b6b6b6" stroke-width="1"/>
<line x1="400.06" y1="481.4" x2="400.06" y2="615.7" stroke="#b6b6b6" stroke-width="1"/>
<line x1="422.88" y1="481.4" x2="422.88" y2="615.7" stroke="#b6b6b6" stroke-width="1"/>
<line x1="445.7" y1="481.4" x2="445.7" y2="615.7" stroke="#b6b6b6" stroke-width="1"/>
<line x1="468.51" y1="481.4" x2="468.51" y2="615.7" stroke="#b6b6b6" stroke-width="1"/>
<line x1="491.33" y1="481.4" x2="491.33" y2="615.7" stroke="#b6b6b6" stroke-width="1"/>
<line x1="514.15" y1="481.4" x2="514.15" y2="615.7" stroke="#b6b6b6" stroke-width="1"/>
<line x1="536.97" y1="481.4" x2="536.97" y2="615.7" stroke="#b6b6b6" stroke-width="1"/>
<line x1="331.6" y1="593.32" x2="546.1" y2="593.32" stroke="#b6b6b6" stroke-width="1"/>
<line x1="331.6" y1="570.93" x2="546.1" y2="570.93" stroke="#b6b6b6" stroke-width="1"/>
<line x1="331.6" y1="548.55" x2="546.1" y2="548.55" stroke="#b6b6b6" stroke-width="1"/>
<line x1="331.6" y1="526.17" x2="546.1" y2="526.17" stroke="#b6b6b6" stroke-width="1"/>
<line x1="331.6" y1="503.78" x2="546.1" y2="503.78" stroke="#b6b6b6" stroke-width="1"/>
<polyline points="340.09,548.55 344.11,548.55 348.14,548.55 352.16,548.55 356.19,548.55 360.22,548.55 364.24,548.55 368.27,548.55 372.29,548.55 376.32,548.55 380.34,548.55 384.37,548.55 388.39,548.55 392.42,548.55 396.44,548.55 400.47,548.55 404.49,548.55 408.52,548.55 412.54,548.55 416.57,548.55 420.59,548.55 424.62,548.55 428.65,548.55 432.67,548.55 436.7,548.55 440.72,548.55 444.75,548.55 448.77,548.55 452.8,548.55 456.82,548.55 460.85,548.55 464.87,548.55 468.9,548.54 472.92,548.46 476.95,548.38 480.97,548.31 485,548.23 489.02,548.15 493.05,548.07 497.08,547.99 501.1,547.91 505.13,547.83 509.15,547.75 513.18,547.67 517.2,547.59 521.23,547.52 525.25,547.44 529.28,547.36 533.3,547.28 537.33,547.2" fill="none" stroke="#28a040" stroke-width="1"/>
<path d="M340.09 545.95L342.59 550.35L337.59 550.35Z" fill="#fff" stroke="#28a040" stroke-width="1.15" stroke-linejoin="miter"/>
<path d="M344.11 545.95L346.61 550.35L341.61 550.35Z" fill="#fff" stroke="#28a040" stroke-width="1.15" stroke-linejoin="miter"/>
<path d="M348.14 545.95L350.64 550.35L345.64 550.35Z" fill="#fff" stroke="#28a040" stroke-width="1.15" stroke-linejoin="miter"/>
<path d="M352.16 545.95L354.66 550.35L349.66 550.35Z" fill="#fff" stroke="#28a040" stroke-width="1.15" stroke-linejoin="miter"/>
<path d="M356.19 545.95L358.69 550.35L353.69 550.35Z" fill="#fff" stroke="#28a040" stroke-width="1.15" stroke-linejoin="miter"/>
<path d="M360.22 545.95L362.72 550.35L357.72 550.35Z" fill="#fff" stroke="#28a040" stroke-width="1.15" stroke-linejoin="miter"/>
<path d="M364.24 545.95L366.74 550.35L361.74 550.35Z" fill="#fff" stroke="#28a040" stroke-width="1.15" stroke-linejoin="miter"/>
<path d="M368.27 545.95L370.77 550.35L365.77 550.35Z" fill="#fff" stroke="#28a040" stroke-width="1.15" stroke-linejoin="miter"/>
<path d="M372.29 545.95L374.79 550.35L369.79 550.35Z" fill="#fff" stroke="#28a040" stroke-width="1.15" stroke-linejoin="miter"/>
<path d="M376.32 545.95L378.82 550.35L373.82 550.35Z" fill="#fff" stroke="#28a040" stroke-width="1.15" stroke-linejoin="miter"/>
<path d="M380.34 545.95L382.84 550.35L377.84 550.35Z" fill="#fff" stroke="#28a040" stroke-width="1.15" stroke-linejoin="miter"/>
<path d="M384.37 545.95L386.87 550.35L381.87 550.35Z" fill="#fff" stroke="#28a040" stroke-width="1.15" stroke-linejoin="miter"/>
<path d="M388.39 545.95L390.89 550.35L385.89 550.35Z" fill="#fff" stroke="#28a040" stroke-width="1.15" stroke-linejoin="miter"/>
<path d="M392.42 545.95L394.92 550.35L389.92 550.35Z" fill="#fff" stroke="#28a040" stroke-width="1.15" stroke-linejoin="miter"/>
<path d="M396.44 545.95L398.94 550.35L393.94 550.35Z" fill="#fff" stroke="#28a040" stroke-width="1.15" stroke-linejoin="miter"/>
<path d="M400.47 545.95L402.97 550.35L397.97 550.35Z" fill="#fff" stroke="#28a040" stroke-width="1.15" stroke-linejoin="miter"/>
<path d="M404.49 545.95L406.99 550.35L401.99 550.35Z" fill="#fff" stroke="#28a040" stroke-width="1.15" stroke-linejoin="miter"/>
<path d="M408.52 545.95L411.02 550.35L406.02 550.35Z" fill="#fff" stroke="#28a040" stroke-width="1.15" stroke-linejoin="miter"/>
<path d="M412.54 545.95L415.04 550.35L410.04 550.35Z" fill="#fff" stroke="#28a040" stroke-width="1.15" stroke-linejoin="miter"/>
<path d="M416.57 545.95L419.07 550.35L414.07 550.35Z" fill="#fff" stroke="#28a040" stroke-width="1.15" stroke-linejoin="miter"/>
<path d="M420.59 545.95L423.09 550.35L418.09 550.35Z" fill="#fff" stroke="#28a040" stroke-width="1.15" stroke-linejoin="miter"/>
<path d="M424.62 545.95L427.12 550.35L422.12 550.35Z" fill="#fff" stroke="#28a040" stroke-width="1.15" stroke-linejoin="miter"/>
<path d="M428.65 545.95L431.15 550.35L426.15 550.35Z" fill="#fff" stroke="#28a040" stroke-width="1.15" stroke-linejoin="miter"/>
<path d="M432.67 545.95L435.17 550.35L430.17 550.35Z" fill="#fff" stroke="#28a040" stroke-width="1.15" stroke-linejoin="miter"/>
<path d="M436.7 545.95L439.2 550.35L434.2 550.35Z" fill="#fff" stroke="#28a040" stroke-width="1.15" stroke-linejoin="miter"/>
<path d="M440.72 545.95L443.22 550.35L438.22 550.35Z" fill="#fff" stroke="#28a040" stroke-width="1.15" stroke-linejoin="miter"/>
<path d="M444.75 545.95L447.25 550.35L442.25 550.35Z" fill="#fff" stroke="#28a040" stroke-width="1.15" stroke-linejoin="miter"/>
<path d="M448.77 545.95L451.27 550.35L446.27 550.35Z" fill="#fff" stroke="#28a040" stroke-width="1.15" stroke-linejoin="miter"/>
<path d="M452.8 545.95L455.3 550.35L450.3 550.35Z" fill="#fff" stroke="#28a040" stroke-width="1.15" stroke-linejoin="miter"/>
<path d="M456.82 545.95L459.32 550.35L454.32 550.35Z" fill="#fff" stroke="#28a040" stroke-width="1.15" stroke-linejoin="miter"/>
<path d="M460.85 545.95L463.35 550.35L458.35 550.35Z" fill="#fff" stroke="#28a040" stroke-width="1.15" stroke-linejoin="miter"/>
<path d="M464.87 545.95L467.37 550.35L462.37 550.35Z" fill="#fff" stroke="#28a040" stroke-width="1.15" stroke-linejoin="miter"/>
<path d="M468.9 545.94L471.4 550.34L466.4 550.34Z" fill="#fff" stroke="#28a040" stroke-width="1.15" stroke-linejoin="miter"/>
<path d="M472.92 545.86L475.42 550.26L470.42 550.26Z" fill="#fff" stroke="#28a040" stroke-width="1.15" stroke-linejoin="miter"/>
<path d="M476.95 545.78L479.45 550.18L474.45 550.18Z" fill="#fff" stroke="#28a040" stroke-width="1.15" stroke-linejoin="miter"/>
<path d="M480.97 545.71L483.47 550.11L478.47 550.11Z" fill="#fff" stroke="#28a040" stroke-width="1.15" stroke-linejoin="miter"/>
<path d="M485 545.63L487.5 550.03L482.5 550.03Z" fill="#fff" stroke="#28a040" stroke-width="1.15" stroke-linejoin="miter"/>
<path d="M489.02 545.55L491.52 549.95L486.52 549.95Z" fill="#fff" stroke="#28a040" stroke-width="1.15" stroke-linejoin="miter"/>
<path d="M493.05 545.47L495.55 549.87L490.55 549.87Z" fill="#fff" stroke="#28a040" stroke-width="1.15" stroke-linejoin="miter"/>
<path d="M497.08 545.39L499.58 549.79L494.58 549.79Z" fill="#fff" stroke="#28a040" stroke-width="1.15" stroke-linejoin="miter"/>
<path d="M501.1 545.31L503.6 549.71L498.6 549.71Z" fill="#fff" stroke="#28a040" stroke-width="1.15" stroke-linejoin="miter"/>
<path d="M505.13 545.23L507.63 549.63L502.63 549.63Z" fill="#fff" stroke="#28a040" stroke-width="1.15" stroke-linejoin="miter"/>
<path d="M509.15 545.15L511.65 549.55L506.65 549.55Z" fill="#fff" stroke="#28a040" stroke-width="1.15" stroke-linejoin="miter"/>
<path d="M513.18 545.07L515.68 549.47L510.68 549.47Z" fill="#fff" stroke="#28a040" stroke-width="1.15" stroke-linejoin="miter"/>
<path d="M517.2 544.99L519.7 549.39L514.7 549.39Z" fill="#fff" stroke="#28a040" stroke-width="1.15" stroke-linejoin="miter"/>
<path d="M521.23 544.92L523.73 549.32L518.73 549.32Z" fill="#fff" stroke="#28a040" stroke-width="1.15" stroke-linejoin="miter"/>
<path d="M525.25 544.84L527.75 549.24L522.75 549.24Z" fill="#fff" stroke="#28a040" stroke-width="1.15" stroke-linejoin="miter"/>
<path d="M529.28 544.76L531.78 549.16L526.78 549.16Z" fill="#fff" stroke="#28a040" stroke-width="1.15" stroke-linejoin="miter"/>
<path d="M533.3 544.68L535.8 549.08L530.8 549.08Z" fill="#fff" stroke="#28a040" stroke-width="1.15" stroke-linejoin="miter"/>
<path d="M537.33 544.6L539.83 549L534.83 549Z" fill="#fff" stroke="#28a040" stroke-width="1.15" stroke-linejoin="miter"/>
<polyline points="340.09,548.55 344.11,548.55 348.14,548.55 352.16,548.55 356.19,548.55 360.22,548.55 364.24,548.55 368.27,548.55 372.29,548.55 376.32,548.55 380.34,548.55 384.37,548.55 388.39,548.55 392.42,548.55 396.44,548.55 400.47,548.55 404.49,548.55 408.52,548.55 412.54,548.55 416.57,548.55 420.59,548.55 424.62,548.55 428.65,548.55 432.67,548.55 436.7,548.55 440.72,548.55 444.75,548.55 448.77,548.55 452.8,548.55 456.82,548.55 460.85,548.55 464.87,548.55 468.9,548.54 472.92,548.46 476.95,548.38 480.97,548.31 485,548.23 489.02,548.15 493.05,548.07 497.08,547.99 501.1,547.91 505.13,547.83 509.15,547.75 513.18,547.67 517.2,547.59 521.23,547.52 525.25,547.44 529.28,547.36 533.3,547.28 537.33,547.2" fill="none" stroke="#ff3048" stroke-width="1"/>
<rect x="338.09" y="546.55" width="4" height="4" fill="#fff" stroke="#ff3048" stroke-width="1.15"/>
<rect x="342.11" y="546.55" width="4" height="4" fill="#fff" stroke="#ff3048" stroke-width="1.15"/>
<rect x="346.14" y="546.55" width="4" height="4" fill="#fff" stroke="#ff3048" stroke-width="1.15"/>
<rect x="350.16" y="546.55" width="4" height="4" fill="#fff" stroke="#ff3048" stroke-width="1.15"/>
<rect x="354.19" y="546.55" width="4" height="4" fill="#fff" stroke="#ff3048" stroke-width="1.15"/>
<rect x="358.22" y="546.55" width="4" height="4" fill="#fff" stroke="#ff3048" stroke-width="1.15"/>
<rect x="362.24" y="546.55" width="4" height="4" fill="#fff" stroke="#ff3048" stroke-width="1.15"/>
<rect x="366.27" y="546.55" width="4" height="4" fill="#fff" stroke="#ff3048" stroke-width="1.15"/>
<rect x="370.29" y="546.55" width="4" height="4" fill="#fff" stroke="#ff3048" stroke-width="1.15"/>
<rect x="374.32" y="546.55" width="4" height="4" fill="#fff" stroke="#ff3048" stroke-width="1.15"/>
<rect x="378.34" y="546.55" width="4" height="4" fill="#fff" stroke="#ff3048" stroke-width="1.15"/>
<rect x="382.37" y="546.55" width="4" height="4" fill="#fff" stroke="#ff3048" stroke-width="1.15"/>
<rect x="386.39" y="546.55" width="4" height="4" fill="#fff" stroke="#ff3048" stroke-width="1.15"/>
<rect x="390.42" y="546.55" width="4" height="4" fill="#fff" stroke="#ff3048" stroke-width="1.15"/>
<rect x="394.44" y="546.55" width="4" height="4" fill="#fff" stroke="#ff3048" stroke-width="1.15"/>
<rect x="398.47" y="546.55" width="4" height="4" fill="#fff" stroke="#ff3048" stroke-width="1.15"/>
<rect x="402.49" y="546.55" width="4" height="4" fill="#fff" stroke="#ff3048" stroke-width="1.15"/>
<rect x="406.52" y="546.55" width="4" height="4" fill="#fff" stroke="#ff3048" stroke-width="1.15"/>
<rect x="410.54" y="546.55" width="4" height="4" fill="#fff" stroke="#ff3048" stroke-width="1.15"/>
<rect x="414.57" y="546.55" width="4" height="4" fill="#fff" stroke="#ff3048" stroke-width="1.15"/>
<rect x="418.59" y="546.55" width="4" height="4" fill="#fff" stroke="#ff3048" stroke-width="1.15"/>
<rect x="422.62" y="546.55" width="4" height="4" fill="#fff" stroke="#ff3048" stroke-width="1.15"/>
<rect x="426.65" y="546.55" width="4" height="4" fill="#fff" stroke="#ff3048" stroke-width="1.15"/>
<rect x="430.67" y="546.55" width="4" height="4" fill="#fff" stroke="#ff3048" stroke-width="1.15"/>
<rect x="434.7" y="546.55" width="4" height="4" fill="#fff" stroke="#ff3048" stroke-width="1.15"/>
<rect x="438.72" y="546.55" width="4" height="4" fill="#fff" stroke="#ff3048" stroke-width="1.15"/>
<rect x="442.75" y="546.55" width="4" height="4" fill="#fff" stroke="#ff3048" stroke-width="1.15"/>
<rect x="446.77" y="546.55" width="4" height="4" fill="#fff" stroke="#ff3048" stroke-width="1.15"/>
<rect x="450.8" y="546.55" width="4" height="4" fill="#fff" stroke="#ff3048" stroke-width="1.15"/>
<rect x="454.82" y="546.55" width="4" height="4" fill="#fff" stroke="#ff3048" stroke-width="1.15"/>
<rect x="458.85" y="546.55" width="4" height="4" fill="#fff" stroke="#ff3048" stroke-width="1.15"/>
<rect x="462.87" y="546.55" width="4" height="4" fill="#fff" stroke="#ff3048" stroke-width="1.15"/>
<rect x="466.9" y="546.54" width="4" height="4" fill="#fff" stroke="#ff3048" stroke-width="1.15"/>
<rect x="470.92" y="546.46" width="4" height="4" fill="#fff" stroke="#ff3048" stroke-width="1.15"/>
<rect x="474.95" y="546.38" width="4" height="4" fill="#fff" stroke="#ff3048" stroke-width="1.15"/>
<rect x="478.97" y="546.31" width="4" height="4" fill="#fff" stroke="#ff3048" stroke-width="1.15"/>
<rect x="483" y="546.23" width="4" height="4" fill="#fff" stroke="#ff3048" stroke-width="1.15"/>
<rect x="487.02" y="546.15" width="4" height="4" fill="#fff" stroke="#ff3048" stroke-width="1.15"/>
<rect x="491.05" y="546.07" width="4" height="4" fill="#fff" stroke="#ff3048" stroke-width="1.15"/>
<rect x="495.08" y="545.99" width="4" height="4" fill="#fff" stroke="#ff3048" stroke-width="1.15"/>
<rect x="499.1" y="545.91" width="4" height="4" fill="#fff" stroke="#ff3048" stroke-width="1.15"/>
<rect x="503.13" y="545.83" width="4" height="4" fill="#fff" stroke="#ff3048" stroke-width="1.15"/>
<rect x="507.15" y="545.75" width="4" height="4" fill="#fff" stroke="#ff3048" stroke-width="1.15"/>
<rect x="511.18" y="545.67" width="4" height="4" fill="#fff" stroke="#ff3048" stroke-width="1.15"/>
<rect x="515.2" y="545.59" width="4" height="4" fill="#fff" stroke="#ff3048" stroke-width="1.15"/>
<rect x="519.23" y="545.52" width="4" height="4" fill="#fff" stroke="#ff3048" stroke-width="1.15"/>
<rect x="523.25" y="545.44" width="4" height="4" fill="#fff" stroke="#ff3048" stroke-width="1.15"/>
<rect x="527.28" y="545.36" width="4" height="4" fill="#fff" stroke="#ff3048" stroke-width="1.15"/>
<rect x="531.3" y="545.28" width="4" height="4" fill="#fff" stroke="#ff3048" stroke-width="1.15"/>
<rect x="535.33" y="545.2" width="4" height="4" fill="#fff" stroke="#ff3048" stroke-width="1.15"/>
<polyline points="340.09,548.55 344.11,548.55 348.14,548.55 352.16,548.55 356.19,548.55 360.22,548.55 364.24,548.55 368.27,548.55 372.29,548.55 376.32,548.55 380.34,548.55 384.37,548.55 388.39,548.55 392.42,548.55 396.44,548.55 400.47,548.55 404.49,548.55 408.52,548.55 412.54,548.55 416.57,548.55 420.59,548.55 424.62,548.55 428.65,548.55 432.67,548.55 436.7,548.55 440.72,548.55 444.75,548.55 448.77,548.55 452.8,548.55 456.82,548.55 460.85,548.55 464.87,548.55 468.9,548.54 472.92,548.46 476.95,548.38 480.97,548.31 485,548.23 489.02,548.15 493.05,548.07 497.08,547.99 501.1,547.91 505.13,547.83 509.15,547.75 513.18,547.67 517.2,547.59 521.23,547.52 525.25,547.44 529.28,547.36 533.3,547.28 537.33,547.2" fill="none" stroke="#4a40f8" stroke-width="1"/>
<circle cx="340.09" cy="548.55" r="2.1" fill="#fff" stroke="#4a40f8" stroke-width="1.15"/>
<circle cx="344.11" cy="548.55" r="2.1" fill="#fff" stroke="#4a40f8" stroke-width="1.15"/>
<circle cx="348.14" cy="548.55" r="2.1" fill="#fff" stroke="#4a40f8" stroke-width="1.15"/>
<circle cx="352.16" cy="548.55" r="2.1" fill="#fff" stroke="#4a40f8" stroke-width="1.15"/>
<circle cx="356.19" cy="548.55" r="2.1" fill="#fff" stroke="#4a40f8" stroke-width="1.15"/>
<circle cx="360.22" cy="548.55" r="2.1" fill="#fff" stroke="#4a40f8" stroke-width="1.15"/>
<circle cx="364.24" cy="548.55" r="2.1" fill="#fff" stroke="#4a40f8" stroke-width="1.15"/>
<circle cx="368.27" cy="548.55" r="2.1" fill="#fff" stroke="#4a40f8" stroke-width="1.15"/>
<circle cx="372.29" cy="548.55" r="2.1" fill="#fff" stroke="#4a40f8" stroke-width="1.15"/>
<circle cx="376.32" cy="548.55" r="2.1" fill="#fff" stroke="#4a40f8" stroke-width="1.15"/>
<circle cx="380.34" cy="548.55" r="2.1" fill="#fff" stroke="#4a40f8" stroke-width="1.15"/>
<circle cx="384.37" cy="548.55" r="2.1" fill="#fff" stroke="#4a40f8" stroke-width="1.15"/>
<circle cx="388.39" cy="548.55" r="2.1" fill="#fff" stroke="#4a40f8" stroke-width="1.15"/>
<circle cx="392.42" cy="548.55" r="2.1" fill="#fff" stroke="#4a40f8" stroke-width="1.15"/>
<circle cx="396.44" cy="548.55" r="2.1" fill="#fff" stroke="#4a40f8" stroke-width="1.15"/>
<circle cx="400.47" cy="548.55" r="2.1" fill="#fff" stroke="#4a40f8" stroke-width="1.15"/>
<circle cx="404.49" cy="548.55" r="2.1" fill="#fff" stroke="#4a40f8" stroke-width="1.15"/>
<circle cx="408.52" cy="548.55" r="2.1" fill="#fff" stroke="#4a40f8" stroke-width="1.15"/>
<circle cx="412.54" cy="548.55" r="2.1" fill="#fff" stroke="#4a40f8" stroke-width="1.15"/>
<circle cx="416.57" cy="548.55" r="2.1" fill="#fff" stroke="#4a40f8" stroke-width="1.15"/>
<circle cx="420.59" cy="548.55" r="2.1" fill="#fff" stroke="#4a40f8" stroke-width="1.15"/>
<circle cx="424.62" cy="548.55" r="2.1" fill="#fff" stroke="#4a40f8" stroke-width="1.15"/>
<circle cx="428.65" cy="548.55" r="2.1" fill="#fff" stroke="#4a40f8" stroke-width="1.15"/>
<circle cx="432.67" cy="548.55" r="2.1" fill="#fff" stroke="#4a40f8" stroke-width="1.15"/>
<circle cx="436.7" cy="548.55" r="2.1" fill="#fff" stroke="#4a40f8" stroke-width="1.15"/>
<circle cx="440.72" cy="548.55" r="2.1" fill="#fff" stroke="#4a40f8" stroke-width="1.15"/>
<circle cx="444.75" cy="548.55" r="2.1" fill="#fff" stroke="#4a40f8" stroke-width="1.15"/>
<circle cx="448.77" cy="548.55" r="2.1" fill="#fff" stroke="#4a40f8" stroke-width="1.15"/>
<circle cx="452.8" cy="548.55" r="2.1" fill="#fff" stroke="#4a40f8" stroke-width="1.15"/>
<circle cx="456.82" cy="548.55" r="2.1" fill="#fff" stroke="#4a40f8" stroke-width="1.15"/>
<circle cx="460.85" cy="548.55" r="2.1" fill="#fff" stroke="#4a40f8" stroke-width="1.15"/>
<circle cx="464.87" cy="548.55" r="2.1" fill="#fff" stroke="#4a40f8" stroke-width="1.15"/>
<circle cx="468.9" cy="548.54" r="2.1" fill="#fff" stroke="#4a40f8" stroke-width="1.15"/>
<circle cx="472.92" cy="548.46" r="2.1" fill="#fff" stroke="#4a40f8" stroke-width="1.15"/>
<circle cx="476.95" cy="548.38" r="2.1" fill="#fff" stroke="#4a40f8" stroke-width="1.15"/>
<circle cx="480.97" cy="548.31" r="2.1" fill="#fff" stroke="#4a40f8" stroke-width="1.15"/>
<circle cx="485" cy="548.23" r="2.1" fill="#fff" stroke="#4a40f8" stroke-width="1.15"/>
<circle cx="489.02" cy="548.15" r="2.1" fill="#fff" stroke="#4a40f8" stroke-width="1.15"/>
<circle cx="493.05" cy="548.07" r="2.1" fill="#fff" stroke="#4a40f8" stroke-width="1.15"/>
<circle cx="497.08" cy="547.99" r="2.1" fill="#fff" stroke="#4a40f8" stroke-width="1.15"/>
<circle cx="501.1" cy="547.91" r="2.1" fill="#fff" stroke="#4a40f8" stroke-width="1.15"/>
<circle cx="505.13" cy="547.83" r="2.1" fill="#fff" stroke="#4a40f8" stroke-width="1.15"/>
<circle cx="509.15" cy="547.75" r="2.1" fill="#fff" stroke="#4a40f8" stroke-width="1.15"/>
<circle cx="513.18" cy="547.67" r="2.1" fill="#fff" stroke="#4a40f8" stroke-width="1.15"/>
<circle cx="517.2" cy="547.59" r="2.1" fill="#fff" stroke="#4a40f8" stroke-width="1.15"/>
<circle cx="521.23" cy="547.52" r="2.1" fill="#fff" stroke="#4a40f8" stroke-width="1.15"/>
<circle cx="525.25" cy="547.44" r="2.1" fill="#fff" stroke="#4a40f8" stroke-width="1.15"/>
<circle cx="529.28" cy="547.36" r="2.1" fill="#fff" stroke="#4a40f8" stroke-width="1.15"/>
<circle cx="533.3" cy="547.28" r="2.1" fill="#fff" stroke="#4a40f8" stroke-width="1.15"/>
<circle cx="537.33" cy="547.2" r="2.1" fill="#fff" stroke="#4a40f8" stroke-width="1.15"/>
<rect x="431" y="553.8" width="102.8" height="49.8" fill="#fff" stroke="#2a2a2a" stroke-width="1"/>
<line x1="443.1" y1="566.4" x2="474.9" y2="566.4" stroke="#4a40f8" stroke-width="1"/>
<circle cx="459" cy="566.4" r="2.1" fill="#fff" stroke="#4a40f8" stroke-width="1.15"/>
<text x="487.7" y="570.4" font-family='"Liberation Serif", "Times New Roman", serif' font-size="11" fill="#111">Type-A</text>
<line x1="443.1" y1="578.9" x2="474.9" y2="578.9" stroke="#ff3048" stroke-width="1"/>
<rect x="457" y="576.9" width="4" height="4" fill="#fff" stroke="#ff3048" stroke-width="1.15"/>
<text x="487.7" y="582.9" font-family='"Liberation Serif", "Times New Roman", serif' font-size="11" fill="#111">Type-B</text>
<line x1="443.1" y1="591.4" x2="474.9" y2="591.4" stroke="#28a040" stroke-width="1"/>
<path d="M459 588.8L461.5 593.2L456.5 593.2Z" fill="#fff" stroke="#28a040" stroke-width="1.15" stroke-linejoin="miter"/>
<text x="487.7" y="595.4" font-family='"Liberation Serif", "Times New Roman", serif' font-size="11" fill="#111">Type-C</text>
<rect x="331.6" y="481.4" width="214.5" height="134.3" fill="none" stroke="#2a2a2a" stroke-width="1.2"/>
<path d="M343.01 615.7v-3.0M343.01 481.4v3.0M365.83 615.7v-3.0M365.83 481.4v3.0M388.65 615.7v-3.0M388.65 481.4v3.0M411.47 615.7v-3.0M411.47 481.4v3.0M434.29 615.7v-3.0M434.29 481.4v3.0M457.11 615.7v-3.0M457.11 481.4v3.0M479.92 615.7v-3.0M479.92 481.4v3.0M502.74 615.7v-3.0M502.74 481.4v3.0M525.56 615.7v-3.0M525.56 481.4v3.0M354.42 615.7v-6.5M354.42 481.4v6.5M377.24 615.7v-6.5M377.24 481.4v6.5M400.06 615.7v-6.5M400.06 481.4v6.5M422.88 615.7v-6.5M422.88 481.4v6.5M445.7 615.7v-6.5M445.7 481.4v6.5M468.51 615.7v-6.5M468.51 481.4v6.5M491.33 615.7v-6.5M491.33 481.4v6.5M514.15 615.7v-6.5M514.15 481.4v6.5M536.97 615.7v-6.5M536.97 481.4v6.5M331.6 608.24h3.1M546.1 608.24h-3.1M331.6 600.78h3.1M546.1 600.78h-3.1M331.6 585.86h3.1M546.1 585.86h-3.1M331.6 578.39h3.1M546.1 578.39h-3.1M331.6 563.47h3.1M546.1 563.47h-3.1M331.6 556.01h3.1M546.1 556.01h-3.1M331.6 541.09h3.1M546.1 541.09h-3.1M331.6 533.63h3.1M546.1 533.63h-3.1M331.6 518.71h3.1M546.1 518.71h-3.1M331.6 511.24h3.1M546.1 511.24h-3.1M331.6 496.32h3.1M546.1 496.32h-3.1M331.6 488.86h3.1M546.1 488.86h-3.1M331.6 615.7h6.5M546.1 615.7h-6.5M331.6 593.32h6.5M546.1 593.32h-6.5M331.6 570.93h6.5M546.1 570.93h-6.5M331.6 548.55h6.5M546.1 548.55h-6.5M331.6 526.17h6.5M546.1 526.17h-6.5M331.6 503.78h6.5M546.1 503.78h-6.5M331.6 481.4h6.5M546.1 481.4h-6.5" stroke="#2a2a2a" stroke-width="1" fill="none"/>
<text transform="translate(331.6,631.4) scale(1,1.05)" text-anchor="middle" font-family='"Liberation Serif", "Times New Roman", serif' font-size="13.5" fill="#111">2.5</text>
<text transform="translate(354.42,631.4) scale(1,1.05)" text-anchor="middle" font-family='"Liberation Serif", "Times New Roman", serif' font-size="13.5" fill="#111">3</text>
<text transform="translate(377.24,631.4) scale(1,1.05)" text-anchor="middle" font-family='"Liberation Serif", "Times New Roman", serif' font-size="13.5" fill="#111">3.5</text>
<text transform="translate(400.06,631.4) scale(1,1.05)" text-anchor="middle" font-family='"Liberation Serif", "Times New Roman", serif' font-size="13.5" fill="#111">4</text>
<text transform="translate(422.88,631.4) scale(1,1.05)" text-anchor="middle" font-family='"Liberation Serif", "Times New Roman", serif' font-size="13.5" fill="#111">4.5</text>
<text transform="translate(445.7,631.4) scale(1,1.05)" text-anchor="middle" font-family='"Liberation Serif", "Times New Roman", serif' font-size="13.5" fill="#111">5</text>
<text transform="translate(468.51,631.4) scale(1,1.05)" text-anchor="middle" font-family='"Liberation Serif", "Times New Roman", serif' font-size="13.5" fill="#111">5.5</text>
<text transform="translate(491.33,631.4) scale(1,1.05)" text-anchor="middle" font-family='"Liberation Serif", "Times New Roman", serif' font-size="13.5" fill="#111">6</text>
<text transform="translate(514.15,631.4) scale(1,1.05)" text-anchor="middle" font-family='"Liberation Serif", "Times New Roman", serif' font-size="13.5" fill="#111">6.5</text>
<text transform="translate(536.97,631.4) scale(1,1.05)" text-anchor="middle" font-family='"Liberation Serif", "Times New Roman", serif' font-size="13.5" fill="#111">7</text>
<text transform="translate(327.6,620.5) scale(1,1.02)" text-anchor="end" font-family='"Liberation Serif", "Times New Roman", serif' font-size="13.2" fill="#111">0</text>
<text transform="translate(327.6,598.12) scale(1,1.02)" text-anchor="end" font-family='"Liberation Serif", "Times New Roman", serif' font-size="13.2" fill="#111">30</text>
<text transform="translate(327.6,575.73) scale(1,1.02)" text-anchor="end" font-family='"Liberation Serif", "Times New Roman", serif' font-size="13.2" fill="#111">60</text>
<text transform="translate(327.6,553.35) scale(1,1.02)" text-anchor="end" font-family='"Liberation Serif", "Times New Roman", serif' font-size="13.2" fill="#111">90</text>
<text transform="translate(327.6,530.97) scale(1,1.02)" text-anchor="end" font-family='"Liberation Serif", "Times New Roman", serif' font-size="13.2" fill="#111">120</text>
<text transform="translate(327.6,508.58) scale(1,1.02)" text-anchor="end" font-family='"Liberation Serif", "Times New Roman", serif' font-size="13.2" fill="#111">150</text>
<text transform="translate(327.6,486.2) scale(1,1.02)" text-anchor="end" font-family='"Liberation Serif", "Times New Roman", serif' font-size="13.2" fill="#111">180</text>
<text x="434.85" y="473.2" text-anchor="middle" font-family='"Liberation Serif", "Times New Roman", serif' font-weight="bold" font-size="15.6" fill="#000">Phase angle (Pitch)</text>
<text x="440.35" y="651.9" text-anchor="middle" font-family='"Liberation Serif", "Times New Roman", serif' font-style="italic" font-size="15" fill="#111">ω (rad/s)</text>
<text transform="translate(302.7,548.95) rotate(-90)" x="0" y="0" text-anchor="middle" font-family='"Liberation Serif", "Times New Roman", serif' font-style="italic" font-size="15.3" fill="#111">Phase angle (deg)</text>
<text x="283" y="213.9" text-anchor="middle" font-family='"Liberation Serif", "Times New Roman", serif' font-weight="bold" font-size="11.2" fill="#111">(a)</text>
<text x="283" y="443.5" text-anchor="middle" font-family='"Liberation Serif", "Times New Roman", serif' font-weight="bold" font-size="11.2" fill="#111">(b)</text>
<text x="283" y="673.1" text-anchor="middle" font-family='"Liberation Serif", "Times New Roman", serif' font-weight="bold" font-size="11.2" fill="#111">(c)</text>
</svg>
</body></html>
